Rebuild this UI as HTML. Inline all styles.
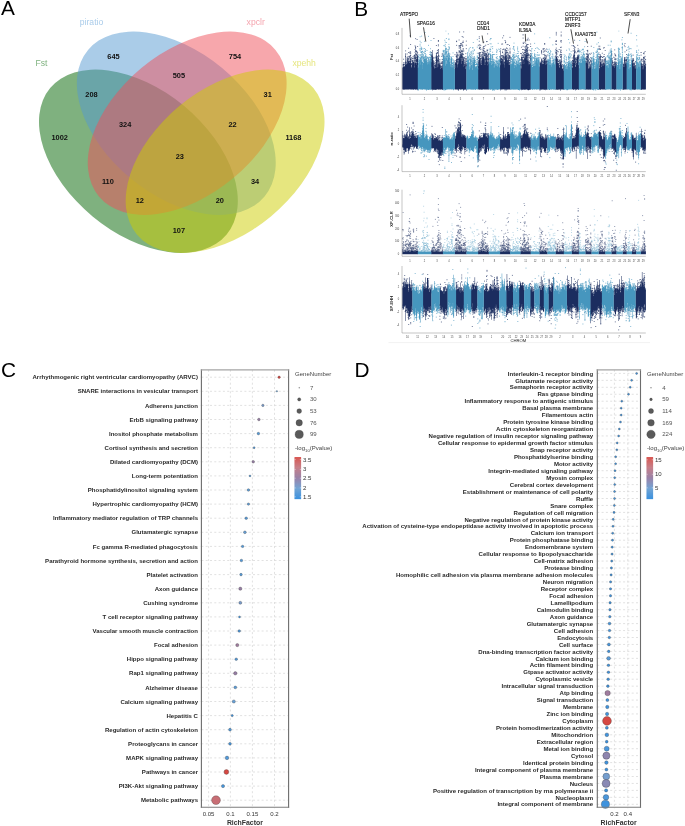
<!DOCTYPE html>
<html lang="en"><head><meta charset="utf-8"><title>Figure</title>
<style>
html,body{margin:0;padding:0;background:#fff;}
body{width:685px;height:826px;overflow:hidden;font-family:"Liberation Sans", sans-serif;}
svg{display:block;position:absolute;left:0;top:0;}
</style></head>
<body>
<svg width="685" height="826" viewBox="0 0 685 826" font-family='"Liberation Sans", sans-serif'>
<text x="1.0" y="15.3" font-size="20.8" fill="#000">A</text>
<text x="354.2" y="16.0" font-size="20.8" fill="#000">B</text>
<text x="0.9" y="376.6" font-size="20.8" fill="#000">C</text>
<text x="354.4" y="376.7" font-size="20.8" fill="#000">D</text>
<g id="venn">
<ellipse cx="138.4" cy="161.25" rx="114.7" ry="71.7" transform="rotate(39.7 138.4 161.25)" fill="#006400" fill-opacity="0.5"/>
<ellipse cx="176.3" cy="123.2" rx="114.7" ry="71.7" transform="rotate(39.7 176.3 123.2)" fill="#5599d1" fill-opacity="0.5"/>
<ellipse cx="187.2" cy="123.2" rx="114.7" ry="71.7" transform="rotate(-39.7 187.2 123.2)" fill="#ef4f59" fill-opacity="0.5"/>
<ellipse cx="225.1" cy="161.25" rx="114.7" ry="71.7" transform="rotate(-39.7 225.1 161.25)" fill="#cdcd00" fill-opacity="0.5"/>
<g font-size="7.4" font-weight="bold" text-anchor="middle" fill="#111">
<text x="59.7" y="139.90">1002</text>
<text x="113.5" y="59.10">645</text>
<text x="235" y="59.10">754</text>
<text x="293.4" y="139.90">1168</text>
<text x="91.5" y="96.50">208</text>
<text x="178.9" y="77.80">505</text>
<text x="267.7" y="96.50">31</text>
<text x="125.1" y="127.30">324</text>
<text x="232.6" y="127.30">22</text>
<text x="179.8" y="158.60">23</text>
<text x="107.9" y="184.20">110</text>
<text x="255" y="184.20">34</text>
<text x="139.8" y="202.80">12</text>
<text x="219.8" y="202.80">20</text>
<text x="178.9" y="233.10">107</text>
</g>
<g font-size="8.6">
<text x="35.4" y="65.5" fill="#7fb27f">Fst</text>
<text x="79.8" y="25.1" fill="#aaccea">piratio</text>
<text x="246.6" y="25.1" fill="#f5a5af">xpclr</text>
<text x="292.4" y="65.5" fill="#e6e67f">xpehh</text>
</g>
</g>
<g id="pc">
<path d="M201.4 377.20H288.6M201.4 391.30H288.6M201.4 405.40H288.6M201.4 419.50H288.6M201.4 433.60H288.6M201.4 447.70H288.6M201.4 461.80H288.6M201.4 475.90H288.6M201.4 490.00H288.6M201.4 504.10H288.6M201.4 518.20H288.6M201.4 532.30H288.6M201.4 546.40H288.6M201.4 560.50H288.6M201.4 574.60H288.6M201.4 588.70H288.6M201.4 602.80H288.6M201.4 616.90H288.6M201.4 631.00H288.6M201.4 645.10H288.6M201.4 659.20H288.6M201.4 673.30H288.6M201.4 687.40H288.6M201.4 701.50H288.6M201.4 715.60H288.6M201.4 729.70H288.6M201.4 743.80H288.6M201.4 757.90H288.6M201.4 772.00H288.6M201.4 786.10H288.6M201.4 800.20H288.6M208.6 369.8V807.3M230.4 369.8V807.3M252.4 369.8V807.3M274.5 369.8V807.3" stroke="#d4d4d4" stroke-width="0.7" stroke-dasharray="2 2.3" fill="none"/>
<path d="M199.6 377.20H201.4M199.6 391.30H201.4M199.6 405.40H201.4M199.6 419.50H201.4M199.6 433.60H201.4M199.6 447.70H201.4M199.6 461.80H201.4M199.6 475.90H201.4M199.6 490.00H201.4M199.6 504.10H201.4M199.6 518.20H201.4M199.6 532.30H201.4M199.6 546.40H201.4M199.6 560.50H201.4M199.6 574.60H201.4M199.6 588.70H201.4M199.6 602.80H201.4M199.6 616.90H201.4M199.6 631.00H201.4M199.6 645.10H201.4M199.6 659.20H201.4M199.6 673.30H201.4M199.6 687.40H201.4M199.6 701.50H201.4M199.6 715.60H201.4M199.6 729.70H201.4M199.6 743.80H201.4M199.6 757.90H201.4M199.6 772.00H201.4M199.6 786.10H201.4M199.6 800.20H201.4M208.6 807.3V809.0999999999999M230.4 807.3V809.0999999999999M252.4 807.3V809.0999999999999M274.5 807.3V809.0999999999999" stroke="#e8e8e8" stroke-width="0.4" fill="none"/>
<circle cx="279.1" cy="377.20" r="1.20" fill="#d64842" stroke="#333" stroke-width="0.3"/>
<circle cx="276.9" cy="391.30" r="0.70" fill="#5a9cd8" stroke="#333" stroke-width="0.3"/>
<circle cx="262.9" cy="405.40" r="1.20" fill="#789bcb" stroke="#333" stroke-width="0.3"/>
<circle cx="258.9" cy="419.50" r="1.30" fill="#967da5" stroke="#333" stroke-width="0.3"/>
<circle cx="258.4" cy="433.60" r="1.30" fill="#549ad9" stroke="#333" stroke-width="0.3"/>
<circle cx="254.1" cy="447.70" r="1.00" fill="#5098da" stroke="#333" stroke-width="0.3"/>
<circle cx="253.2" cy="461.80" r="1.30" fill="#967da5" stroke="#333" stroke-width="0.3"/>
<circle cx="250.0" cy="475.90" r="0.90" fill="#4b97db" stroke="#333" stroke-width="0.3"/>
<circle cx="248.4" cy="490.00" r="1.30" fill="#5a9cd8" stroke="#333" stroke-width="0.3"/>
<circle cx="248.4" cy="504.10" r="1.20" fill="#5a9cd8" stroke="#333" stroke-width="0.3"/>
<circle cx="246.2" cy="518.20" r="1.30" fill="#549ad9" stroke="#333" stroke-width="0.3"/>
<circle cx="244.9" cy="532.30" r="1.40" fill="#659fd6" stroke="#333" stroke-width="0.3"/>
<circle cx="242.6" cy="546.40" r="1.20" fill="#4b97db" stroke="#333" stroke-width="0.3"/>
<circle cx="241.4" cy="560.50" r="1.30" fill="#5098da" stroke="#333" stroke-width="0.3"/>
<circle cx="241.0" cy="574.60" r="1.30" fill="#549ad9" stroke="#333" stroke-width="0.3"/>
<circle cx="240.3" cy="588.70" r="1.60" fill="#967da5" stroke="#333" stroke-width="0.3"/>
<circle cx="240.3" cy="602.80" r="1.50" fill="#789bcb" stroke="#333" stroke-width="0.3"/>
<circle cx="239.5" cy="616.90" r="1.00" fill="#4595dc" stroke="#333" stroke-width="0.3"/>
<circle cx="239.2" cy="631.00" r="1.30" fill="#5098da" stroke="#333" stroke-width="0.3"/>
<circle cx="237.3" cy="645.10" r="1.60" fill="#9f7c9e" stroke="#333" stroke-width="0.3"/>
<circle cx="236.2" cy="659.20" r="1.30" fill="#549ad9" stroke="#333" stroke-width="0.3"/>
<circle cx="235.3" cy="673.30" r="1.70" fill="#967da5" stroke="#333" stroke-width="0.3"/>
<circle cx="235.3" cy="687.40" r="1.40" fill="#5a9cd8" stroke="#333" stroke-width="0.3"/>
<circle cx="233.8" cy="701.50" r="1.60" fill="#659fd6" stroke="#333" stroke-width="0.3"/>
<circle cx="232.2" cy="715.60" r="1.10" fill="#3e92dd" stroke="#333" stroke-width="0.3"/>
<circle cx="230.0" cy="729.70" r="1.40" fill="#4b97db" stroke="#333" stroke-width="0.3"/>
<circle cx="230.0" cy="743.80" r="1.40" fill="#4595dc" stroke="#333" stroke-width="0.3"/>
<circle cx="227.0" cy="757.90" r="1.80" fill="#5098da" stroke="#333" stroke-width="0.3"/>
<circle cx="226.4" cy="772.00" r="2.40" fill="#d64842" stroke="#333" stroke-width="0.3"/>
<circle cx="223.0" cy="786.10" r="1.60" fill="#4595dc" stroke="#333" stroke-width="0.3"/>
<circle cx="216.0" cy="800.20" r="4.40" fill="#c86e75" stroke="#333" stroke-width="0.3"/>
<path d="M201.4 369.25V807.8499999999999M288.6 369.25V807.8499999999999" fill="none" stroke="#6c6c6c" stroke-width="1.1"/>
<path d="M200.85 807.3H289.15000000000003" fill="none" stroke="#7c7c7c" stroke-width="1.1"/>
<path d="M200.85 369.8H289.15000000000003" fill="none" stroke="#a4a4a4" stroke-width="1.3"/>
<g font-size="6.05" font-weight="bold" text-anchor="end" fill="#2a2a2a">
<text x="198.0" y="379.38">Arrhythmogenic right ventricular cardiomyopathy (ARVC)</text>
<text x="198.0" y="393.48">SNARE interactions in vesicular transport</text>
<text x="198.0" y="407.58">Adherens junction</text>
<text x="198.0" y="421.68">ErbB signaling pathway</text>
<text x="198.0" y="435.78">Inositol phosphate metabolism</text>
<text x="198.0" y="449.88">Cortisol synthesis and secretion</text>
<text x="198.0" y="463.98">Dilated cardiomyopathy (DCM)</text>
<text x="198.0" y="478.08">Long-term potentiation</text>
<text x="198.0" y="492.18">Phosphatidylinositol signaling system</text>
<text x="198.0" y="506.28">Hypertrophic cardiomyopathy (HCM)</text>
<text x="198.0" y="520.38">Inflammatory mediator regulation of TRP channels</text>
<text x="198.0" y="534.48">Glutamatergic synapse</text>
<text x="198.0" y="548.58">Fc gamma R-mediated phagocytosis</text>
<text x="198.0" y="562.68">Parathyroid hormone synthesis, secretion and action</text>
<text x="198.0" y="576.78">Platelet activation</text>
<text x="198.0" y="590.88">Axon guidance</text>
<text x="198.0" y="604.98">Cushing syndrome</text>
<text x="198.0" y="619.08">T cell receptor signaling pathway</text>
<text x="198.0" y="633.18">Vascular smooth muscle contraction</text>
<text x="198.0" y="647.28">Focal adhesion</text>
<text x="198.0" y="661.38">Hippo signaling pathway</text>
<text x="198.0" y="675.48">Rap1 signaling pathway</text>
<text x="198.0" y="689.58">Alzheimer disease</text>
<text x="198.0" y="703.68">Calcium signaling pathway</text>
<text x="198.0" y="717.78">Hepatitis C</text>
<text x="198.0" y="731.88">Regulation of actin cytoskeleton</text>
<text x="198.0" y="745.98">Proteoglycans in cancer</text>
<text x="198.0" y="760.08">MAPK signaling pathway</text>
<text x="198.0" y="774.18">Pathways in cancer</text>
<text x="198.0" y="788.28">PI3K-Akt signaling pathway</text>
<text x="198.0" y="802.38">Metabolic pathways</text>
</g>
<g font-size="6.05" text-anchor="middle" fill="#333">
<text x="208.6" y="815.85">0.05</text>
<text x="230.4" y="815.85">0.1</text>
<text x="252.4" y="815.85">0.15</text>
<text x="274.5" y="815.85">0.2</text>
</g>
<text x="244.9" y="824.9" font-size="6.9" font-weight="bold" text-anchor="middle" fill="#333">RichFactor</text>
<text x="295" y="375.7" font-size="6.05" fill="#444">GeneNumber</text>
<circle cx="299.2" cy="387.8" r="0.4" fill="#5a5a5a" stroke="#333" stroke-width="0.3"/>
<text x="310" y="389.8" font-size="6.05" fill="#555">7</text>
<circle cx="299.2" cy="399.4" r="1.6" fill="#5a5a5a" stroke="#333" stroke-width="0.3"/>
<text x="310" y="401.4" font-size="6.05" fill="#555">30</text>
<circle cx="299.2" cy="411.1" r="2.4" fill="#5a5a5a" stroke="#333" stroke-width="0.3"/>
<text x="310" y="413.1" font-size="6.05" fill="#555">53</text>
<circle cx="299.2" cy="422.8" r="3.2" fill="#5a5a5a" stroke="#333" stroke-width="0.3"/>
<text x="310" y="424.8" font-size="6.05" fill="#555">76</text>
<circle cx="299.2" cy="434.4" r="4.1" fill="#5a5a5a" stroke="#333" stroke-width="0.3"/>
<text x="310" y="436.4" font-size="6.05" fill="#555">99</text>
<text x="295" y="450.4" font-size="6.05" fill="#444">-log<tspan font-size="4.2" dy="1.4">10</tspan><tspan dy="-1.4">(Pvalue)</tspan></text>
<rect x="294.5" y="457.10" width="6.6" height="1.15" fill="#d54a45"/>
<rect x="294.5" y="458.10" width="6.6" height="1.15" fill="#d34f4b"/>
<rect x="294.5" y="459.10" width="6.6" height="1.15" fill="#d25351"/>
<rect x="294.5" y="460.09" width="6.6" height="1.15" fill="#d05857"/>
<rect x="294.5" y="461.09" width="6.6" height="1.15" fill="#ce5d5d"/>
<rect x="294.5" y="462.09" width="6.6" height="1.15" fill="#cd6164"/>
<rect x="294.5" y="463.09" width="6.6" height="1.15" fill="#cb666a"/>
<rect x="294.5" y="464.08" width="6.6" height="1.15" fill="#c96a70"/>
<rect x="294.5" y="465.08" width="6.6" height="1.15" fill="#c76f76"/>
<rect x="294.5" y="466.08" width="6.6" height="1.15" fill="#c6737c"/>
<rect x="294.5" y="467.08" width="6.6" height="1.15" fill="#c47882"/>
<rect x="294.5" y="468.07" width="6.6" height="1.15" fill="#c07885"/>
<rect x="294.5" y="469.07" width="6.6" height="1.15" fill="#bb7989"/>
<rect x="294.5" y="470.07" width="6.6" height="1.15" fill="#b7798c"/>
<rect x="294.5" y="471.07" width="6.6" height="1.15" fill="#b27a8f"/>
<rect x="294.5" y="472.06" width="6.6" height="1.15" fill="#ae7a93"/>
<rect x="294.5" y="473.06" width="6.6" height="1.15" fill="#aa7b96"/>
<rect x="294.5" y="474.06" width="6.6" height="1.15" fill="#a57b99"/>
<rect x="294.5" y="475.06" width="6.6" height="1.15" fill="#a17c9d"/>
<rect x="294.5" y="476.05" width="6.6" height="1.15" fill="#9d7ca0"/>
<rect x="294.5" y="477.05" width="6.6" height="1.15" fill="#987da3"/>
<rect x="294.5" y="478.05" width="6.6" height="1.15" fill="#947fa7"/>
<rect x="294.5" y="479.05" width="6.6" height="1.15" fill="#9182ac"/>
<rect x="294.5" y="480.05" width="6.6" height="1.15" fill="#8d86b0"/>
<rect x="294.5" y="481.04" width="6.6" height="1.15" fill="#898ab5"/>
<rect x="294.5" y="482.04" width="6.6" height="1.15" fill="#868db9"/>
<rect x="294.5" y="483.04" width="6.6" height="1.15" fill="#8291be"/>
<rect x="294.5" y="484.04" width="6.6" height="1.15" fill="#7e95c2"/>
<rect x="294.5" y="485.03" width="6.6" height="1.15" fill="#7b98c7"/>
<rect x="294.5" y="486.03" width="6.6" height="1.15" fill="#779ccb"/>
<rect x="294.5" y="487.03" width="6.6" height="1.15" fill="#749fd0"/>
<rect x="294.5" y="488.03" width="6.6" height="1.15" fill="#70a3d4"/>
<rect x="294.5" y="489.02" width="6.6" height="1.15" fill="#6ba1d5"/>
<rect x="294.5" y="490.02" width="6.6" height="1.15" fill="#66a0d6"/>
<rect x="294.5" y="491.02" width="6.6" height="1.15" fill="#619ed7"/>
<rect x="294.5" y="492.02" width="6.6" height="1.15" fill="#5b9cd8"/>
<rect x="294.5" y="493.01" width="6.6" height="1.15" fill="#569ad9"/>
<rect x="294.5" y="494.01" width="6.6" height="1.15" fill="#5199da"/>
<rect x="294.5" y="495.01" width="6.6" height="1.15" fill="#4c97db"/>
<rect x="294.5" y="496.01" width="6.6" height="1.15" fill="#4795dc"/>
<rect x="294.5" y="497.00" width="6.6" height="1.15" fill="#4294dd"/>
<rect x="294.5" y="498.00" width="6.6" height="1.15" fill="#3d92de"/>
<text x="303" y="461.5" font-size="6.05" fill="#333">3.5</text>
<text x="303" y="471.29999999999995" font-size="6.05" fill="#333">3</text>
<text x="303" y="480.09999999999997" font-size="6.05" fill="#333">2.5</text>
<text x="303" y="489.79999999999995" font-size="6.05" fill="#333">2</text>
<text x="303" y="498.7" font-size="6.05" fill="#333">1.5</text>
<path d="M294.5 459.6h1.3M301.1 459.6h-1.3M294.5 469.4h1.3M301.1 469.4h-1.3M294.5 478.2h1.3M301.1 478.2h-1.3M294.5 487.9h1.3M301.1 487.9h-1.3M294.5 496.8h1.3M301.1 496.8h-1.3" stroke="#fff" stroke-width="0.4" fill="none"/>
</g>
<g id="pd">
<path d="M597.3 373.40H640.5M597.3 380.35H640.5M597.3 387.30H640.5M597.3 394.25H640.5M597.3 401.20H640.5M597.3 408.15H640.5M597.3 415.10H640.5M597.3 422.05H640.5M597.3 429.00H640.5M597.3 435.95H640.5M597.3 442.90H640.5M597.3 449.85H640.5M597.3 456.80H640.5M597.3 463.75H640.5M597.3 470.70H640.5M597.3 477.65H640.5M597.3 484.60H640.5M597.3 491.55H640.5M597.3 498.50H640.5M597.3 505.45H640.5M597.3 512.40H640.5M597.3 519.35H640.5M597.3 526.30H640.5M597.3 533.25H640.5M597.3 540.20H640.5M597.3 547.15H640.5M597.3 554.10H640.5M597.3 561.05H640.5M597.3 568.00H640.5M597.3 574.95H640.5M597.3 581.90H640.5M597.3 588.85H640.5M597.3 595.80H640.5M597.3 602.75H640.5M597.3 609.70H640.5M597.3 616.65H640.5M597.3 623.60H640.5M597.3 630.55H640.5M597.3 637.50H640.5M597.3 644.45H640.5M597.3 651.40H640.5M597.3 658.35H640.5M597.3 665.30H640.5M597.3 672.25H640.5M597.3 679.20H640.5M597.3 686.15H640.5M597.3 693.10H640.5M597.3 700.05H640.5M597.3 707.00H640.5M597.3 713.95H640.5M597.3 720.90H640.5M597.3 727.85H640.5M597.3 734.80H640.5M597.3 741.75H640.5M597.3 748.70H640.5M597.3 755.65H640.5M597.3 762.60H640.5M597.3 769.55H640.5M597.3 776.50H640.5M597.3 783.45H640.5M597.3 790.40H640.5M597.3 797.35H640.5M597.3 804.30H640.5M614.4 369.8V807.3M627.8 369.8V807.3" stroke="#d4d4d4" stroke-width="0.7" stroke-dasharray="2 2.3" fill="none"/>
<path d="M595.5 373.40H597.3M595.5 380.35H597.3M595.5 387.30H597.3M595.5 394.25H597.3M595.5 401.20H597.3M595.5 408.15H597.3M595.5 415.10H597.3M595.5 422.05H597.3M595.5 429.00H597.3M595.5 435.95H597.3M595.5 442.90H597.3M595.5 449.85H597.3M595.5 456.80H597.3M595.5 463.75H597.3M595.5 470.70H597.3M595.5 477.65H597.3M595.5 484.60H597.3M595.5 491.55H597.3M595.5 498.50H597.3M595.5 505.45H597.3M595.5 512.40H597.3M595.5 519.35H597.3M595.5 526.30H597.3M595.5 533.25H597.3M595.5 540.20H597.3M595.5 547.15H597.3M595.5 554.10H597.3M595.5 561.05H597.3M595.5 568.00H597.3M595.5 574.95H597.3M595.5 581.90H597.3M595.5 588.85H597.3M595.5 595.80H597.3M595.5 602.75H597.3M595.5 609.70H597.3M595.5 616.65H597.3M595.5 623.60H597.3M595.5 630.55H597.3M595.5 637.50H597.3M595.5 644.45H597.3M595.5 651.40H597.3M595.5 658.35H597.3M595.5 665.30H597.3M595.5 672.25H597.3M595.5 679.20H597.3M595.5 686.15H597.3M595.5 693.10H597.3M595.5 700.05H597.3M595.5 707.00H597.3M595.5 713.95H597.3M595.5 720.90H597.3M595.5 727.85H597.3M595.5 734.80H597.3M595.5 741.75H597.3M595.5 748.70H597.3M595.5 755.65H597.3M595.5 762.60H597.3M595.5 769.55H597.3M595.5 776.50H597.3M595.5 783.45H597.3M595.5 790.40H597.3M595.5 797.35H597.3M595.5 804.30H597.3M614.4 807.3V809.0999999999999M627.8 807.3V809.0999999999999" stroke="#e8e8e8" stroke-width="0.4" fill="none"/>
<circle cx="636.6" cy="373.40" r="1.00" fill="#4093dd" stroke="#333" stroke-width="0.3"/>
<circle cx="631.6" cy="380.35" r="1.00" fill="#4093dd" stroke="#333" stroke-width="0.3"/>
<circle cx="630.2" cy="387.30" r="1.00" fill="#4093dd" stroke="#333" stroke-width="0.3"/>
<circle cx="628.5" cy="394.25" r="1.00" fill="#4093dd" stroke="#333" stroke-width="0.3"/>
<circle cx="621.8" cy="401.20" r="1.00" fill="#4093dd" stroke="#333" stroke-width="0.3"/>
<circle cx="621.2" cy="408.15" r="1.00" fill="#4093dd" stroke="#333" stroke-width="0.3"/>
<circle cx="621.2" cy="415.10" r="1.00" fill="#4093dd" stroke="#333" stroke-width="0.3"/>
<circle cx="620.5" cy="422.05" r="1.00" fill="#4093dd" stroke="#333" stroke-width="0.3"/>
<circle cx="619.3" cy="429.00" r="1.00" fill="#4093dd" stroke="#333" stroke-width="0.3"/>
<circle cx="618.6" cy="435.95" r="1.00" fill="#4093dd" stroke="#333" stroke-width="0.3"/>
<circle cx="617.2" cy="442.90" r="1.00" fill="#4093dd" stroke="#333" stroke-width="0.3"/>
<circle cx="616.9" cy="449.85" r="1.00" fill="#4093dd" stroke="#333" stroke-width="0.3"/>
<circle cx="615.7" cy="456.80" r="1.00" fill="#4093dd" stroke="#333" stroke-width="0.3"/>
<circle cx="615.6" cy="463.75" r="1.00" fill="#4093dd" stroke="#333" stroke-width="0.3"/>
<circle cx="615.0" cy="470.70" r="1.00" fill="#4093dd" stroke="#333" stroke-width="0.3"/>
<circle cx="614.7" cy="477.65" r="1.00" fill="#4093dd" stroke="#333" stroke-width="0.3"/>
<circle cx="614.7" cy="484.60" r="1.00" fill="#4093dd" stroke="#333" stroke-width="0.3"/>
<circle cx="614.55" cy="491.55" r="1.00" fill="#4093dd" stroke="#333" stroke-width="0.3"/>
<circle cx="614.55" cy="498.50" r="1.01" fill="#4093dd" stroke="#333" stroke-width="0.3"/>
<circle cx="614.3" cy="505.45" r="1.02" fill="#4093dd" stroke="#333" stroke-width="0.3"/>
<circle cx="614.0" cy="512.40" r="1.04" fill="#4093dd" stroke="#333" stroke-width="0.3"/>
<circle cx="613.2" cy="519.35" r="1.05" fill="#4093dd" stroke="#333" stroke-width="0.3"/>
<circle cx="613.0" cy="526.30" r="1.06" fill="#4093dd" stroke="#333" stroke-width="0.3"/>
<circle cx="612.7" cy="533.25" r="1.07" fill="#4093dd" stroke="#333" stroke-width="0.3"/>
<circle cx="612.5" cy="540.20" r="1.08" fill="#4093dd" stroke="#333" stroke-width="0.3"/>
<circle cx="612.2" cy="547.15" r="1.10" fill="#4093dd" stroke="#333" stroke-width="0.3"/>
<circle cx="612.1" cy="554.10" r="1.11" fill="#4093dd" stroke="#333" stroke-width="0.3"/>
<circle cx="611.8" cy="561.05" r="1.12" fill="#4093dd" stroke="#333" stroke-width="0.3"/>
<circle cx="611.4" cy="568.00" r="1.13" fill="#4093dd" stroke="#333" stroke-width="0.3"/>
<circle cx="611.1" cy="574.95" r="1.14" fill="#4093dd" stroke="#333" stroke-width="0.3"/>
<circle cx="610.6" cy="581.90" r="1.16" fill="#4093dd" stroke="#333" stroke-width="0.3"/>
<circle cx="610.5" cy="588.85" r="1.17" fill="#4093dd" stroke="#333" stroke-width="0.3"/>
<circle cx="610.5" cy="595.80" r="1.18" fill="#4093dd" stroke="#333" stroke-width="0.3"/>
<circle cx="610.05" cy="602.75" r="1.19" fill="#4093dd" stroke="#333" stroke-width="0.3"/>
<circle cx="609.9" cy="609.70" r="1.20" fill="#4093dd" stroke="#333" stroke-width="0.3"/>
<circle cx="609.8" cy="616.65" r="1.22" fill="#4093dd" stroke="#333" stroke-width="0.3"/>
<circle cx="609.5" cy="623.60" r="1.40" fill="#4595dc" stroke="#333" stroke-width="0.3"/>
<circle cx="609.5" cy="630.55" r="1.24" fill="#4093dd" stroke="#333" stroke-width="0.3"/>
<circle cx="609.3" cy="637.50" r="1.25" fill="#4093dd" stroke="#333" stroke-width="0.3"/>
<circle cx="608.9" cy="644.45" r="1.50" fill="#4595dc" stroke="#333" stroke-width="0.3"/>
<circle cx="608.7" cy="651.40" r="1.28" fill="#4093dd" stroke="#333" stroke-width="0.3"/>
<circle cx="608.6" cy="658.35" r="1.90" fill="#5a9cd8" stroke="#333" stroke-width="0.3"/>
<circle cx="608.45" cy="665.30" r="1.30" fill="#4093dd" stroke="#333" stroke-width="0.3"/>
<circle cx="608.45" cy="672.25" r="1.31" fill="#4093dd" stroke="#333" stroke-width="0.3"/>
<circle cx="608.2" cy="679.20" r="1.32" fill="#4093dd" stroke="#333" stroke-width="0.3"/>
<circle cx="607.9" cy="686.15" r="1.34" fill="#4093dd" stroke="#333" stroke-width="0.3"/>
<circle cx="607.6" cy="693.10" r="2.70" fill="#9f7c9e" stroke="#333" stroke-width="0.3"/>
<circle cx="607.4" cy="700.05" r="1.50" fill="#4093dd" stroke="#333" stroke-width="0.3"/>
<circle cx="607.3" cy="707.00" r="1.70" fill="#4093dd" stroke="#333" stroke-width="0.3"/>
<circle cx="607.1" cy="713.95" r="1.70" fill="#4093dd" stroke="#333" stroke-width="0.3"/>
<circle cx="607.0" cy="720.90" r="4.40" fill="#d64842" stroke="#333" stroke-width="0.3"/>
<circle cx="606.85" cy="727.85" r="1.50" fill="#4093dd" stroke="#333" stroke-width="0.3"/>
<circle cx="606.85" cy="734.80" r="1.90" fill="#4093dd" stroke="#333" stroke-width="0.3"/>
<circle cx="606.7" cy="741.75" r="1.40" fill="#3a91de" stroke="#333" stroke-width="0.3"/>
<circle cx="606.7" cy="748.70" r="2.50" fill="#4b97db" stroke="#333" stroke-width="0.3"/>
<circle cx="606.4" cy="755.65" r="3.60" fill="#8e85ae" stroke="#333" stroke-width="0.3"/>
<circle cx="606.4" cy="762.60" r="1.80" fill="#4093dd" stroke="#333" stroke-width="0.3"/>
<circle cx="606.4" cy="769.55" r="1.50" fill="#3a91de" stroke="#333" stroke-width="0.3"/>
<circle cx="606.3" cy="776.50" r="3.40" fill="#759ece" stroke="#333" stroke-width="0.3"/>
<circle cx="606.1" cy="783.45" r="4.00" fill="#8a89b4" stroke="#333" stroke-width="0.3"/>
<circle cx="606.1" cy="790.40" r="1.60" fill="#3a91de" stroke="#333" stroke-width="0.3"/>
<circle cx="606.0" cy="797.35" r="2.80" fill="#4b97db" stroke="#333" stroke-width="0.3"/>
<circle cx="605.4" cy="804.30" r="4.10" fill="#3e92dd" stroke="#333" stroke-width="0.3"/>
<path d="M597.3 369.25V807.8499999999999M640.5 369.25V807.8499999999999" fill="none" stroke="#6c6c6c" stroke-width="1.1"/>
<path d="M596.75 807.3H641.05" fill="none" stroke="#7c7c7c" stroke-width="1.1"/>
<path d="M596.75 369.8H641.05" fill="none" stroke="#a4a4a4" stroke-width="1.3"/>
<g font-size="6.05" font-weight="bold" text-anchor="end" fill="#2a2a2a">
<text x="593.2" y="375.58">Interleukin-1 receptor binding</text>
<text x="593.2" y="382.53">Glutamate receptor activity</text>
<text x="593.2" y="389.48">Semaphorin receptor activity</text>
<text x="593.2" y="396.43">Ras gtpase binding</text>
<text x="593.2" y="403.38">Inflammatory response to antigenic stimulus</text>
<text x="593.2" y="410.33">Basal plasma membrane</text>
<text x="593.2" y="417.28">Filamentous actin</text>
<text x="593.2" y="424.23">Protein tyrosine kinase binding</text>
<text x="593.2" y="431.18">Actin cytoskeleton reorganization</text>
<text x="593.2" y="438.13">Negative regulation of insulin receptor signaling pathway</text>
<text x="593.2" y="445.08">Cellular response to epidermal growth factor stimulus</text>
<text x="593.2" y="452.03">Snap receptor activity</text>
<text x="593.2" y="458.98">Phosphatidylserine binding</text>
<text x="593.2" y="465.93">Motor activity</text>
<text x="593.2" y="472.88">Integrin-mediated signaling pathway</text>
<text x="593.2" y="479.83">Myosin complex</text>
<text x="593.2" y="486.78">Cerebral cortex development</text>
<text x="593.2" y="493.73">Establishment or maintenance of cell polarity</text>
<text x="593.2" y="500.68">Ruffle</text>
<text x="593.2" y="507.63">Snare complex</text>
<text x="593.2" y="514.58">Regulation of cell migration</text>
<text x="593.2" y="521.53">Negative regulation of protein kinase activity</text>
<text x="593.2" y="528.48">Activation of cysteine-type endopeptidase activity involved in apoptotic process</text>
<text x="593.2" y="535.43">Calcium ion transport</text>
<text x="593.2" y="542.38">Protein phosphatase binding</text>
<text x="593.2" y="549.33">Endomembrane system</text>
<text x="593.2" y="556.28">Cellular response to lipopolysaccharide</text>
<text x="593.2" y="563.23">Cell-matrix adhesion</text>
<text x="593.2" y="570.18">Protease binding</text>
<text x="593.2" y="577.13">Homophilic cell adhesion via plasma membrane adhesion molecules</text>
<text x="593.2" y="584.08">Neuron migration</text>
<text x="593.2" y="591.03">Receptor complex</text>
<text x="593.2" y="597.98">Focal adhesion</text>
<text x="593.2" y="604.93">Lamellipodium</text>
<text x="593.2" y="611.88">Calmodulin binding</text>
<text x="593.2" y="618.83">Axon guidance</text>
<text x="593.2" y="625.78">Glutamatergic synapse</text>
<text x="593.2" y="632.73">Cell adhesion</text>
<text x="593.2" y="639.68">Endocytosis</text>
<text x="593.2" y="646.63">Cell surface</text>
<text x="593.2" y="653.58">Dna-binding transcription factor activity</text>
<text x="593.2" y="660.53">Calcium ion binding</text>
<text x="593.2" y="667.48">Actin filament binding</text>
<text x="593.2" y="674.43">Gtpase activator activity</text>
<text x="593.2" y="681.38">Cytoplasmic vesicle</text>
<text x="593.2" y="688.33">Intracellular signal transduction</text>
<text x="593.2" y="695.28">Atp binding</text>
<text x="593.2" y="702.23">Signal transduction</text>
<text x="593.2" y="709.18">Membrane</text>
<text x="593.2" y="716.13">Zinc ion binding</text>
<text x="593.2" y="723.08">Cytoplasm</text>
<text x="593.2" y="730.03">Protein homodimerization activity</text>
<text x="593.2" y="736.98">Mitochondrion</text>
<text x="593.2" y="743.93">Extracellular region</text>
<text x="593.2" y="750.88">Metal ion binding</text>
<text x="593.2" y="757.83">Cytosol</text>
<text x="593.2" y="764.78">Identical protein binding</text>
<text x="593.2" y="771.73">Integral component of plasma membrane</text>
<text x="593.2" y="778.68">Plasma membrane</text>
<text x="593.2" y="785.63">Nucleus</text>
<text x="593.2" y="792.58">Positive regulation of transcription by rna polymerase ii</text>
<text x="593.2" y="799.53">Nucleoplasm</text>
<text x="593.2" y="806.48">Integral component of membrane</text>
</g>
<g font-size="6.05" text-anchor="middle" fill="#333">
<text x="614.4" y="815.75">0.2</text>
<text x="627.8" y="815.75">0.4</text>
</g>
<text x="618.6" y="824.8" font-size="6.9" font-weight="bold" text-anchor="middle" fill="#333">RichFactor</text>
<text x="647" y="375.7" font-size="6.05" fill="#444">GeneNumber</text>
<circle cx="651" cy="387.8" r="0.4" fill="#5a5a5a" stroke="#333" stroke-width="0.3"/>
<text x="662.2" y="389.8" font-size="6.05" fill="#555">4</text>
<circle cx="651" cy="399.4" r="1.3" fill="#5a5a5a" stroke="#333" stroke-width="0.3"/>
<text x="662.2" y="401.4" font-size="6.05" fill="#555">59</text>
<circle cx="651" cy="411.1" r="2.5" fill="#5a5a5a" stroke="#333" stroke-width="0.3"/>
<text x="662.2" y="413.1" font-size="6.05" fill="#555">114</text>
<circle cx="651" cy="422.8" r="3.3" fill="#5a5a5a" stroke="#333" stroke-width="0.3"/>
<text x="662.2" y="424.8" font-size="6.05" fill="#555">169</text>
<circle cx="651" cy="434.4" r="4.2" fill="#5a5a5a" stroke="#333" stroke-width="0.3"/>
<text x="662.2" y="436.4" font-size="6.05" fill="#555">224</text>
<text x="647" y="450.4" font-size="6.05" fill="#444">-log<tspan font-size="4.2" dy="1.4">10</tspan><tspan dy="-1.4">(Pvalue)</tspan></text>
<rect x="646.5" y="457.10" width="6.6" height="1.15" fill="#d54a45"/>
<rect x="646.5" y="458.10" width="6.6" height="1.15" fill="#d34f4b"/>
<rect x="646.5" y="459.10" width="6.6" height="1.15" fill="#d25351"/>
<rect x="646.5" y="460.09" width="6.6" height="1.15" fill="#d05857"/>
<rect x="646.5" y="461.09" width="6.6" height="1.15" fill="#ce5d5d"/>
<rect x="646.5" y="462.09" width="6.6" height="1.15" fill="#cd6164"/>
<rect x="646.5" y="463.09" width="6.6" height="1.15" fill="#cb666a"/>
<rect x="646.5" y="464.08" width="6.6" height="1.15" fill="#c96a70"/>
<rect x="646.5" y="465.08" width="6.6" height="1.15" fill="#c76f76"/>
<rect x="646.5" y="466.08" width="6.6" height="1.15" fill="#c6737c"/>
<rect x="646.5" y="467.08" width="6.6" height="1.15" fill="#c47882"/>
<rect x="646.5" y="468.07" width="6.6" height="1.15" fill="#c07885"/>
<rect x="646.5" y="469.07" width="6.6" height="1.15" fill="#bb7989"/>
<rect x="646.5" y="470.07" width="6.6" height="1.15" fill="#b7798c"/>
<rect x="646.5" y="471.07" width="6.6" height="1.15" fill="#b27a8f"/>
<rect x="646.5" y="472.06" width="6.6" height="1.15" fill="#ae7a93"/>
<rect x="646.5" y="473.06" width="6.6" height="1.15" fill="#aa7b96"/>
<rect x="646.5" y="474.06" width="6.6" height="1.15" fill="#a57b99"/>
<rect x="646.5" y="475.06" width="6.6" height="1.15" fill="#a17c9d"/>
<rect x="646.5" y="476.05" width="6.6" height="1.15" fill="#9d7ca0"/>
<rect x="646.5" y="477.05" width="6.6" height="1.15" fill="#987da3"/>
<rect x="646.5" y="478.05" width="6.6" height="1.15" fill="#947fa7"/>
<rect x="646.5" y="479.05" width="6.6" height="1.15" fill="#9182ac"/>
<rect x="646.5" y="480.05" width="6.6" height="1.15" fill="#8d86b0"/>
<rect x="646.5" y="481.04" width="6.6" height="1.15" fill="#898ab5"/>
<rect x="646.5" y="482.04" width="6.6" height="1.15" fill="#868db9"/>
<rect x="646.5" y="483.04" width="6.6" height="1.15" fill="#8291be"/>
<rect x="646.5" y="484.04" width="6.6" height="1.15" fill="#7e95c2"/>
<rect x="646.5" y="485.03" width="6.6" height="1.15" fill="#7b98c7"/>
<rect x="646.5" y="486.03" width="6.6" height="1.15" fill="#779ccb"/>
<rect x="646.5" y="487.03" width="6.6" height="1.15" fill="#749fd0"/>
<rect x="646.5" y="488.03" width="6.6" height="1.15" fill="#70a3d4"/>
<rect x="646.5" y="489.02" width="6.6" height="1.15" fill="#6ba1d5"/>
<rect x="646.5" y="490.02" width="6.6" height="1.15" fill="#66a0d6"/>
<rect x="646.5" y="491.02" width="6.6" height="1.15" fill="#619ed7"/>
<rect x="646.5" y="492.02" width="6.6" height="1.15" fill="#5b9cd8"/>
<rect x="646.5" y="493.01" width="6.6" height="1.15" fill="#569ad9"/>
<rect x="646.5" y="494.01" width="6.6" height="1.15" fill="#5199da"/>
<rect x="646.5" y="495.01" width="6.6" height="1.15" fill="#4c97db"/>
<rect x="646.5" y="496.01" width="6.6" height="1.15" fill="#4795dc"/>
<rect x="646.5" y="497.00" width="6.6" height="1.15" fill="#4294dd"/>
<rect x="646.5" y="498.00" width="6.6" height="1.15" fill="#3d92de"/>
<text x="654.9" y="461.7" font-size="6.05" fill="#333">15</text>
<text x="654.9" y="476.2" font-size="6.05" fill="#333">10</text>
<text x="654.9" y="489.7" font-size="6.05" fill="#333">5</text>
<path d="M646.5 459.8h1.3M653.1 459.8h-1.3M646.5 474.3h1.3M653.1 474.3h-1.3M646.5 487.8h1.3M653.1 487.8h-1.3" stroke="#fff" stroke-width="0.4" fill="none"/>
</g>
<g id="manh">
<path d="M403.1 64.3v.8M403.1 65.4v.8M403.6 58.8v.8M403.6 62.4v.8M403.6 64v1.2M404.1 64.3v.8M404.6 63.7v.8M404.6 66v.8M405.1 62.2v.8M405.6 50.5v.8M405.6 56.2v.8M405.6 60.8v.8M405.6 62.3v1.5M406.1 62.4v.8M406.1 64.3v1.9M406.6 62.7v.8M407.1 53.6v.8M407.1 57.1v.8M407.1 58.3v1.8M407.1 60.2v3.4M407.6 58.4v.8M407.6 59.5v2.2M407.6 63.5v.8M408.1 55.9v1.6M408.1 58.3v.8M408.6 47.8v.8M408.6 52v.8M408.6 58.3v1.2M409.1 60.7v1.3M409.6 52.6v.8M409.6 56.1v.8M409.6 57.5v.8M409.6 61.5v1.1M410.1 35.5v.8M410.1 51.5v.8M410.1 55.4v2.9M410.1 58.6v2.1M410.1 61v.8M410.6 44.1v.8M410.6 51.6v.9M410.6 52.9v.9M410.6 54.7v1.3M410.6 58.2v1.7M411.1 59v.8M411.1 60.3v1.3M411.1 63.4v1.3M411.6 57.4v.8M411.6 63.4v.8M411.6 64.3v.8M411.6 66.7v.8M412.1 57.9v.9M412.1 59.9v.8M412.1 60.9v.8M412.1 62.8v.8M412.6 57.9v.8M412.6 60.2v2.2M412.6 63v.8M412.6 63.9v1.7M413.1 56.2v.8M413.1 59.6v.8M413.1 61.9v2.2M413.6 57.8v.8M413.6 61.8v1.3M414.1 55.3v.9M414.1 57.5v.8M414.1 60.2v1.7M414.1 62.3v1.3M414.6 54.6v2.1M414.6 57.2v.8M414.6 58.2v1.1M414.6 59.6v1M414.6 62.4v4.3M415.1 45.5v.8M415.1 49.1v.8M415.1 51.9v.8M415.1 55.6v1.7M415.1 57.7v1.4M415.1 59.7v.8M415.1 61.1v.9M415.6 38.3v.8M415.6 46.4v1.6M415.6 48.1v.8M415.6 50.2v.8M415.6 51.2v.8M415.6 53v.8M415.6 54.4v.8M415.6 56.9v2.1M415.6 59.6v.8M415.6 60.5v.8M416.1 50.6v.8M416.1 54v.8M416.1 55.2v.8M416.1 56.4v.8M416.1 58.5v1.6M416.1 60.2v.8M416.6 50.7v1.6M416.6 54.3v.8M416.6 57v.8M416.6 59.4v2.8M416.6 63v2.5M416.6 66.2v.8M417.1 39.2v.8M417.1 51.6v.8M417.1 52.9v.8M417.1 53.8v.9M417.1 54.9v.8M417.1 56.6v3M417.1 60.9v.8M417.6 46.1v.8M417.6 52.3v.8M417.6 55.3v4.1M417.6 59.7v2.7M417.6 62.9v.9M431.5 52.2v.8M431.5 54.7v1.2M431.5 56.1v.8M431.5 57v.8M431.5 58.3v3.5M431.5 62v4.9M432 53.7v.8M432 54.7v.8M432 56.2v1.6M432 58.1v.8M432 59.3v.8M432.4 55.5v3.5M432.4 59.4v3.5M432.9 58.6v.8M432.9 60.3v.8M432.9 61.6v.9M432.9 63.2v2.6M433.4 60.5v1M433.4 61.9v.8M433.4 63.2v.8M433.9 38.1v.8M433.9 56.9v1.7M433.9 61.2v4.7M434.4 63.4v.8M434.4 65.2v.8M434.4 66.3v.8M434.4 67.4v2M434.9 65.6v.8M435.4 62.4v.8M435.4 64.8v2.9M435.9 56.5v1.5M435.9 58.4v.8M435.9 60v.8M435.9 62.9v.9M435.9 64.3v.9M435.9 65.5v1.5M436.4 45.2v.8M436.4 53v.8M436.4 54.8v.8M436.4 55.7v.8M436.4 58.9v1.4M436.4 60.5v2.7M436.9 52.7v.8M436.9 57v2.6M437.4 50.1v.8M437.4 51.9v1.7M437.4 56.2v.8M437.4 58.7v1M437.4 59.8v1.7M437.9 56.6v.8M437.9 60v.8M437.9 61.6v.9M437.9 63.6v4.1M438.4 40v1M438.4 41.1v.8M438.4 44.4v.8M438.4 45.5v.8M438.4 49.1v.8M438.4 55.2v1.1M438.4 57.7v2M438.4 59.9v1.7M438.9 61.4v.8M439.3 55.7v.8M439.3 63.3v.9M439.3 65.9v2.4M439.8 59v.8M439.8 60.5v1.1M439.8 62.2v.8M439.8 63.5v1M440.3 62.9v.8M440.3 64.5v4M440.8 66.3v.8M441.3 63.1v.8M441.3 66v.9M441.3 67.4v1.8M441.8 56.1v.8M441.8 61.8v.9M441.8 62.8v.8M442.3 53.3v1.4M442.3 55.4v.8M442.3 58.9v1.3M442.3 61v3.2M442.3 64.8v1.8M442.8 63.8v.8M442.8 66.5v.8M442.8 67.8v2M455 54.3v.8M455 60.5v.8M455 62.3v.8M455 63.7v2.2M455 66.1v2.2M455.5 63.2v1.8M456.1 55.8v.8M456.1 60.1v.8M456.1 63.3v.8M456.6 40.7v1.4M456.6 44.9v.8M456.6 51.9v.8M456.6 55.6v.9M456.6 56.5v.9M456.6 59.1v1.1M456.6 60.3v2.1M457.1 54.7v.8M457.1 56.2v1.4M457.1 58.7v3.8M457.6 54.5v.8M457.6 59.1v.8M457.6 61.3v.8M457.6 64.4v4.7M458.1 54.9v.8M458.1 57.7v.8M458.1 58.6v.8M458.1 59.6v.8M458.1 62.1v1.1M458.6 58.9v1.2M458.6 60.6v1.5M458.6 62.4v2M459.1 39.6v.8M459.1 45.2v1.4M459.1 47.6v.8M459.1 50.3v.8M459.1 51.3v1.1M459.1 52.6v.8M459.1 54v.8M459.1 55.3v1.3M459.1 57.8v2.9M459.6 31.6v.8M459.6 45.5v.8M459.6 51.3v.8M459.6 56.7v3.7M460.1 45.7v.8M460.1 47.3v1.3M460.1 50.6v.8M460.1 52.1v.8M460.1 55.7v.8M460.1 56.7v7.9M460.6 43.2v.8M460.6 44.8v1.6M460.6 47.3v.8M460.6 48.8v.8M460.6 51.8v1.5M460.6 54.2v1.6M460.6 56.2v2.4M460.6 59.1v3.6M460.6 62.8v.8M461.2 43.8v.8M461.2 44.9v.8M461.2 49.9v.8M461.2 50.8v.8M461.2 53.3v1M461.2 55.4v1.3M461.2 57.1v1M461.2 59.3v.8M461.2 60.5v1.5M461.2 62.1v.8M461.7 42.9v.8M461.7 51.2v1.1M461.7 54.5v2.4M461.7 57.3v.8M462.2 36.2v.8M462.2 44.5v.8M462.2 50v.9M462.2 50.9v1M462.2 52.7v.8M462.2 54.5v.8M462.2 55.7v3.6M462.7 41.9v.8M462.7 44.9v.8M462.7 46.1v.8M462.7 51.4v.8M462.7 53.1v.9M462.7 54.2v.8M462.7 55.8v.8M462.7 56.8v1.2M462.7 58.5v2M462.7 60.8v2.1M463.2 36.8v.8M463.2 40.7v.8M463.2 42v.8M463.2 48.2v1.5M463.2 53.9v1.2M463.2 57.3v.8M463.2 58.4v1.3M463.2 60.4v2.4M463.2 62.9v2.4M463.7 31.5v.8M463.7 50.4v1.1M463.7 57.7v.8M463.7 58.9v2M463.7 61.4v.8M463.7 62.4v3.7M464.2 56.9v2.3M464.2 59.9v.8M464.2 64v1.2M464.7 60.9v.8M464.7 62v.9M465.2 63.8v2M465.2 65.8v2.9M465.8 53.3v.8M465.8 56.4v.8M465.8 58.2v.8M465.8 62.6v.8M465.8 65.2v1.5M466.3 40.7v.8M466.3 44.8v.8M466.3 48.3v.8M466.3 58.4v.8M466.3 59.5v.8M466.3 60.7v1.4M466.3 63.4v2.2M478.3 44.8v.8M478.3 52.9v.8M478.3 57v1.6M478.3 60.1v4.9M478.8 57.5v1.5M478.8 62.3v.8M478.8 63.5v.8M478.8 65v1.2M479.3 36.4v.8M479.3 37.9v.8M479.3 40.8v.8M479.3 45.5v.8M479.3 47.9v.9M479.3 52v1.6M479.3 54v2.6M479.3 56.9v.8M479.3 58.3v1.9M479.8 44v.8M479.8 47.2v2.1M479.8 52.8v2M479.8 55.2v1.2M480.3 47.2v.8M480.3 56.3v.8M480.3 58.1v.9M480.7 45.3v.8M480.7 49.3v.8M480.7 52v1.1M480.7 57.9v.8M480.7 58.9v1M480.7 60.3v.9M480.7 61.4v3.3M481.2 54v.8M481.2 55.1v1.2M481.2 57.7v.8M481.2 60.4v1.5M481.2 63v.8M481.7 56.5v.8M481.7 58.3v.8M482.2 48.7v.8M482.2 51.6v.8M482.2 57.1v.8M482.2 58.6v1.3M482.2 60v1.3M482.2 61.3v1.5M482.7 52.2v.8M482.7 53.4v1.6M482.7 56.5v.8M482.7 57.7v3M482.7 60.7v1.2M483.2 46.9v.8M483.2 49.8v1.2M483.2 52v.8M483.2 55.3v1.1M483.2 57.2v.8M483.2 58.2v.9M483.7 41.6v1.1M483.7 46.1v1M483.7 48v.8M483.7 49.6v.8M483.7 50.7v.8M483.7 52.8v1.8M483.7 56.3v1.9M483.7 58.4v4M484.2 48v.8M484.2 50.7v.8M484.2 54.5v1.5M484.2 57.8v.8M484.2 58.9v1.6M484.2 60.8v.8M484.2 63.2v1.6M484.2 65.4v.8M484.7 45.8v.8M484.7 51.1v.8M484.7 52.3v1.6M484.7 54.4v1.8M484.7 58.9v.8M484.7 59.9v3.7M485.2 53.9v.8M485.2 55.2v1.1M485.2 57.5v.9M485.2 58.7v1.3M485.2 60.6v4.5M485.7 44.8v.8M485.7 51.5v.8M485.7 53.1v1M485.7 54.5v.8M485.7 55.5v5.2M485.7 61.9v2.7M486.2 53.1v.8M486.2 54.2v1.5M486.2 57.4v.8M486.2 58.5v.9M486.2 59.5v.8M486.6 41.3v.8M486.6 53.6v1.3M486.6 56.2v.8M486.6 57.2v3.6M487.1 41.1v.8M487.1 49.6v1.4M487.1 51.5v.8M487.1 54.3v.8M487.1 56.1v1.5M487.1 58v9.6M487.6 33.5v.8M487.6 49.8v.8M487.6 52.5v.8M487.6 55.1v1.5M487.6 58.9v.8M487.6 62.3v2.1M488.1 44.1v.8M488.1 57.6v1.1M488.1 62.3v1M488.6 54.2v.8M488.6 58.6v1.7M488.6 61.5v.8M488.6 62.8v.8M488.6 64v.8M488.6 65.1v1.6M500.2 60.1v2.2M500.2 62.4v.8M500.2 64.6v.8M500.7 48.4v.8M500.7 57.6v.8M500.7 59.6v.8M500.7 60.7v1.7M501.2 56.4v.8M501.2 58.1v2.2M501.2 60.6v2.1M501.7 43.7v.8M501.7 55.1v1.1M501.7 57.9v2.1M501.7 62.1v1.2M502.2 55.2v.8M502.2 58.7v1M502.2 59.8v.8M502.6 37.5v.8M502.6 43.6v.8M502.6 49.4v.8M502.6 51.5v1.7M502.6 55.5v.8M502.6 56.8v.8M502.6 58.8v4M502.6 63.2v.8M503.1 56v1.1M503.1 57.4v.8M503.1 59.8v.8M503.1 62.7v4.5M503.6 35.4v.8M503.6 48.7v1.1M503.6 55.4v1.3M503.6 57.1v.8M503.6 58.3v.9M503.6 59.4v.8M503.6 60.4v2.9M503.6 63.7v1M504.1 53.7v.8M504.1 56.3v3.5M504.1 62v1.8M504.6 61.5v1.7M504.6 63.6v.9M504.6 64.7v2.7M505.1 40.2v.8M505.1 48.7v1.8M505.1 50.7v.9M505.1 52.5v.8M505.1 54.2v2.2M505.1 56.6v3.4M505.6 41.5v1.7M505.6 49.6v.8M505.6 52.4v1.4M505.6 56v1.9M506.1 50.4v1M506.1 51.5v1M506.1 52.7v1M506.1 55.7v.8M506.1 57.4v5.2M506.6 47.6v.8M506.6 50v.8M506.6 52.4v.8M506.6 55.1v2.2M506.6 58.1v3M507.1 44.3v.8M507.1 48.2v.8M507.1 51.6v1.3M507.1 54v1.3M507.1 56.3v1.3M507.1 59.6v.8M507.1 60.6v4.4M507.6 52.4v.8M507.6 57.6v.8M507.6 60.2v.8M507.6 61.2v2M508 44.1v.8M508 49.7v.8M508 52.6v.8M508 55.2v.8M508 56.7v.8M508 57.7v1.9M509 57.8v.8M509 62.8v.8M509 64.6v1.9M509.5 45.1v.8M509.5 55.2v2.5M509.5 57.8v.8M509.5 59.7v1.2M509.5 61.9v1.2M510 36.9v.8M510 47.8v.8M510 49.5v.8M510 51.2v2M510 53.4v.8M510 55.5v3.1M520.6 53.1v.8M520.6 59.5v.8M520.6 64.3v1.1M521.1 64.5v1.7M521.1 67.7v1.3M521.6 46.8v.8M521.6 53v.8M521.6 56.7v2M521.6 59v1.6M522.1 54.2v2.1M522.1 57.2v4.2M522.1 61.6v1.5M522.6 49v.8M522.6 51.8v.8M522.6 57.1v.8M522.6 58.9v.8M522.6 59.9v.8M522.6 60.9v3.1M522.6 64.6v1.2M523.1 34.3v1.1M523.1 37.7v.8M523.1 42.6v.8M523.1 45.8v.8M523.1 49v.8M523.1 55.2v.8M523.1 56.4v.8M523.1 57.3v.8M523.1 59.7v5M523.6 43v.8M523.6 53.2v1.1M523.6 56.9v.8M523.6 59.9v3.7M524.1 41.8v.9M524.1 49.3v.9M524.1 51.9v.8M524.1 53.7v.8M524.1 54.7v3.7M524.1 59.1v2.6M524.1 61.9v2.6M524.6 49.9v.8M524.6 52.4v.8M524.6 54.2v.8M524.6 57.6v4.8M525.1 46.3v1.4M525.1 51.6v1.5M525.1 55v.8M525.1 56.7v.8M525.1 58.1v2.1M525.6 30.8v.5M525.6 42.7v.8M525.6 48.5v.8M525.6 49.9v1.5M525.6 52.4v.8M525.6 54.2v1.2M525.6 55.6v5.5M526.1 39.7v.8M526.1 45.5v1.1M526.1 48.9v.8M526.1 50.6v1.6M526.1 52.5v.8M526.1 54.2v3.5M526.6 43.9v.8M526.6 45v.8M526.6 49v1.6M526.6 53.2v.8M527.1 45.8v.8M527.1 50.9v.8M527.1 53.3v.8M527.1 54.9v1.5M527.1 56.7v1.8M527.1 59.6v.9M527.6 39.3v1.2M527.6 44.2v.8M527.6 47.8v.8M527.6 50.3v.8M527.6 54.6v1.5M528.1 37.8v.8M528.1 44.1v.8M528.1 47v.8M528.1 52.7v2.1M528.1 55.5v.8M528.1 57.5v.8M528.1 58.8v1.7M528.1 61.1v5M528.6 54.3v.8M528.6 55.4v.8M528.6 60.6v.8M528.6 62.3v1M528.6 63.7v2.1M528.6 66.1v1.1M529.1 39.6v.8M529.1 49.7v.8M529.1 54.3v1.9M529.1 56.8v1.7M529.1 60.7v1.2M529.6 62v1M529.6 63.8v3.3M530.1 60.1v.8M530.1 63.5v.8M530.6 31v.8M530.6 43.6v.8M530.6 46.2v.8M530.6 50.4v.8M530.6 53.2v1.2M530.6 55.4v1.5M530.6 57.8v2.1M540.1 57.5v.8M540.1 61.6v.8M540.1 62.6v2.8M540.6 63v1.4M541.1 61.9v.8M541.1 62.9v1.1M541.6 50.2v2.7M541.6 53.4v.8M541.6 58.6v5.8M542.1 59.6v.8M542.1 60.6v2.1M542.1 62.8v1.6M542.7 60.9v.8M542.7 64v.8M543.2 48.2v1.7M543.2 54v.8M543.2 57.8v1.2M543.2 60.4v2.5M543.7 51.7v.8M543.7 57.8v.8M543.7 60.6v.8M543.7 62v1.6M544.2 48.2v.9M544.2 49.9v.8M544.2 51.1v.8M544.2 57.5v1.1M544.2 58.9v1.4M544.7 43v1.7M544.7 53.9v.8M544.7 54.8v.8M544.7 56.7v.8M544.7 59.3v1.4M544.7 60.7v2.7M545.2 55v1.5M545.2 57.5v2.5M545.2 60.1v5.2M545.7 49.7v.8M545.7 57.8v1.7M545.7 60.8v4.2M546.2 51.1v.8M546.2 55.5v.8M546.2 57.2v.8M546.2 60.7v1.5M546.7 48.6v.8M546.7 55.9v.8M546.7 58.6v.8M546.7 60.3v3.3M547.3 54.6v.8M547.3 60.7v1.7M547.3 63.4v1M555.8 40.9v.8M555.8 43.6v.8M555.8 49.1v.8M555.8 52.3v1.2M555.8 55.6v1.7M555.8 57.4v.8M555.8 58.7v1.7M556.3 31.9v.8M556.3 33.4v.8M556.3 34.6v.8M556.3 40v.8M556.3 41.2v.8M556.3 44.1v.8M556.3 47.7v.8M556.3 50v1.3M556.3 52.2v.8M556.8 49.9v.8M556.8 51.5v.8M556.8 53v.8M556.8 54.2v.8M556.8 57.3v.8M556.8 58.6v2.1M557.3 50.7v.8M557.3 56.2v.8M557.3 58.6v1.2M557.3 60.4v.9M557.3 62.4v1.3M557.8 58.9v1.7M557.8 60.6v1.4M557.8 62.7v2.4M558.3 51.4v.8M558.3 56.7v.8M558.3 60.9v.8M558.3 63.1v4.8M558.7 61.3v.8M558.7 64.7v.8M559.2 49.2v.8M559.2 60.9v.8M559.2 62.6v1.5M559.2 64.9v.8M559.2 66.1v5.9M559.7 55.3v.8M559.7 59.5v1.5M559.7 62.4v.8M559.7 64.6v1.7M560.2 54v.8M560.2 60.8v1.8M560.2 62.7v1.2M560.7 40.7v.8M560.7 47.2v.8M560.7 49.7v.8M560.7 51.1v.8M560.7 52.4v.8M560.7 54.3v.8M560.7 56.2v1.9M560.7 59.5v1.1M560.7 61.7v2M561.2 31.7v.8M561.2 34.6v.8M561.2 35.6v.8M561.2 40.1v1.1M561.2 41.7v.8M561.2 46.7v.8M561.2 49.8v.8M561.2 52.1v.8M561.2 54.3v.8M561.2 55.6v1.1M561.7 54.4v.8M561.7 60.9v1.4M561.7 64.6v.8M562.2 67.5v1.4M562.7 64.1v.8M562.7 65.5v1.2M563.1 65.6v.8M563.1 68.5v2M563.6 67.7v.8M572.1 45.3v.8M572.1 61.9v2.1M572.1 64.5v1.7M572.6 59.9v1.7M572.6 62.9v.8M572.6 63.9v.8M572.6 64.9v1M572.6 66.9v.8M573.1 50.5v.8M573.1 57.1v1.2M573.1 58.4v.8M573.1 60.2v.9M573.6 45.1v1.2M573.6 56.3v.8M573.6 60.5v1.5M574.1 46.2v.8M574.1 48.1v.8M574.1 50.5v.8M574.1 53.3v.8M574.1 55v3.1M574.1 58.3v2.5M574.1 60.9v2.2M574.6 39.8v.8M574.6 46.7v.8M574.6 49.1v.8M574.6 50v.8M574.6 51.3v1.7M574.6 54.6v1.7M574.6 57.7v.8M574.6 59.2v1.4M575.1 47.3v.8M575.1 50.8v1.7M575.1 59.2v1.1M575.6 58v.8M575.6 60.8v2.4M575.6 63.9v.8M576.1 52.5v.8M576.1 57.4v.8M576.1 59.1v1M576.1 61v.8M576.1 62.7v1.6M576.1 64.4v1M576.7 58.3v2.3M576.7 60.7v.8M576.7 61.9v.8M576.7 63v2.6M577.2 57.1v1.5M577.2 59.1v2M577.7 44.9v.8M577.7 50.8v1.5M577.7 55.4v.8M577.7 56.6v.8M577.7 57.5v.8M578.2 48.4v.8M578.2 49.8v1.5M578.2 54.5v.8M578.2 56.2v2M578.2 58.9v.8M578.7 50.9v.8M578.7 55v.8M578.7 56v.8M578.7 57.3v1.8M578.7 60.5v.8M578.7 61.6v1.3M578.7 63v.8M578.7 64.3v2.4M585.6 57.8v.8M585.6 61.2v1.1M585.6 62.5v3M586.2 53.6v.8M586.2 57.3v.9M586.2 58.9v.8M586.2 60.5v1.4M586.2 62.1v.8M586.7 53.5v.8M586.7 56v.8M586.7 57.9v2.1M587.2 41.6v.8M587.2 50.2v.8M587.2 54.1v.9M587.2 55.7v.8M587.2 57.5v.8M587.2 58.9v1.5M587.2 60.6v2.5M587.7 46.2v.8M587.7 49.9v.9M587.7 51v.8M587.7 52.7v.8M587.7 54.7v.8M587.7 56v1.2M588.2 54v1.8M588.2 56.9v.8M588.2 60.1v1.4M588.7 68.4v.9M589.3 53.4v.8M589.3 58.5v.8M589.3 61.4v3.4M589.3 65.6v1.9M589.8 59.2v.8M589.8 62.2v.8M589.8 64.8v.8M589.8 67.6v1.3M590.3 53.8v.8M590.3 60.2v.8M590.8 57.2v.8M590.8 60.5v1.6M590.8 63.8v2.8M591.3 45.8v.8M591.3 52.8v.8M591.3 58.2v.8M591.3 59.5v.8M591.3 60.7v1.7M591.3 62.4v1.7M591.3 64.1v1.6M598.9 45.8v.8M598.9 47.9v.8M598.9 52.5v.8M598.9 56v1.1M598.9 57.4v.8M598.9 58.7v1.4M598.9 60.8v2.3M599.4 65.9v.8M599.4 68v2.5M599.8 45.8v.8M599.8 47.9v.8M599.8 49v.8M599.8 54.2v1M599.8 56.6v3.1M599.8 60v.8M599.8 61.4v.8M599.8 62.5v1.3M599.8 63.9v1.9M600.3 37.6v.8M600.3 49.2v.8M600.3 56.6v1.1M600.8 56.3v.8M600.8 59.1v.9M600.8 62.3v1.4M600.8 63.8v1.8M601.3 56.2v.8M601.3 64.1v1.7M601.8 60.3v2.6M601.8 63.1v1M601.8 64.6v.8M602.3 52.8v.8M602.3 56.8v1.1M602.3 59.2v.8M602.8 57.2v.8M602.8 60.1v1.7M602.8 62.6v1.1M602.8 64v1.7M603.3 63.5v2.4M603.7 47.7v.8M603.7 56.2v.8M603.7 62.8v1.3M604.2 47.1v.8M604.2 54v.8M604.2 56.1v.8M604.2 58.8v2.3M604.2 61.2v.8M604.2 62.7v.8M604.2 64v5.2M604.7 62.5v.8M604.7 64.6v1.3M604.7 66.2v1.7M605.2 50.1v.8M605.2 57.8v2.3M605.2 60.3v2M611.7 51.1v.8M611.7 53.2v2.6M611.7 57.9v3.1M611.7 61.2v1M611.7 62.6v3.2M612.2 57.9v.8M612.2 60.8v.9M612.2 62.2v.8M612.7 62.2v1.3M612.7 65.5v.8M613.2 66.1v1.5M613.2 68.9v.8M613.7 56.8v.8M613.7 61.9v.8M614.2 63.9v1M614.2 66.1v.8M614.7 49.5v.8M614.7 53.5v.8M614.7 57.6v.8M614.7 58.9v.8M614.7 60.9v.8M614.7 62v4.4M614.7 66.6v1.6M615.3 54.4v1.7M615.3 59.3v.8M615.3 62.8v1.1M615.8 55.6v.8M615.8 58v.8M615.8 59.4v.8M615.8 61.5v5.7M616.3 62.3v.8M622.9 62.5v1.4M622.9 64.3v1M623.4 63.9v2.4M623.9 64v2.1M623.9 66.3v2M624.4 44.8v.8M624.4 60v.8M625 43v.8M625 46.3v.8M625 51.5v.8M625 57.1v1.3M625 59.1v2.8M625.5 59.9v.8M625.5 62.3v.8M626 63.1v.8M626 66v2.4M626.5 49.8v.8M626.5 54.2v.8M626.5 56.7v.8M626.5 59v2M632.1 61v.8M632.1 62.2v1.2M632.1 64.4v2.3M632.6 59.7v.8M632.6 60.7v1.3M632.6 62.8v1.5M633.1 54.7v.9M633.1 58.2v1.3M633.1 60v.8M633.6 59.6v1.4M633.6 62.9v2.6M633.6 65.8v.8M634.1 64.5v1.8M634.1 67.7v1.4M634.6 62.5v2.5M634.6 66.1v.9M635.1 67.8v1.7M635.6 61.1v.8M635.6 65v.8M635.6 66.1v1M636.1 61.9v1.7M636.1 65.3v.8M636.1 66.6v3M641.1 52v1M641.1 54.7v.8M641.1 59.4v1.6M641.6 58.8v.8M641.6 62.8v1M641.6 64.2v1.1M641.6 65.4v1.7M642.1 58.9v1.5M642.1 61.2v.8M642.1 63.9v.9M642.6 65.8v1.6M643.1 64.5v.8M643.1 66.6v.8M643.1 67.8v1.8M643.6 53v.8M643.6 57.2v.8M644.1 52.3v.8M644.1 53.5v.8M644.1 56.6v1.2M644.1 58.2v.9M644.1 60.4v1.7M644.1 62.6v1.3M644.6 57.6v.8M644.6 60.7v1.1M644.6 62v.8M644.6 63.5v.8M645.1 51v.8M645.1 55.9v.8M645.1 58.9v.8M645.1 60.8v.8M645.1 62.4v1.9M645.1 64.5v3.2M645.1 67.8v.8M645.6 59.3v.8M645.6 64v1.4" stroke="#1b2d5f" stroke-width="0.8" fill="none"/>
<path d="M402.3 89.3V67.5H402.8V66.5H403.3V63.6H403.8V67H404.3V66.8H404.8V64.5H405.3V53.2H405.8V64.6H406.3V64H406.8V63.4H407.4V61H407.9V58.9H408.4V61.3H408.9V60.8H409.4V63H409.9V61H410.4V59H410.9V63.4H411.4V67.5H411.9V61.8H412.4V64.6H412.9V62.1H413.4V62.6H414V63.9H414.5V67.2H415V62.8H415.5V61.7H416V58.9H416.5V65.1H417V55.6H417.5V58.7H418V89.6H417.5V90.2H417V89.4H416.5V89.6H416V89.3H415.5V89.9H415V89.3H414.5V89.4H414V89.7H413.4V89.5H412.9V89.5H412.4V89.5H411.9V89.7H411.4V89.3H410.9V89.4H410.4V89.4H409.9V89.3H409.4V89.4H408.9V89.4H408.4V89.6H407.9V89.6H407.4V89.5H406.8V89.5H406.3V89.6H405.8V89.5H405.3V89.5H404.8V89.8H404.3V89.4H403.8V89.4H403.3V90H402.8V89.3H402.3ZM431.1 89.4V62.6H431.6V59.6H432.1V50.1H432.6V57.7H433.1V63.9H433.6V66.3H434.1V68.9H434.6V67.4H435.1V64.3H435.6V68.1H436.1V53.6H436.6V56.5H437.1V60.2H437.6V67.2H438.1V49.7H438.6V63.4H439.1V63.6H439.6V64.4H440.1V68.8H440.7V67H441.2V67.9H441.7V65.8H442.2V66.5H442.7V69.6H443.2V90.1H442.7V89.7H442.2V89.4H441.7V89.5H441.2V89.3H440.7V89.8H440.1V89.5H439.6V89.5H439.1V89.4H438.6V89.8H438.1V89.3H437.6V89.6H437.1V89.3H436.6V90H436.1V89.7H435.6V90H435.1V89.6H434.6V90.1H434.1V89.5H433.6V90.1H433.1V89.4H432.6V90.5H432.1V89.4H431.6V89.4H431.1ZM454.7 89.4V68H455.2V62H455.7V63.5H456.2V61.3H456.7V52.2H457.3V67.6H457.8V62.4H458.3V64.1H458.8V60.1H459.3V58.5H459.9V60.5H460.4V53.4H460.9V63.5H461.4V53.4H462V60.3H462.5V60.9H463V59.5H463.5V66.2H464V65.4H464.6V62.9H465.1V68.7H465.6V58.5H466.1V65H466.6V90.8H466.1V89.8H465.6V89.4H465.1V89.3H464.6V89.9H464V90.7H463.5V89.8H463V89.4H462.5V89.3H462V89.5H461.4V89.6H460.9V89.8H460.4V89.5H459.9V89.3H459.3V89.3H458.8V90.8H458.3V90.3H457.8V89.5H457.3V89.4H456.7V89.5H456.2V89.6H455.7V89.5H455.2V89.4H454.7ZM477.9 89.3V63.9H478.4V65.9H478.9V59.8H479.4V56.2H479.9V58.6H480.4V63.8H480.9V64.9H481.4V61.8H481.9V59.4H482.4V55.3H482.9V57.4H483.5V57.8H484V64.7H484.5V62H485V65.1H485.5V63H486V61H486.5V54.8H487V65.2H487.5V61.4H488V53.1H488.5V64.2H489V89.6H488.5V89.6H488V89.4H487.5V89.6H487V89.4H486.5V89.5H486V89.5H485.5V89.4H485V89.5H484.5V89.6H484V89.6H483.5V89.3H482.9V89.7H482.4V89.6H481.9V89.6H481.4V89.9H480.9V89.5H480.4V89.4H479.9V89.7H479.4V89.4H478.9V89.6H478.4V89.3H477.9ZM499.8 89.3V65.3H500.3V50.2H500.8V58.7H501.3V61H501.8V60.6H502.3V60.8H502.8V64.2H503.3V63.3H503.8V63.6H504.3V67.2H504.8V56.8H505.3V53.8H505.9V60.2H506.4V57.1H506.9V63.1H507.4V60.2H507.9V59.6H508.4V53.5H508.9V64.9H509.4V62.9H509.9V56.9H510.4V89.7H509.9V89.4H509.4V89.4H508.9V89.4H508.4V89.4H507.9V89.6H507.4V89.7H506.9V89.4H506.4V90.5H505.9V89.4H505.3V90.4H504.8V89.5H504.3V89.6H503.8V89.3H503.3V89.6H502.8V89.3H502.3V89.7H501.8V89.5H501.3V89.6H500.8V90.6H500.3V89.3H499.8ZM520.2 89.4V62H520.7V68.7H521.3V56.8H521.8V62.3H522.3V63.6H522.8V63.8H523.3V63.8H523.8V63.4H524.3V59.6H524.8V59.1H525.3V58.1H525.8V46.1H526.4V54.5H526.9V60.3H527.4V46.9H527.9V60.9H528.4V65.2H528.9V62.3H529.4V64.7H529.9V63.6H530.4V55.4H530.9V89.8H530.4V89.4H529.9V89.8H529.4V90.1H528.9V90.1H528.4V90.4H527.9V89.9H527.4V89.5H526.9V89.4H526.4V89.5H525.8V89.5H525.3V89.9H524.8V89.8H524.3V89.5H523.8V89.7H523.3V89.5H522.8V89.9H522.3V89.6H521.8V90.3H521.3V89.4H520.7V89.4H520.2ZM539.2 89.5V66.6H539.7V62.2H540.3V63.6H540.8V64.1H541.3V63.6H541.8V64.3H542.4V64.1H542.9V63H543.4V64H544V59H544.5V60.7H545V65H545.5V64.8H546.1V63.7H546.6V62.2H547.1V64.1H547.6V89.5H547.1V90H546.6V89.4H546.1V89.5H545.5V90.2H545V89.6H544.5V90H544V89.4H543.4V89.8H542.9V89.4H542.4V89.4H541.8V89.4H541.3V90H540.8V89.6H540.3V90.7H539.7V89.5H539.2ZM555.4 89.8V58.8H555.9V52.3H556.4V57.1H557V60.2H557.5V63H558V63.3H558.5V65.8H559V68.1H559.5V67H560V63.8H560.5V62.5H561V55.7H561.5V65.3H562V69H562.5V69H563V70.5H563.5V65H564V89.5H563.5V89.7H563V89.4H562.5V89.5H562V89.4H561.5V89.6H561V89.5H560.5V90.8H560V89.4H559.5V89.4H559V89.5H558.5V89.7H558V89.8H557.5V89.8H557V89.8H556.4V89.5H555.9V89.8H555.4ZM571.7 89.5V66H572.2V67.9H572.7V60.7H573.3V54.3H573.8V63H574.3V52.1H574.8V57.6H575.4V66.8H575.9V63.2H576.4V65.1H577V57H577.5V55.6H578V55.8H578.5V65H579.1V89.8H578.5V89.8H578V89.3H577.5V89.4H577V89.5H576.4V90H575.9V90.4H575.4V89.3H574.8V89.6H574.3V89.4H573.8V89.9H573.3V89.4H572.7V89.3H572.2V89.5H571.7ZM585.3 89.7V65.2H585.8V62.2H586.3V62.7H586.9V63.2H587.4V56.1H587.9V55.2H588.5V68.8H589V67H589.6V68.3H590.1V65.4H590.6V66.5H591.2V65.9H591.7V89.4H591.2V89.3H590.6V90.1H590.1V89.3H589.6V89.7H589V89.5H588.5V89.7H587.9V89.4H587.4V89.6H586.9V89.5H586.3V89.4H585.8V89.7H585.3ZM598.5 90V62.8H599V69.4H599.5V65.4H600V54.6H600.5V62.3H601V66.5H601.5V64H602V64H602.5V65.6H603.1V66.1H603.6V62.2H604.1V63.3H604.6V65.2H605.1V59.3H605.6V89.7H605.1V89.6H604.6V89.6H604.1V89.4H603.6V89.5H603.1V89.4H602.5V89.4H602V89.3H601.5V89.5H601V89.6H600.5V90H600V89.4H599.5V89.5H599V90H598.5ZM611.3 89.6V64.2H611.8V59.8H612.4V65.6H612.9V66.5H613.4V63.8H614V66.3H614.5V68H615V64.3H615.6V66.3H616.1V63.5H616.7V89.5H616.1V89.6H615.6V89.5H615V89.6H614.5V89.9H614V89.6H613.4V89.3H612.9V89.5H612.4V89.3H611.8V89.6H611.3ZM622.5 89.8V65.7H623.1V65.9H623.6V67H624.2V57H624.7V58.3H625.2V63.5H625.8V63.1H626.3V60.3H626.9V89.3H626.3V89.7H625.8V89.6H625.2V89.3H624.7V89.7H624.2V89.5H623.6V90H623.1V89.8H622.5ZM631.7 89.4V64H632.3V60.6H632.8V58.2H633.3V65.9H633.8V66.8H634.3V65.2H634.9V69.1H635.4V66.9H635.9V68.8H636.4V89.3H635.9V89.7H635.4V89.4H634.9V90.1H634.3V89.4H633.8V89.5H633.3V89.9H632.8V89.5H632.3V89.4H631.7ZM640.7 89.8V61.6H641.2V63.6H641.7V66.3H642.3V64.6H642.8V69.3H643.3V57.1H643.8V64H644.3V65H644.9V66.4H645.4V65.6H645.9V89.6H645.4V89.4H644.9V89.5H644.3V89.7H643.8V89.4H643.3V89.4H642.8V89.5H642.3V89.5H641.7V90.1H641.2V89.8H640.7Z" fill="#1b2d5f"/>
<path d="M418.1 61.7v1.2M418.1 64.9v.8M418.1 65.9v.8M418.1 66.9v.8M418.6 54.5v.8M418.6 56v1.5M418.6 59v.8M418.6 60.4v1.5M418.6 63.2v.8M418.6 64.2v.8M419.1 57.3v1.5M419.1 60.3v.8M419.6 59.3v.8M419.6 60.4v.8M419.6 62v2.3M420.1 36.4v.8M420.1 40.8v.8M420.1 43.8v.8M420.1 45.5v.8M420.1 48v1M420.1 49.3v1.6M420.1 54v.8M420.1 55.1v1M420.1 57v.8M420.1 59.7v1.3M420.1 61.3v3.1M420.1 64.6v1M420.6 51.5v.8M420.6 57.5v1.5M420.6 59.3v.9M420.6 60.6v1.9M421.1 42.3v.8M421.1 46.7v.8M421.1 52.1v.8M421.1 54.5v1.1M421.1 56.2v1M421.1 58.1v1.3M421.1 59.8v1.1M421.6 35.7v.8M421.6 47.5v2.6M421.6 51.3v1.8M421.6 54.3v.9M421.6 55.8v.8M421.6 57.2v.8M422.1 51.3v.8M422.1 53.2v.8M422.1 56.8v.8M422.1 59.5v.8M422.1 62.3v.8M422.1 63.5v7.6M422.6 50.8v1.2M422.6 53.8v.8M422.6 56.2v.8M422.6 57.7v.8M422.6 61.9v2.1M422.6 64.5v4.3M423.1 48.4v.8M423.1 52.2v1M423.1 54.1v2.1M423.1 56.6v1.6M423.1 58.5v.9M423.6 56.8v.8M423.6 58.3v.8M423.6 60.1v1.4M424.1 51.9v.8M424.1 57.2v2.4M424.6 40.9v.8M424.6 48.2v.8M424.6 53.3v.8M424.6 56.8v.8M424.6 59.3v1M425 32v.8M425 50.4v1.7M425 55.9v1.9M425 58.8v2M425 61.4v.9M425.5 49v.8M425.5 50.8v.8M425.5 53.3v1M425.5 55.1v.8M425.5 56.1v1.4M425.5 57.7v.8M425.5 59.2v1M426 54.4v.8M426 58.2v1.3M426 60.3v3.4M426.5 55.9v.8M426.5 58.9v1.6M426.5 61.1v1.2M426.5 63v.8M427 50v.8M427 56.7v2.3M427 60.1v1.5M427 61.9v.8M427 63v1.4M427.5 56.9v.8M427.5 62.5v.8M427.5 63.7v1.1M428 57.5v.8M428 58.6v.8M428 60.2v.8M428 61.3v2M428.5 35.9v.8M428.5 44.9v.8M428.5 56.9v.8M428.5 58.3v2.5M428.5 61.1v.8M429 58.1v.8M429 62.5v.9M429 63.5v.8M429.5 54.1v.8M429.5 57.2v.8M429.5 59.4v1.3M429.5 61.1v4.5M430 51.8v.8M430 56.6v.8M430 59.6v.8M430 60.9v3.7M430.5 48.4v.8M430.5 51.5v.8M430.5 54.1v.8M430.5 55.4v.8M430.5 57v.8M430.5 58.4v2.2M431 40.1v.8M431 51.8v.8M431 53v.8M431 54.4v1.2M431 57.4v1.2M431 58.6v.8M431 59.8v1.6M443.3 49.9v.8M443.3 51v.8M443.3 54.7v.8M443.3 56.6v.8M443.3 59v1M443.3 60.5v2.2M443.8 45.3v.8M443.8 50.9v.8M443.8 55v2.4M444.3 50v.8M444.3 52.6v.8M444.3 54.4v.8M444.3 56.1v.8M444.3 57.3v3.6M444.8 39.8v.8M444.8 45.3v.8M444.8 51.3v.8M444.8 52.8v.8M444.8 54.2v.8M444.8 58.4v.8M445.3 41.7v.8M445.3 43.9v.8M445.3 46.1v.8M445.3 49.7v.8M445.3 52.1v.8M445.3 53.7v.8M445.3 56.6v.8M445.3 57.7v.8M445.3 59.7v6.9M445.9 30.8v.5M445.9 47.6v1.7M445.9 49.4v.8M445.9 51.3v1.2M445.9 53v.9M445.9 57.6v2.9M446.4 38.2v.8M446.4 42.1v.8M446.4 48.2v1.4M446.4 51.5v1.6M446.4 55.9v1.1M446.4 58.2v2.5M446.9 57.6v.8M446.9 59.5v.8M446.9 61.7v.8M446.9 62.8v1.3M447.4 55.6v1.4M447.4 60.2v.8M447.4 61.2v1.4M447.9 49v.8M447.9 50.6v1.7M447.9 54.2v1.3M447.9 55.7v1.3M447.9 57.3v4.2M448.4 33.5v.8M448.4 50.5v.8M448.4 51.8v.8M448.4 52.9v1.1M448.4 54.6v.8M448.4 56.4v.8M448.9 38.5v1.6M448.9 43.9v.8M448.9 46.2v1.3M448.9 48.7v1.5M448.9 53.1v1.2M448.9 54.3v1.4M449.4 47.1v.8M449.4 48.3v.8M449.4 55v4.4M449.9 53.7v.8M449.9 56v.8M449.9 58v.8M449.9 59.1v.8M449.9 60.3v1.2M449.9 61.7v1.2M450.4 64.1v2.1M451 56.6v.8M451 57.6v.8M451 59.3v.8M451 60.8v.8M451.5 56.8v.8M451.5 58.1v.9M451.5 59v1M451.5 60.2v3.1M452 59.7v.8M452 62.2v2.3M452 65v1.2M452 66.5v.8M452.5 58.6v.8M452.5 62.6v1.7M452.5 65.1v1.5M453 52.5v.8M453 56.1v.8M453 60.5v.8M453 65.2v1.2M453.5 59.6v.8M453.5 62.2v1.4M453.5 64.1v.9M453.5 65.3v.9M453.5 66.4v1.1M454 61.1v.8M454 62.4v1.5M454 64v1.4M454 65.7v1M454.5 65.6v.8M454.5 67.1v.8M466.8 60.9v1.1M466.8 63v.8M466.8 66.2v4.4M467.8 52.2v.9M467.8 57.3v.8M467.8 59.9v4.5M468.3 56.3v.8M468.3 57.4v.8M468.3 60.1v.8M468.3 61.2v1.7M468.3 63.2v.8M468.3 64.4v2.9M468.3 67.4v1.3M468.8 49.6v.8M468.8 50.7v.8M468.8 59.5v2.1M468.8 62.8v.8M469.3 48.4v.8M469.3 52.9v.8M469.3 54.3v2M469.3 58.6v1.6M469.8 56.6v.8M469.8 57.8v.8M469.8 62.6v1.7M469.8 66.5v2.7M470.3 47.1v.8M470.3 56.1v.8M470.3 58.9v.8M470.3 59.8v3.9M470.3 63.8v1.5M470.3 65.5v2.2M470.8 51.8v.8M470.8 53.8v1.6M470.8 59.4v.8M470.8 60.6v.8M471.3 50.9v.8M471.3 52.8v.8M471.3 56.5v1.7M471.3 59.3v.8M471.3 60.2v2.2M471.8 52.5v.8M471.8 55.3v.8M471.8 58.1v.8M471.8 59.7v.8M471.8 61.4v.8M471.8 63.1v1.3M472.3 61.7v1.1M472.3 64v.8M472.3 65v2.7M472.8 47v1.6M472.8 50.5v.8M472.8 53.8v.8M472.8 56.4v.8M472.8 57.6v1.5M472.8 59.3v2.8M472.8 62.2v4.3M472.8 67v3.1M473.3 42.1v.8M473.3 51.5v.8M473.3 53.2v.9M473.3 58.2v.8M473.3 59.8v1.1M473.3 61.8v2.2M473.8 57.4v.8M473.8 61.5v1.5M474.3 49.3v1.6M474.3 56.1v.8M474.3 59.1v1.3M474.3 60.5v3.9M474.3 64.6v1M474.8 57.9v.8M474.8 59.7v.8M474.8 61.9v.8M475.3 60.1v.9M475.3 61.4v.8M475.3 64.1v.8M475.3 66.4v1.9M475.3 69v3.6M475.8 62.2v.8M475.8 64v1.2M475.8 67.2v1.3M476.3 61.5v.8M476.3 63.4v1.5M476.8 59.4v.8M476.8 63.2v1.6M476.8 66v2.5M477.3 39.3v.8M477.3 46.7v.8M477.3 52.8v.8M477.3 55.5v2.4M477.3 58.4v1.8M477.3 62.4v1.3M477.3 64v3.1M477.3 67.4v1.1M477.3 68.9v1.1M477.8 59.2v.8M477.8 61.2v.8M477.8 64.1v.8M477.8 65.4v2.1M477.8 67.8v2M489.1 49.6v.8M489.1 52.6v1.3M489.1 54.3v.8M489.1 58.2v.8M489.1 61.4v1.9M489.6 58.3v.8M489.6 59.4v.8M489.6 60.5v.8M489.6 62.2v.8M489.6 63.3v1M489.6 64.6v1.5M490.1 39.4v.8M490.1 43.4v.8M490.1 48.4v1.4M490.1 51v.8M490.1 53.9v.8M490.1 55.9v.8M490.1 57.7v2M490.1 60.4v2.8M490.6 38.3v.8M490.6 49.2v.8M490.6 50.6v.8M490.6 54.6v1.7M490.6 57.1v.8M490.6 58.1v2.4M490.6 60.7v1.3M491.1 38v.8M491.1 43.5v.8M491.1 46.5v.8M491.1 54.7v1.2M491.1 56v.8M491.1 57.3v2.7M491.1 60.7v2.1M491.6 61.1v1.6M491.6 63v.8M491.6 63.9v.8M492.1 58.9v.8M492.1 60.7v2M492.1 63.4v.8M492.6 46.3v.8M492.6 48.3v.8M492.6 51.8v.8M492.6 54.1v.9M492.6 55.1v2.8M493.1 54.1v.8M493.1 58.6v1.4M493.1 60.9v2.1M493.6 54.2v.8M493.6 59.6v.8M493.6 60.5v1.5M493.6 62.5v1M493.6 64v2.3M494.1 61.9v1.1M494.1 64.2v1.2M494.1 65.8v3M494.7 54.2v.8M494.7 59.6v.8M494.7 62v4.1M495.2 60.3v2.1M495.2 63.4v1.8M495.2 65.3v1.1M495.7 65v.8M496.2 57.3v.8M496.2 64v.9M496.2 65v.8M496.7 48.9v.8M496.7 50.9v.8M496.7 52.2v.8M496.7 54v.8M496.7 57.2v.8M496.7 58.5v.8M496.7 61v1.5M497.2 50.2v1M497.2 56.1v.8M497.2 58.1v.8M497.2 60.8v3.4M497.7 60.8v.8M497.7 62.8v1M497.7 65.4v1.3M498.2 42.9v.8M498.2 58.8v.8M498.2 60.1v.8M498.2 62.1v.8M498.2 63v3.9M498.7 48.7v.8M498.7 60.3v1.9M498.7 62.4v.8M498.7 63.4v4.4M499.2 64.3v.8M499.2 66.7v.8M499.2 67.9v.8M499.7 49.4v.8M499.7 51v.8M499.7 56v1.7M499.7 59.5v1.6M499.7 61.2v.8M499.7 63v1.5M510.5 60.5v.8M511 59.4v.8M511 61.2v1.9M511 63.7v1.6M511.5 57.2v2.8M511.5 60.8v.8M512 61.4v.8M512 63.7v1.7M512.5 56.2v.8M512.5 59.3v.8M512.5 60.3v.8M512.5 61.7v.9M513 48.4v.8M513 53.9v2.1M513 56.2v1.4M513 58.2v2.2M513 60.9v3.8M513.5 46.1v.8M513.5 47.4v.8M513.5 55.2v.8M513.5 56.9v.8M513.5 58.4v.8M513.5 59.6v1.1M514 42.7v.8M514 46.4v.8M514 48.7v1.2M514 52.2v.8M514 53.8v1.6M514 56.2v1.5M514 57.9v.8M514 58.9v1M514 61.5v.8M514 62.4v.9M514.5 50.3v.8M514.5 56.9v.8M514.5 60.6v.8M514.5 61.6v1.7M514.5 64.8v2.6M515.1 55.5v2.3M515.1 59v.8M515.1 59.9v.8M515.6 63.3v.8M515.6 65.3v3.1M516.1 53.6v.8M516.1 59.6v.8M516.1 60.6v3.4M516.1 64.7v1.9M516.6 55.3v1.6M516.6 60.9v1.9M516.6 62.8v.8M516.6 63.8v.8M517.1 58.3v.8M517.6 46.6v.8M517.6 47.8v.8M517.6 48.8v.8M517.6 50.6v.8M517.6 53.1v.8M517.6 56.7v1M517.6 59.7v.8M518.1 53v.8M518.1 55.5v1.6M518.1 59.3v.8M518.1 60.7v3.3M518.6 51.3v.9M518.6 55v.8M518.6 57v.8M518.6 58v.8M518.6 60.1v1.8M519.6 58v3.3M519.6 62.6v1.8M520.1 59.5v.8M520.1 62.1v5.2M531.1 54.4v.8M531.1 55.3v.8M531.1 58.1v1.6M531.1 60.5v.8M531.6 48.6v.8M531.6 50.6v1M531.6 52.8v.8M531.6 54.3v2.3M532.1 48.3v.8M532.1 53.3v.8M532.1 55.9v2.9M532.1 59v1M532.1 60.1v1.7M532.1 61.9v2.9M532.6 64.5v1.6M533.1 57v1.9M533.1 61.2v.8M533.6 57.5v.8M533.6 61.4v.8M533.6 64v.9M534.1 61.4v.8M534.1 63.1v1.7M534.6 33.5v.8M534.6 42.9v.8M534.6 50.3v.8M534.6 52.9v.8M534.6 54.1v2.5M534.6 57.2v3.3M535.1 54.4v.8M535.1 55.9v1.4M535.1 58v.8M535.1 60v.8M535.1 61.8v3.2M535.1 65.3v.8M535.6 48v.8M535.6 56.5v.8M535.6 58.6v.8M535.6 60.6v1.5M535.6 62.2v.8M535.6 63.3v.8M536.1 58.1v.8M536.1 59.4v.8M536.1 61.2v.8M536.1 62.1v.8M536.6 58.5v2.2M536.6 60.8v.8M537.1 47.3v.8M537.1 54.2v.8M537.1 55.4v.8M537.1 59.3v1.8M537.1 61.3v5.9M537.6 52v.8M537.6 57.8v1.3M537.6 59.4v4.5M538.1 48.2v.8M538.1 54.8v.8M538.1 57.1v.8M538.6 58.5v1.1M538.6 60.9v.8M539.1 49.2v.8M539.1 54.3v1.6M539.1 57.4v.8M539.1 58.8v.8M539.1 59.7v2.5M539.1 62.2v1.5M539.1 64.3v3M547.8 49.3v.8M547.8 52v.8M547.8 59.3v2.1M547.8 61.8v2.1M548.3 50.9v1.5M548.8 54.7v.8M548.8 59.5v1.7M548.8 61.3v.8M548.8 62.5v.8M549.3 48.7v.8M549.3 53v1M549.3 54.8v.8M549.3 56.1v.8M549.3 57.8v.8M549.3 59.4v1.6M549.3 62v1M549.3 63.5v2.5M549.8 37.4v.8M549.8 53.4v.8M549.8 55.2v.8M549.8 56.8v1.6M549.8 59.3v.8M549.8 60.3v.8M549.8 61.4v2.8M550.3 50.2v.8M550.3 52.3v.8M550.3 53.8v.8M550.3 58v.9M550.3 59v.8M550.8 51v1M550.8 57.4v1.4M550.8 60v4.3M550.8 64.6v.8M551.3 64.7v1.1M551.8 56.1v.8M551.8 63.4v2M552.3 53.7v.8M552.3 57.5v.8M552.3 63v2.2M552.8 44.5v.8M552.8 53.8v.8M552.8 55.6v.8M552.8 56.7v.8M552.8 58v.8M552.8 59.6v1.5M552.8 61.3v.8M552.8 62.6v.8M553.3 59.8v1.5M553.3 61.9v.8M553.8 58.7v.8M553.8 59.7v.8M554.3 56.6v.8M554.3 58.7v.8M554.3 59.7v.8M554.3 61.5v.8M554.3 63.4v.8M554.8 60.6v.8M554.8 62.3v.8M554.8 65.2v.8M555.3 50.7v.9M555.3 58.3v1.6M555.3 61v.8M555.3 62.5v1M564.1 54.4v.8M564.1 57.3v.8M564.1 58.4v.8M564.1 60v1.2M564.1 61.3v1.5M564.1 63.8v.8M564.6 56v.8M564.6 58.7v.8M564.6 61.1v.8M564.6 64.7v.8M564.6 65.6v1M565.1 54.9v.8M565.1 61.8v.8M565.1 65.3v2.6M565.6 63v.8M566.1 56.5v.8M566.1 59v.8M566.1 62.1v.8M566.1 65.5v.8M566.1 67.6v.8M566.6 49.8v.8M566.6 57.4v.8M566.6 58.7v.8M566.6 60.5v.8M566.6 63.7v.8M566.6 64.6v1.5M567.1 62.2v.8M567.1 63.8v1.1M567.1 66.8v1.1M567.6 62.3v.8M567.6 65.6v1.5M567.6 67.2v3.4M568.1 63v.8M568.6 39.1v.8M568.6 56v2M568.6 58.4v1.3M568.6 61v1.6M568.6 62.9v1.8M569.1 48.5v.8M569.1 53.7v.8M569.1 55.1v.8M569.1 56.4v1.7M569.1 58.2v1.3M569.1 60.3v.8M569.1 61.6v2.2M569.1 64.5v.8M569.6 42.5v.8M569.6 49.6v.8M569.6 53.7v.8M569.6 57.4v.8M569.6 61.4v.8M569.6 63v1.1M569.6 64.6v1.3M570.1 53.1v.8M570.1 57.4v.8M570.1 59.8v.8M570.1 61.7v2.5M570.1 64.4v.9M570.1 65.3v1.3M570.6 56.3v.8M570.6 63.4v2.3M570.6 66v4M571.1 51.3v.8M571.1 54.2v.8M571.1 55.2v.9M571.1 57.6v.8M571.1 61.3v1.9M571.1 64.4v2.3M571.5 60.9v.8M571.5 64v.8M571.5 64.9v1.6M571.5 66.7v2.6M579.2 49.6v.8M579.2 50.5v.8M579.2 52.4v.8M579.2 54.5v1.9M579.2 56.7v.8M579.2 58.7v2.6M579.2 61.8v3.6M579.7 40v.8M579.7 50.9v.8M579.7 59.6v.8M579.7 62.8v6.2M579.7 69.1v.9M580.2 51.2v.8M580.2 57.5v.8M580.2 59.8v.8M580.2 62.7v.8M580.7 58.9v1.5M580.7 60.9v1.4M581.2 49.8v.8M581.2 52.3v.8M581.2 53.9v.8M581.2 55.8v2.2M581.2 58.3v2.6M581.7 57.8v.8M581.7 62.9v1.1M582.2 57.2v.8M582.7 48.9v1.3M582.7 55.1v1.8M582.7 57.8v.8M582.7 58.8v3.7M583.2 48.7v1.6M583.2 51.9v.9M583.2 53.7v1.2M583.2 55.4v3.3M583.2 58.8v1.6M583.2 60.5v1.1M583.2 61.6v4.3M583.7 53.1v1.7M583.7 57.3v.8M583.7 58.5v.8M583.7 60.8v.8M584.1 51.3v.8M584.1 53.9v1.1M584.1 57.9v2.4M584.6 46.4v.8M584.6 58.1v1.5M584.6 60.2v3.8M585.1 41.1v.8M585.1 58.1v3.1M585.1 61.4v1.6M591.8 57.4v.8M591.8 58.4v.8M591.8 60.8v1.3M591.8 63.2v1M592.3 57.5v.8M592.3 60.5v.8M592.3 62.7v3.4M592.8 58.7v.8M592.8 59.9v.8M592.8 62.7v.8M592.8 63.9v1.8M592.8 66.1v1.1M592.8 67.2v1.6M593.3 52.1v.8M593.3 54.6v.8M593.3 56.2v.8M593.3 57.3v.8M593.3 58.4v1.5M593.3 60.9v4.4M593.8 47.1v.8M593.8 53v1.5M593.8 55.6v1.3M593.8 58.1v2.5M594.3 59.2v1.3M594.3 61.9v.8M594.3 63v1.9M594.9 63.8v.8M594.9 65.9v1.2M595.4 61.8v.8M595.4 63.5v1M595.9 51.7v.8M595.9 57.2v.8M595.9 59.3v.8M595.9 61.8v2.2M595.9 64.7v3.4M596.4 51.9v.8M596.4 59.1v.8M596.4 60.7v.8M596.9 31.7v.8M596.9 43.7v.8M596.9 50.5v.8M596.9 51.8v.8M596.9 54.3v1.3M596.9 56.4v.8M597.4 48.6v.8M597.4 50.6v1.6M597.4 53.5v.8M597.4 54.8v.8M597.4 55.9v.8M597.9 48.9v.8M597.9 54.1v.8M597.9 55.6v.8M597.9 58.1v.8M597.9 60.6v.8M597.9 63.4v1.4M598.4 42.3v.8M598.4 49v.8M598.4 53.5v1.3M598.4 57.8v1.1M598.4 59.1v2.5M598.4 61.6v3.2M605.7 57.1v1.5M605.7 60.2v1.6M605.7 62.3v.8M605.7 64.1v1.1M606.2 61.2v1M606.2 62.3v1.9M606.7 60.8v1.1M606.7 62.8v.8M607.2 56.2v.8M607.2 59.8v.8M607.2 63.3v.8M607.7 55.1v1.2M607.7 60.8v3.3M608.2 44.8v.8M608.2 57v.8M608.2 61.8v5.8M608.7 53.6v.8M608.7 54.7v.8M608.7 55.9v.8M608.7 57.5v.8M609.2 51.7v.8M609.2 52.9v.8M609.2 56.5v1.4M609.2 58.2v2.9M609.2 61.4v.8M609.7 57.1v.8M609.7 58v.8M609.7 60.6v2.4M609.7 63.6v1.1M610.2 44.8v.8M610.2 49.7v1M610.2 55v2.8M610.7 50.9v.8M610.7 52.2v.8M610.7 57.9v1.6M610.7 60v2.2M611.2 40.6v1.7M611.2 48.3v.8M611.2 49.4v.8M611.2 50.9v2.8M611.2 54v3.6M611.2 58.4v.8M611.2 59.5v2.2M611.2 61.8v.8M616.8 58.8v.8M616.8 62.2v.8M616.8 63.3v.8M616.8 65v1.3M617.3 64.9v3M617.8 57.8v.8M617.8 60.2v.8M617.8 62.9v.8M618.3 48.4v.8M618.3 58.5v.8M618.3 59.6v.8M618.3 61.2v2.6M618.3 64.4v1.9M618.8 30.8v.5M618.8 50.6v.8M618.8 54v.8M618.8 54.9v1.2M618.8 56.4v.8M619.3 48.5v1.5M619.3 51.7v.8M619.3 59.6v.8M619.3 61.3v1.1M619.8 53.4v.8M619.8 55.6v.8M619.8 56.7v.8M619.8 59.3v1.2M619.8 60.7v3M619.8 64.7v4.5M620.3 53.7v.8M620.3 56v1.1M620.3 57.5v.8M620.9 61.2v.8M620.9 62.3v.8M621.4 58.2v.8M621.4 61.3v.8M621.4 62.2v2.6M621.9 39.5v.8M621.9 47.3v.8M621.9 56.5v2.4M621.9 59v4M622.4 37.2v.8M622.4 42.8v2.3M622.4 46.4v1.6M622.4 48.2v.9M622.4 49.4v1.2M622.4 51.5v1.6M622.4 53.8v.8M627 58v1.3M627 62.1v2.5M627.5 54.6v.8M627.5 55.5v.8M627.5 57v1.3M627.5 58.8v1M627.5 60.7v2M628 47.2v.8M628 49.5v.8M628 57.2v1.4M628 59.2v3.3M628.6 45.9v.8M628.6 53.3v3.4M628.6 57v1M628.6 58.4v1.3M628.6 60v2.8M628.6 63.3v3.6M629.1 47.7v.8M629.1 48.8v.8M629.1 51.4v.8M629.1 55.1v.8M629.1 59.5v1.6M629.1 61.6v1.2M629.1 63.3v.8M629.1 64.2v6.5M629.6 67.4v2.5M630.1 48.2v.8M630.1 54.2v.8M630.1 59.4v.8M630.1 61.8v.8M630.1 64.3v1.3M630.6 65.2v.8M630.6 66.9v2.1M631.1 32.8v.8M631.1 48.4v.8M631.1 53.4v.8M631.1 54.5v.8M631.1 55.9v1.3M631.1 57.8v.8M631.1 60.2v.8M631.6 55.1v1.5M631.6 57.6v.9M631.6 59.3v1.6M631.6 61.1v.8M636.6 35.3v.8M636.6 39.5v.8M636.6 50.3v1.3M636.6 51.9v1.1M636.6 54.7v.8M636.6 56.2v1.5M636.6 58.2v6.8M637.1 45.6v.8M637.1 54v.8M637.1 57.1v.8M637.1 58.1v1.2M637.6 54.6v.8M637.6 58.1v1M637.6 62v7.3M638.1 52.6v.8M638.1 55.3v.8M638.1 57.3v.8M638.1 58.9v1.7M638.1 61.6v.8M638.1 62.9v2.3M638.6 49.7v.8M638.6 58.9v.8M638.6 64.2v.8M639.1 65.4v.8M639.1 66.7v.8M639.1 67.7v1.7M639.6 55.2v.8M639.6 56.9v2.2M639.6 59.4v.8M639.6 60.9v1.9M640.1 63.5v1.4M640.1 65.4v1.3M640.1 66.8v1.7M640.6 61.1v1.4M640.6 62.9v2.3" stroke="#4696be" stroke-width="0.8" fill="none"/>
<path d="M417.8 90.3V67.5H418.3V63.2H418.8V61.2H419.3V59.9H419.8V64.5H420.3V58H420.8V60.2H421.3V56.2H421.8V61.5H422.3V68.7H422.8V54.4H423.3V63H423.8V58.7H424.3V59H424.8V57.9H425.3V59.3H425.8V60.7H426.3V57.2H426.8V62.5H427.3V64.4H427.8V62.1H428.3V61.8H428.8V63.8H429.3V64.6H429.8V60.2H430.3V61.3H430.8V57H431.3V90.1H430.8V89.7H430.3V89.4H429.8V89.8H429.3V89.7H428.8V89.9H428.3V89.9H427.8V89.4H427.3V90.1H426.8V90.7H426.3V89.6H425.8V89.8H425.3V89.6H424.8V89.5H424.3V89.6H423.8V89.3H423.3V89.5H422.8V89.8H422.3V89.7H421.8V89.4H421.3V89.4H420.8V89.6H420.3V89.4H419.8V89.3H419.3V89.3H418.8V90.4H418.3V90.3H417.8ZM442.9 89.3V50.1H443.4V54.8H444V55.3H444.5V59.4H445V65.8H445.5V47.7H446V50.5H446.6V64H447.1V60.4H447.6V53.3H448.1V57.2H448.7V52.4H449.2V58.2H449.7V62.1H450.2V66.3H450.7V58.9H451.3V57.4H451.8V67.2H452.3V66.4H452.8V66.2H453.3V66.6H453.9V68.2H454.4V68.9H454.9V89.3H454.4V89.6H453.9V90.2H453.3V89.7H452.8V89.3H452.3V89.4H451.8V89.6H451.3V89.4H450.7V89.3H450.2V89.4H449.7V89.4H449.2V89.3H448.7V89.6H448.1V89.6H447.6V89.6H447.1V89.4H446.6V89.8H446V89.9H445.5V90.2H445V89.4H444.5V90.4H444V90.2H443.4V89.3H442.9ZM466.4 89.7V70.4H466.9V63.6H467.4V52.8H467.9V56.8H468.4V62.5H469V62.2H469.5V69.2H470V67.6H470.5V56.6H471V62.4H471.5V64.9H472V65.8H472.5V70.1H473V63.3H473.6V58H474.1V59.8H474.6V56.8H475.1V66.4H475.6V68H476.1V66.4H476.6V66.6H477.1V69H477.6V68H478.2V89.6H477.6V89.4H477.1V89.3H476.6V89.3H476.1V89.8H475.6V90.1H475.1V89.6H474.6V89.6H474.1V89.6H473.6V89.7H473V90H472.5V89.3H472V89.4H471.5V89.7H471V89.5H470.5V89.6H470V89.3H469.5V89.6H469V89.4H468.4V89.6H467.9V89.3H467.4V90.1H466.9V89.7H466.4ZM488.7 89.5V63.4H489.3V63.1H489.8V62.9H490.3V53.6H490.8V61.4H491.3V65.1H491.8V64.1H492.3V56.6H492.9V63.1H493.4V62H493.9V67.6H494.4V66.2H494.9V65.9H495.4V63.6H495.9V65.7H496.5V60H497V62.9H497.5V66.8H498V63.6H498.5V66.1H499V67.6H499.5V58.4H500.1V89.4H499.5V89.3H499V89.9H498.5V89.3H498V89.8H497.5V90H497V89.5H496.5V89.8H495.9V89.4H495.4V89.8H494.9V90.8H494.4V89.6H493.9V90.5H493.4V90H492.9V90.8H492.3V89.4H491.8V89.5H491.3V89.4H490.8V89.7H490.3V90H489.8V89.3H489.3V89.5H488.7ZM510.1 89.5V64H510.7V65.2H511.2V63.6H511.7V63.5H512.2V58.7H512.7V63.3H513.2V60.4H513.8V61.8H514.3V67.4H514.8V62.2H515.3V65.2H515.8V66.4H516.3V63.6H516.9V63.9H517.4V61.5H517.9V64.3H518.4V62.1H518.9V62.4H519.4V64.7H520V67H520.5V89.4H520V90.6H519.4V89.7H518.9V89.9H518.4V90.1H517.9V89.3H517.4V90.1H516.9V89.5H516.3V89.4H515.8V89.7H515.3V89.4H514.8V89.8H514.3V89.4H513.8V89.8H513.2V89.4H512.7V89.4H512.2V89.7H511.7V89.5H511.2V89.7H510.7V89.5H510.1ZM530.7 89.3V57.6H531.2V57.1H531.7V64.9H532.2V66.9H532.8V61.9H533.3V65.2H533.8V65.8H534.3V60H534.8V65.4H535.3V62.8H535.9V59.2H536.4V57.2H536.9V62.6H537.4V63.6H537.9V57.2H538.4V59.9H538.9V66.5H539.5V89.6H538.9V89.6H538.4V89.3H537.9V89.4H537.4V89.4H536.9V89.7H536.4V89.5H535.9V89.3H535.3V89.4H534.8V89.7H534.3V89.3H533.8V89.6H533.3V89.3H532.8V90.1H532.2V89.6H531.7V89.3H531.2V89.3H530.7ZM547.4 89.7V63H547.9V59.3H548.4V61.1H548.9V64.8H549.5V60.7H550V60H550.5V64.8H551V66.2H551.5V64.7H552.1V64.5H552.6V62.7H553.1V62.1H553.6V60.3H554.1V64.3H554.6V63.4H555.2V63.4H555.7V89.6H555.2V89.7H554.6V89.5H554.1V89.8H553.6V89.6H553.1V89.6H552.6V89.3H552.1V89.5H551.5V89.8H551V89.4H550.5V89.5H550V90.1H549.5V89.9H548.9V89.4H548.4V89.5H547.9V89.7H547.4ZM563.8 89.9V64.2H564.3V63.7H564.8V66.2H565.3V65.2H565.8V68.8H566.3V66.1H566.8V67.3H567.3V69.3H567.8V64H568.3V64.1H568.9V62.8H569.4V66.2H569.9V66.9H570.4V70H570.9V63.5H571.4V67.5H571.9V89.4H571.4V89.3H570.9V89.4H570.4V89.4H569.9V89.7H569.4V89.3H568.9V89.5H568.3V90H567.8V90H567.3V90.5H566.8V89.8H566.3V89.7H565.8V89.6H565.3V89.4H564.8V89.8H564.3V89.9H563.8ZM578.8 89.4V62.4H579.3V68.2H579.9V60.6H580.4V62.8H580.9V58.7H581.4V62.8H581.9V59.2H582.4V58.6H582.9V56.9H583.5V61H584V60.7H584.5V54.2H585V62.3H585.5V89.9H585V89.3H584.5V90H584V89.8H583.5V89.3H582.9V89.3H582.4V89.5H581.9V89.5H581.4V89.4H580.9V89.8H580.4V89.5H579.9V89.5H579.3V89.4H578.8ZM591.5 89.4V64.4H592V66.5H592.5V68.8H593V58.5H593.5V60.3H594.1V61.3H594.6V68.7H595.1V64.2H595.6V67.7H596.1V60.1H596.7V56.4H597.2V55.1H597.7V64.3H598.2V61.6H598.7V90H598.2V90H597.7V89.7H597.2V89.5H596.7V89.3H596.1V90.8H595.6V89.4H595.1V89.6H594.6V89.6H594.1V90.5H593.5V89.8H593V89.9H592.5V89.7H592V89.4H591.5ZM605.3 90V64.9H605.9V63.4H606.4V65.4H606.9V64.9H607.4V65.2H607.9V67.5H608.4V60.1H608.9V62.7H609.5V63.8H610V58H610.5V58.6H611V49.9H611.5V89.5H611V89.9H610.5V89.4H610V89.4H609.5V89.3H608.9V89.6H608.4V89.5H607.9V89.5H607.4V89.4H606.9V89.7H606.4V89.5H605.9V90H605.3ZM616.4 89.5V65.5H616.9V67.1H617.5V64.9H618V62.5H618.5V47.6H619.1V62.2H619.6V69.1H620.1V58.7H620.6V64H621.2V58.7H621.7V58.6H622.2V54.6H622.7V89.3H622.2V89.3H621.7V89.5H621.2V89.3H620.6V90.8H620.1V89.7H619.6V89.4H619.1V89.3H618.5V89.9H618V89.7H617.5V89.3H616.9V89.5H616.4ZM626.7 89.4V62.2H627.2V62.7H627.7V62.6H628.3V63.1H628.8V69H629.3V69.5H629.8V64.6H630.4V67.6H630.9V62.7H631.4V60.5H632V89.4H631.4V90.4H630.9V89.8H630.4V90.2H629.8V89.7H629.3V89.5H628.8V89.3H628.3V89.7H627.7V89.5H627.2V89.4H626.7ZM636.2 89.6V64.7H636.7V59.5H637.2V68.5H637.8V65H638.3V62.6H638.8V66.7H639.3V62.3H639.9V68.4H640.4V64.5H640.9V89.5H640.4V90H639.9V89.4H639.3V89.4H638.8V89.5H638.3V89.5H637.8V89.7H637.2V89.3H636.7V89.6H636.2Z" fill="#4696be"/>
<path d="M402.6 131.3v.8M402.6 132.5v.8M402.6 133.6v.8M402.6 144.6v.8M402.6 145.6v1.7M403.1 146.2v.8M403.6 146.8v.8M403.6 148.5v1.3M404.1 135.8v.8M404.1 138.4v.8M404.1 147.8v1.9M404.1 151.8v.8M404.6 148.2v1.6M404.6 152.5v.8M405.1 148.5v1M405.1 149.6v.8M405.6 135.4v1.1M405.6 137v.8M405.6 150.1v.8M405.6 151.1v.8M406.1 134.2v.8M406.1 135.6v.8M406.1 148.2v1.1M406.1 149.6v2.4M406.6 124.1v.8M406.6 129.8v.8M406.6 132.9v.8M406.6 134.1v.8M406.6 136.4v1.4M406.6 146.6v.8M407.1 132.1v1.7M407.1 134.8v1.6M407.6 126.7v.8M407.6 131.5v1.1M407.6 135.8v.8M407.6 137.5v1.4M408.1 149.8v1.3M408.6 130.6v.8M408.6 136.4v2.2M409.1 136.3v.8M409.1 138.1v.8M409.1 150.1v.8M409.6 134v.8M409.6 135v1.2M410.1 136.4v.8M410.1 147.9v.8M410.6 135.4v.8M410.6 145.9v.9M411.1 136v.8M411.6 127.6v.8M411.6 131.4v1.3M411.6 134.2v3M411.6 145.5v1.7M411.6 148.6v.8M412.1 131.7v.8M412.1 132.8v1.4M412.6 130.8v.8M412.6 132.8v3M412.6 145.8v1.2M412.6 150.7v.8M412.6 151.7v.8M413.1 121.8v2.2M413.1 129v.8M413.1 130.7v1M413.1 132v1.8M413.1 134v1.2M413.1 135.3v1.2M413.1 136.5v1.8M413.1 151v.8M413.6 132.5v.8M413.6 133.8v.8M413.6 135.5v.8M413.6 136.6v1.9M414.1 125.6v.8M414.1 134.5v.8M414.1 135.6v1.7M414.1 147.6v.8M414.6 135.9v1.7M415.1 134.5v.8M415.1 150.9v.8M415.6 131.1v.8M415.6 136.2v.8M416.1 133.1v1.1M416.1 134.9v.8M417.6 135.5v1.2M417.6 147.5v.9M432 125.9v.8M432.4 134.2v1.3M432.4 136.1v.8M432.9 134.8v1.6M432.9 136.7v.8M433.9 135.9v.8M433.9 151.3v.8M434.4 148.3v2.7M434.9 133.3v.8M434.9 149.3v.8M435.4 134.2v.8M435.4 136.3v.8M435.4 137.9v.8M435.4 150.6v.8M435.9 138.2v.8M436.4 137.6v.8M436.4 147.9v.8M437.4 149v.8M437.4 151.4v.9M437.9 135.1v.9M437.9 136.1v1.1M437.9 137.3v1.6M437.9 149.4v.8M437.9 152.9v.8M438.4 136.6v.8M438.4 147.3v.8M438.4 148.7v1.4M438.4 150.4v.9M438.4 153v1.1M438.4 155.9v.8M438.4 157.1v.8M438.4 160.9v.8M438.9 147.4v1.4M438.9 149.7v1M438.9 150.8v1M438.9 152v1.2M438.9 153.5v.8M438.9 154.7v3M439.3 151.3v3.4M439.3 164.3v.8M439.8 135.2v.8M439.8 137v.8M439.8 154.3v1.2M440.3 139.8v.8M440.3 141.2v.8M440.3 150.9v3.8M440.3 157v.8M440.8 150.2v.8M440.8 151.4v1.8M440.8 153.5v.8M440.8 155.3v.8M440.8 157.3v.8M440.8 159.7v.8M441.3 151.8v.8M441.3 153.8v.8M441.8 149.3v2M442.3 127v.8M442.3 135.6v.8M442.3 137v.8M442.3 150.3v.8M442.3 153.6v1.3M442.8 139.1v2.1M442.8 149.4v.8M442.8 152v1.3M442.8 160.1v.8M455 125.4v.9M455 136.4v.8M455 137.4v1.7M455 152.8v.8M455 154.9v.8M455.5 139.2v.8M455.5 148.7v.8M455.5 149.7v.8M456.1 127.3v1.3M456.1 130.9v.8M456.1 132v.8M456.1 135.6v.8M456.1 136.7v.8M456.1 137.7v.8M456.1 149.8v.8M456.6 148.1v.8M456.6 149.3v.8M456.6 151.6v.8M456.6 155.7v.8M457.1 130.6v.8M457.1 132.7v1.4M457.1 135.5v1.9M457.6 125.6v.8M457.6 128.5v1.6M457.6 130.2v.8M457.6 132v.8M457.6 133v.8M457.6 146.4v.8M457.6 149.8v.8M458.1 123.9v1.5M458.1 127.7v.8M458.1 130.2v1.8M458.6 121.4v1.4M458.6 126.8v1.9M458.6 129v2.1M458.6 132v3.1M458.6 146.1v.8M458.6 148.1v.8M458.6 150.4v.8M459.1 118.5v.8M459.1 122.5v.8M459.1 125v1.3M459.1 128v.8M459.1 131v5.6M459.1 145.2v1M459.1 146.5v.9M459.1 147.6v.8M459.6 122v.8M459.6 123.7v.8M459.6 127.3v1.5M459.6 129v1.3M459.6 130.7v1.2M459.6 132v1.2M459.6 133.4v.8M459.6 146.9v2.3M460.1 123v.8M460.1 126.9v.8M460.1 129.5v.8M460.1 130.5v.8M460.1 132.3v.8M460.1 149.3v.8M460.1 152v.9M460.1 156.5v1.4M460.6 120.1v.8M460.6 126.9v.8M460.6 128.1v.8M460.6 130.4v.8M460.6 132.2v2M460.6 134.4v.8M460.6 148.3v2.8M461.2 126.5v.8M461.2 131.5v.8M461.2 132.6v2.3M461.2 135.2v.8M461.2 136.8v1.9M461.2 153.2v.8M461.2 161v.8M461.7 135.7v.8M461.7 137.5v2.6M461.7 150v.8M462.2 124.9v.8M462.2 130.2v.8M462.2 134.3v.8M462.2 135.4v2.6M462.2 148.8v1.1M462.7 146.4v1.2M462.7 147.9v.8M463.2 135.3v.8M463.2 136.4v.8M463.7 146.2v.8M464.2 134.9v.8M464.2 136.1v.8M464.2 148.3v.8M464.7 135.3v1M464.7 149.1v.8M464.7 157.4v.8M465.2 149v.8M465.8 147.6v.8M465.8 148.8v.8M465.8 151.2v.8M466.3 147.8v.8M466.3 149.9v.8M478.3 150.3v2.5M478.3 153.7v1.9M478.3 157.5v.8M478.3 165.5v.8M478.8 138.4v2.6M478.8 149.9v2M478.8 152.3v1.2M478.8 153.9v.8M478.8 156.4v.8M478.8 158.8v.9M479.3 130.5v.8M479.3 137.2v.8M479.3 138.6v.8M479.3 150.6v1.1M479.3 152.2v.8M479.3 155.5v.8M479.8 134.9v.8M479.8 136.6v.8M479.8 137.6v.8M479.8 148.2v.8M479.8 149.2v2.7M479.8 159.8v.8M480.3 136.9v.8M480.3 149.2v.8M480.7 121.7v.8M480.7 136.1v.8M481.2 133.1v.8M481.2 149.5v.8M481.7 135.3v.8M481.7 137.5v.8M481.7 148v.8M482.2 146.8v1M482.7 145v.8M482.7 146.1v1.8M483.2 133.2v.8M483.2 146.9v2.2M483.7 145.2v.8M483.7 146.1v.8M483.7 147.3v.8M484.2 133.7v1M484.2 144.4v.8M484.7 135.6v.8M484.7 146.6v.8M484.7 150.1v.8M484.7 152.3v.8M485.2 125.1v.8M485.2 127.4v.8M485.2 128.3v.8M485.2 132.9v.8M485.2 134.1v.8M485.2 135v1.4M485.2 136.6v2.5M485.2 148.9v2.3M485.2 152.8v.8M485.7 122.6v1M485.7 125.1v.8M485.7 129.2v1.5M485.7 131.4v.8M485.7 132.8v1.2M485.7 134.3v.8M485.7 136.5v.8M486.2 133v.8M486.2 134.2v.8M486.2 137.4v1.2M486.2 150.4v2.4M486.6 135.6v.8M486.6 149.4v.8M486.6 150.3v.8M486.6 151.2v.9M487.1 134.3v.8M487.6 146.4v.8M487.6 148.2v.8M488.1 135v2.6M488.1 146.8v.8M488.6 147.9v.8M500.2 149.3v.8M500.7 134v.8M500.7 136.9v.8M500.7 150.4v1M501.2 138.6v1.6M501.7 148.3v.8M502.6 137.8v.8M502.6 139.2v.9M502.6 148.5v.8M502.6 149.4v.8M503.1 135.4v.8M503.6 131.7v.8M503.6 132.8v.8M503.6 136v2.8M503.6 146.3v1.8M503.6 149.7v1.6M503.6 151.5v.8M504.1 147.4v.9M504.1 148.9v.8M504.1 150.8v.8M504.1 152v.8M504.1 153v.8M505.1 135.7v.8M505.1 138.2v.8M505.6 137.4v.8M506.1 151.8v2.2M506.6 149.4v1.4M507.1 136.3v.8M507.6 132.5v.8M507.6 134.9v1.3M507.6 138v.8M507.6 150.8v.8M508 127.6v.8M508 134.6v1M508 149.8v.8M508.5 132.2v.9M508.5 134.1v1.9M508.5 136.3v.8M508.5 146.5v1.8M508.5 149.6v.8M508.5 151.4v.8M509 147.4v.8M509.5 134.3v.8M509.5 146.7v.8M510 133.7v.9M510 135.6v1.9M510 146.1v1.5M510 148v1.2M520.6 118.7v.8M520.6 136.2v2.6M520.6 148.3v.8M521.1 148.3v.8M521.1 149.7v.8M521.6 135.3v1.5M521.6 137.4v.8M522.1 137.8v.8M522.6 135.3v1.6M522.6 137.2v1.7M522.6 148.7v.8M522.6 151.3v.8M523.1 126.3v.8M523.1 134.4v.9M523.1 149.7v1M523.6 134.2v.8M524.1 124.9v.8M524.1 128.2v.8M524.1 131.3v.8M524.1 133.7v.8M524.1 134.6v2.4M524.1 146.2v.9M524.1 150.1v.8M524.6 124.3v.8M524.6 130.1v6.4M524.6 146.2v1M525.1 117.7v.8M525.1 123.9v.8M525.1 127.2v.8M525.1 129.2v1.8M525.1 150.9v1.1M525.6 134v.8M525.6 146.5v.8M526.6 128.5v.8M526.6 129.7v.8M526.6 131.5v1.7M526.6 133.4v.8M526.6 134.4v1M526.6 148.3v.8M526.6 150.5v.8M527.1 134.1v.8M527.6 128.5v.8M527.6 133.1v1.8M527.6 135.3v1.5M527.6 137v1.8M528.1 132v1.1M528.1 134v1.7M528.1 136.1v2.7M528.6 148.8v.8M529.1 137.6v1.6M529.1 147.4v1M529.1 148.7v1.7M529.6 147.2v.8M530.1 138.2v.8M530.6 132.8v.8M530.6 137.2v1.2M530.6 149.9v1.4M530.6 158.7v.8M539.6 130.1v.8M539.6 133.6v.8M539.6 136.5v.8M540.1 130v.8M540.1 131v.8M540.1 132.2v.8M540.1 133.8v.8M540.1 135v1.1M540.1 136.6v1M540.6 148.1v.8M540.6 151.3v.8M541.1 133.8v.8M541.1 146.6v.8M541.6 149.3v1.3M541.6 150.7v1.8M541.6 156.4v.8M542.1 133.7v.8M542.1 135.6v1.6M543.7 136.8v.8M543.7 138.9v1.6M543.7 147.8v1M544.2 150v.8M545.2 137.5v1.2M545.2 149.9v.9M545.7 134.3v2.6M545.7 137.2v3.4M545.7 150.5v.8M545.7 152.2v.8M546.7 135.9v.8M546.7 147.3v.8M547.3 106.2v.8M547.3 127.6v.8M547.3 129.1v.8M547.3 135.2v.8M547.3 148v.8M547.3 149.2v.8M547.3 150.6v.8M547.3 152.3v.8M547.3 153.8v.8M555.8 149.2v1.1M555.8 150.7v1.5M556.8 137.5v.8M556.8 138.5v1.6M557.3 149.4v.8M557.3 150.9v.8M557.8 128.2v.8M557.8 134.2v1M557.8 137.4v.8M557.8 138.7v1.3M558.3 134v.8M558.3 149.9v.8M558.7 138.1v.8M558.7 148.1v.8M559.2 135.6v.8M559.2 138v.8M559.7 137.3v.9M560.7 138.2v.8M560.7 149.7v1.4M560.7 154.5v.8M560.7 157.4v.8M561.2 136.9v1M561.2 139.3v.8M561.2 148.4v.9M561.7 148.3v.8M561.7 149.4v1.2M561.7 150.7v2.3M561.7 153.2v.8M561.7 154.9v.8M562.2 139.3v.8M562.2 148.4v4M562.2 152.5v.8M562.2 157.9v1.5M562.7 135.8v.8M562.7 137.5v1.6M562.7 148.8v1.7M562.7 152v1.6M562.7 154.1v.8M562.7 156.8v.8M563.1 129v.8M563.1 135.2v.8M563.1 137.6v2.6M563.1 155v.8M563.1 155.9v.8M563.1 158.1v.8M563.1 163.3v1.5M563.1 166.6v.8M563.6 133.8v.8M563.6 135.1v2.5M563.6 151.3v2.2M563.6 157.8v1.2M572.1 126.8v.8M572.1 128.2v.8M572.1 131v.8M572.1 133.2v2.6M572.1 146.9v.8M572.1 148.6v.8M572.1 150.1v.8M572.6 147.9v.8M572.6 149.1v.8M573.1 136.1v.8M573.1 137.8v.9M573.1 151v.8M573.6 137.8v1.5M574.1 135.8v1M574.1 148.2v.8M574.6 137.9v1.1M574.6 148.7v.9M574.6 150.4v.8M575.1 136.9v.8M575.6 134.8v1.2M576.1 129.6v.8M576.1 133.3v1.3M576.1 134.7v1.2M576.1 146.4v.8M576.1 150v.8M576.7 125.4v1.3M576.7 127.7v.8M576.7 129.9v5.4M576.7 145.6v.8M577.2 111v.8M577.2 117.1v.8M577.2 123.6v.8M577.2 125.1v1.4M577.2 130.1v1.5M577.2 144.4v1.6M577.7 121.1v.8M577.7 127.7v.8M577.7 130.4v.8M578.2 128.8v1M578.2 131v3.3M578.2 144.9v.8M578.2 148.2v.8M578.7 131.4v.8M585.6 132.3v.8M585.6 134v1.1M585.6 137.2v1.1M585.6 148.8v.8M586.2 133.5v2.4M586.2 135.9v.8M586.2 137v1.4M586.2 147.8v1.1M586.2 149.9v.8M586.7 137.6v.8M587.2 128.7v.8M587.2 132.6v.8M587.2 134.5v1.6M587.2 146.7v1.3M587.7 128.3v.8M587.7 133v1.6M587.7 149.5v.8M588.2 125.5v1.1M588.2 126.7v.8M588.2 129.6v1.7M588.2 132.7v.8M588.2 133.9v.9M588.2 135.6v1.9M588.2 146v1.3M588.7 133.2v.8M588.7 136.1v1.1M588.7 137.2v2.6M588.7 149.2v.8M589.3 137.6v1.3M589.3 151.6v.8M589.8 136.9v1.1M590.3 136.9v1.3M590.3 138.3v1.6M590.3 154.9v.8M591.3 133.3v.8M598.9 131.9v.8M598.9 132.9v1.5M598.9 135.3v.8M598.9 136.6v2.2M599.4 131.4v.8M599.8 127.2v.8M599.8 132.5v.8M599.8 133.7v2.8M599.8 145.8v1.5M600.3 130v.8M600.3 132.4v1.7M600.3 134.9v1.5M600.3 146.6v.8M600.3 154.4v.8M600.8 133v1.5M600.8 134.9v2.2M600.8 146.4v.8M601.3 146.8v1.9M601.3 150.4v.8M601.3 157.2v.8M603.3 120.6v.8M603.3 124.7v.8M603.3 131v.8M603.3 132.5v.8M603.3 136.5v1.4M603.3 138.1v2.3M603.3 149.3v3M603.3 153.4v1.2M603.3 157.1v.8M603.3 158.2v.8M603.7 139v1.6M603.7 151.1v2.3M603.7 153.5v1.2M603.7 154.9v.8M603.7 156.7v.8M603.7 160.4v.8M604.2 133.2v.8M604.2 151.8v.8M604.2 153.8v.8M604.2 155.2v.8M604.2 160v.8M604.2 169.1v.8M604.7 118.6v.8M604.7 124.2v.8M604.7 134v1.5M604.7 148.9v3.6M604.7 155v1.7M604.7 159.9v.8M604.7 167.3v.8M605.2 131.7v.8M605.2 135.9v.8M605.2 137.2v2.4M605.2 150v.8M605.2 151v3.8M605.2 161.4v.8M605.2 167.1v.8M611.7 131.4v.8M611.7 133.6v.8M611.7 135.4v1.6M611.7 137.1v.8M612.2 147.7v1.2M612.2 151.2v.8M612.7 136.1v.9M612.7 147.7v.8M613.2 135.5v1.7M613.2 147.3v1.6M613.7 136v1M613.7 147.1v1.3M613.7 149.1v.9M613.7 150.1v.8M613.7 152.9v.8M613.7 159.8v.8M614.2 135.7v2M614.2 147.7v2.3M614.2 152.5v.8M614.7 135.4v.8M614.7 146.5v.9M614.7 147.8v1.9M615.3 134.6v.8M615.3 136.6v1.2M615.3 149.3v1.2M615.8 149.5v.8M615.8 150.7v1.1M615.8 154.8v.8M615.8 155.8v1.6M615.8 158v.8M616.3 138.5v.8M616.3 139.7v.9M616.3 149.9v3M616.3 155v.8M616.3 156.3v.8M616.3 162.1v.8M616.3 169.8v.8M622.9 137.6v.8M622.9 147.3v.8M623.4 135.9v.8M623.4 138.7v.8M623.9 138v.8M624.4 137v1.7M624.4 148.8v.8M625 136.7v2.3M625 149v.8M625 151.2v.8M625 152.6v.8M625.5 124.9v.8M625.5 133.9v.8M625.5 136.9v.8M626 132.4v.8M626 134.1v1.3M626 135.7v.8M626.5 128v.8M626.5 131.1v.8M632.1 134.7v.8M632.1 137.5v1.5M632.1 149.6v.8M632.1 151.9v.8M632.6 134.7v.8M632.6 135.9v.8M633.1 135.9v.8M633.1 136.9v.9M633.6 149.9v.8M633.6 150.9v1.4M634.1 148.1v1.4M634.6 149.4v.8M635.1 139.4v1M635.1 148.4v.8M635.6 137.9v.8M635.6 152.6v.8M635.6 161.7v.8M636.1 136.9v.9M641.1 136.3v.8M641.1 138.2v1.5M641.1 145.9v1.2M641.6 133.8v4.3M642.1 131.1v.8M642.1 135.1v2.3M642.1 137.7v.8M642.6 137.6v1.4M642.6 148.8v1.5M643.1 134.8v.9M643.1 136.6v.8M643.1 137.8v1.5M643.6 138.1v.8M643.6 139.8v.8M643.6 150.4v.8M643.6 152.3v1.2M644.1 139.2v.8M644.1 148.7v.8M644.1 151.4v.8M644.6 132.4v1.7M644.6 135.3v3.2M644.6 149.9v1.1M644.6 152.7v.8M645.1 129.9v.8M645.6 138.8v1.3M645.6 148.8v.8M645.6 152.7v.8" stroke="#1b2d5f" stroke-width="0.8" fill="none"/>
<path d="M402.3 146V134.6H402.8V135.2H403.3V138.1H403.8V138.2H404.3V133.8H404.8V135.1H405.3V136.3H405.8V136.7H406.3V134.4H406.8V134H407.4V137.4H407.9V136.9H408.4V138.2H408.9V139.1H409.4V127.2H409.9V132H410.4V137.9H410.9V136.1H411.4V136.1H411.9V132.6H412.4V133.2H412.9V136.6H413.4V134H414V136.1H414.5V137.8H415V137.3H415.5V136.5H416V135.8H416.5V138H417V136.5H417.5V135H418V147H417.5V149H417V148.9H416.5V148.3H416V146.9H415.5V146.2H415V147.3H414.5V148H414V146.6H413.4V149.8H412.9V145.9H412.4V145.5H411.9V144.5H411.4V145.2H410.9V147.1H410.4V148.2H409.9V150.1H409.4V149.5H408.9V153.7H408.4V150.3H407.9V148.1H407.4V148.8H406.8V148H406.3V149.8H405.8V151.6H405.3V151.5H404.8V148.4H404.3V154.7H403.8V147.6H403.3V148.2H402.8V146H402.3ZM431.1 148.1V138H431.6V133H432.1V137.2H432.6V135H433.1V136.4H433.6V139.6H434.1V137.9H434.6V137.7H435.1V137.4H435.6V138.9H436.1V137.3H436.6V137.2H437.1V139H437.6V136.1H438.1V137.7H438.6V140.4H439.1V140.2H439.6V135.2H440.1V141H440.7V141.1H441.2V139.9H441.7V136.9H442.2V138.7H442.7V141.2H443.2V152.2H442.7V153.6H442.2V152H441.7V156H441.2V153.7H440.7V155.4H440.1V155.8H439.6V160.5H439.1V154.5H438.6V149.9H438.1V153.1H437.6V148.9H437.1V152.3H436.6V148.6H436.1V149.7H435.6V151.8H435.1V150.6H434.6V149.2H434.1V148.2H433.6V148.3H433.1V148.5H432.6V148.2H432.1V149.2H431.6V148.1H431.1ZM454.7 151.1V138.6H455.2V138.8H455.7V136H456.2V132.8H456.7V133.5H457.3V129.1H457.8V129.9H458.3V127.7H458.8V133.2H459.3V131.5H459.9V124.1H460.4V122.4H460.9V135.5H461.4V136.7H462V134.6H462.5V137.2H463V136.1H463.5V134.4H464V136.5H464.6V135.3H465.1V135.9H465.6V137.7H466.1V137.6H466.6V147.3H466.1V148H465.6V147.9H465.1V154.5H464.6V148H464V146.9H463.5V147.5H463V146.3H462.5V149.3H462V149.3H461.4V152.5H460.9V150.1H460.4V152.2H459.9V150.1H459.3V146.1H458.8V144.5H458.3V146.3H457.8V147.5H457.3V147.9H456.7V152.5H456.2V149.3H455.7V149.1H455.2V151.1H454.7ZM477.9 162V139.6H478.4V138.9H478.9V138.7H479.4V135.9H479.9V137H480.4V138.1H480.9V137H481.4V137.9H481.9V136.9H482.4V137.6H482.9V132.7H483.5V134.5H484V133H484.5V134.3H485V136.5H485.5V134.2H486V135.9H486.5V136.8H487V133.1H487.5V137.8H488V135.6H488.5V132.9H489V150.5H488.5V151.5H488V147.1H487.5V148.3H487V152.1H486.5V152.3H486V154.5H485.5V154.1H485V153.6H484.5V144.4H484V145.4H483.5V146.2H482.9V145.4H482.4V147.8H481.9V147.4H481.4V151.3H480.9V148.4H480.4V151.4H479.9V148.6H479.4V152.4H478.9V154.8H478.4V162H477.9ZM499.8 150.2V138.4H500.3V137.2H500.8V139.8H501.3V138.8H501.8V139.8H502.3V139.9H502.8V137.6H503.3V126.9H503.8V135.8H504.3V137.3H504.8V139H505.3V134H505.9V136H506.4V138.2H506.9V135.9H507.4V131.9H507.9V132.3H508.4V133.9H508.9V135.8H509.4V134.7H509.9V135.6H510.4V147.9H509.9V147.6H509.4V148.4H508.9V153.2H508.4V148.2H507.9V155.6H507.4V148.9H506.9V148.8H506.4V148.3H505.9V147.6H505.3V148.1H504.8V150.9H504.3V147.2H503.8V148.1H503.3V149.5H502.8V148.8H502.3V150.1H501.8V148.4H501.3V151.2H500.8V149.5H500.3V150.2H499.8ZM520.2 148.2V133.1H520.7V136.1H521.3V137.9H521.8V138.2H522.3V137.2H522.8V134.7H523.3V133.6H523.8V132.4H524.3V130.8H524.8V124.3H525.3V133.7H525.8V134.8H526.4V131.1H526.9V132.3H527.4V133.8H527.9V135.8H528.4V137.4H528.9V138.4H529.4V136.4H529.9V139.4H530.4V138.2H530.9V154.2H530.4V148.1H529.9V147.1H529.4V147.6H528.9V149.3H528.4V148H527.9V148.2H527.4V146.7H526.9V149H526.4V146.8H525.8V148.6H525.3V148.5H524.8V146.1H524.3V146.9H523.8V148.7H523.3V148H522.8V156.4H522.3V149.5H521.8V150.9H521.3V148.2H520.7V148.2H520.2ZM539.2 149.3V131.9H539.7V134.9H540.3V136.6H540.8V134.3H541.3V137.8H541.8V136.6H542.4V136.5H542.9V138.4H543.4V137.3H544V139.4H544.5V137.9H545V139.3H545.5V139H546.1V137H546.6V137.8H547.1V136.1H547.6V148.2H547.1V148.3H546.6V147.9H546.1V151H545.5V152.3H545V152.5H544.5V151.6H544V148.6H543.4V148H542.9V149.3H542.4V147.3H541.8V152.8H541.3V147.5H540.8V156.9H540.3V150.2H539.7V149.3H539.2ZM555.4 150.5V136.6H555.9V139.9H556.4V138.8H557V138.9H557.5V134.8H558V136.3H558.5V137.8H559V139.4H559.5V137.5H560V137.7H560.5V138.2H561V139.5H561.5V135.7H562V140.2H562.5V137.7H563V136.9H563.5V127.5H564V159.8H563.5V157.8H563V151.5H562.5V153.4H562V150.7H561.5V150.3H561V152.7H560.5V149.8H560V148.1H559.5V149.3H559V148.3H558.5V149.5H558V149.2H557.5V149.1H557V149.3H556.4V147.6H555.9V150.5H555.4ZM571.7 149.3V131.3H572.2V138.4H572.7V138.6H573.3V138.5H573.8V136.5H574.3V138.9H574.8V137.4H575.4V135.2H575.9V132.4H576.4V127H577V127.3H577.5V129H578V127.9H578.5V127.4H579.1V145.7H578.5V147.4H578V148.2H577.5V145.4H577V146.6H576.4V158.7H575.9V146.9H575.4V146.5H574.8V149.4H574.3V149.3H573.8V147.7H573.3V147.6H572.7V151.2H572.2V149.3H571.7ZM585.3 148.4V131.2H585.8V136.5H586.3V134.7H586.9V133.5H587.4V131.7H587.9V134.1H588.5V136.1H589V138.2H589.6V137.6H590.1V139.4H590.6V137H591.2V136.3H591.7V147.1H591.2V149H590.6V153.2H590.1V152.4H589.6V148.6H589V149.2H588.5V146.2H587.9V158.9H587.4V146.6H586.9V152.4H586.3V147H585.8V148.4H585.3ZM598.5 148.1V132.6H599V131.8H599.5V131.8H600V132.4H600.5V136.6H601V136.2H601.5V136.1H602V138.8H602.5V139.6H603.1V130.4H603.6V139.7H604.1V137.1H604.6V135.3H605.1V137.6H605.6V153.1H605.1V155H604.6V156.4H604.1V157.6H603.6V150.6H603.1V149.6H602.5V148.9H602V149.8H601.5V146.9H601V146.4H600.5V146.7H600V145.7H599.5V149.1H599V148.1H598.5ZM611.3 148.7V136.4H611.8V138.5H612.4V134.9H612.9V138.9H613.4V135.4H614V133.8H614.5V134.4H615V137.6H615.6V135.7H616.1V138.4H616.7V152.7H616.1V152.2H615.6V151.8H615V149.1H614.5V154.8H614V148.4H613.4V147.7H612.9V147.8H612.4V148H611.8V148.7H611.3ZM622.5 148.1V138.6H623.1V138H623.6V139.1H624.2V137.2H624.7V137.4H625.2V133H625.8V134.8H626.3V128.7H626.9V146.6H626.3V148.4H625.8V151.4H625.2V150.1H624.7V148.4H624.2V147.8H623.6V150.2H623.1V148.1H622.5ZM631.7 151V136.8H632.3V135.2H632.8V135.1H633.3V138.5H633.8V137.6H634.3V138H634.9V139.9H635.4V137.9H635.9V132.7H636.4V155.2H635.9V150.8H635.4V149.9H634.9V148.7H634.3V149.1H633.8V159.5H633.3V157.1H632.8V151.6H632.3V151H631.7ZM640.7 146.5V138.9H641.2V128.7H641.7V135.2H642.3V138H642.8V137.7H643.3V140.4H643.8V139.8H644.3V136.5H644.9V137.8H645.4V139.8H645.9V148.7H645.4V151.5H644.9V149.5H644.3V149.9H643.8V149.9H643.3V149.6H642.8V148.7H642.3V147.2H641.7V148H641.2V146.5H640.7Z" fill="#1b2d5f"/>
<path d="M418.1 132v.8M418.1 134.9v.8M418.1 136.2v1M418.1 145.6v.8M418.6 148.6v.8M419.1 144.4v2.5M419.1 147.4v.9M419.6 146.9v1.3M420.1 132.5v.8M420.6 134.1v1.7M420.6 136.2v.8M420.6 137.1v1M421.1 149.2v.8M421.1 152.2v1.5M421.6 133.1v.8M421.6 134.9v2.5M421.6 137.8v.8M421.6 148.1v.8M421.6 150v.8M422.1 135.6v1M422.1 146.6v.8M422.1 148v.9M422.1 149.5v1.2M422.1 151.7v.8M422.6 128.1v.8M422.6 130.6v3.5M422.6 134.4v1.9M422.6 146.3v.8M423.1 109.2v.8M423.1 111.8v.8M423.1 117.5v.8M423.1 119.7v1M423.1 123.3v.8M423.1 125.8v.8M423.1 126.9v.8M423.1 128.5v3.3M423.1 132.5v2.4M423.1 135.3v.8M423.1 147.8v.8M423.1 151.4v.8M423.6 123.6v1M423.6 125v.8M423.6 125.9v.8M423.6 129.9v.8M423.6 131.1v.8M423.6 156.4v.8M424.1 134.9v.8M424.1 146.5v2M424.1 148.7v2.2M424.1 154.1v.8M424.6 148.5v.8M424.6 149.7v1.6M424.6 151.4v.8M424.6 155v.8M424.6 156.3v.8M425 147.9v1.5M425 150.3v.8M425.5 136.6v1.3M425.5 138.6v.8M425.5 149.1v1.2M426 128.1v.8M426 130.8v1.1M426 134.5v.8M426 135.8v3.1M426 148.1v.8M426.5 124.7v.8M426.5 132.6v.8M426.5 136.2v1.4M426.5 138v1.3M426.5 146.4v2.4M426.5 148.9v.8M426.5 155.7v.8M427 134.6v2M427 137.1v1.9M427 151.1v.8M427.5 136.5v.8M427.5 138.9v.8M427.5 140.2v.8M427.5 149.7v.8M428 136v.8M428 138.9v2.3M428 151.1v1.8M428.5 139.6v.8M428.5 141.1v.8M429 149.6v.8M429 151.6v.8M429 159v.8M429.5 137v.8M429.5 149.1v.8M429.5 152.1v.8M430.5 150.1v1.3M443.3 148.3v.9M443.3 149.3v.8M443.3 151.4v.8M443.3 152.5v.8M443.3 154.4v.8M443.8 147.2v1.6M443.8 148.9v1.3M443.8 151.7v1.1M443.8 155.3v.8M444.3 135.1v.8M444.3 149.3v.8M444.8 138.9v1.2M444.8 146.2v1.1M444.8 149.2v2.4M444.8 152.2v1.6M444.8 166.7v.8M444.8 168.2v.8M445.9 147.4v1.9M445.9 151v.8M445.9 153.2v.9M446.4 131.5v.8M446.4 134.3v.8M446.4 138.1v.8M446.4 148.6v1M446.9 131.5v.8M446.9 136.1v1.4M446.9 137.8v1.6M446.9 146.2v1M446.9 147.4v1M447.4 146.3v.8M447.4 151.5v.8M447.9 135.3v.8M447.9 136.3v1.1M448.4 136.2v.8M448.4 146.6v1.9M448.9 134v.8M448.9 135.9v.8M448.9 137.1v.8M448.9 146.7v.8M448.9 148.5v1.7M448.9 150.7v.8M448.9 155.1v.8M448.9 159.7v.8M448.9 161.1v.8M449.4 136.9v.8M449.9 138.3v1.4M449.9 150.3v.8M449.9 153.6v.8M450.4 139.1v1.4M450.4 148.2v2.6M451 135.6v.8M451 149v1M451 150.5v.8M451 151.7v1.4M451.5 137.4v2.6M451.5 152v.8M451.5 153.2v1.3M451.5 162.2v.8M452 152.3v.8M452 153.3v.8M453 134.8v.8M453 147.1v1.1M453 151.7v.8M453 154.9v.8M453 157.1v.8M453.5 133.3v.8M453.5 134.5v2.1M453.5 136.7v.8M453.5 146.3v.8M453.5 148.4v1.6M454 132.4v1.4M454 133.9v3.4M454 147.8v.8M454 151.9v.8M454.5 144.1v.8M466.8 136.7v.8M466.8 138.1v1.1M467.3 135.7v.8M467.3 137.1v.8M467.3 147.4v.8M467.3 150.4v.8M468.3 137.7v.8M468.8 148v.8M469.3 136.3v.8M469.3 148.4v.8M469.3 149.6v1M469.3 151.2v.8M469.3 152.3v.8M469.3 155.3v.8M469.8 147.7v1.5M470.3 149.3v.8M470.8 136.4v1.6M470.8 147.6v.8M471.8 128.7v.8M471.8 132v1.1M471.8 135.5v1.6M472.3 114v.8M472.3 124.1v.8M472.3 126.9v1.4M472.3 132v1.5M472.3 133.9v1.5M472.3 135.5v.9M472.3 136.4v2.4M472.8 130.9v.8M472.8 134.7v1.2M473.3 125.3v.8M473.3 135.4v.8M473.3 150v.8M473.3 151.2v.8M473.3 157.5v.8M473.8 132.6v.8M473.8 137.1v.8M473.8 149.4v1.4M474.3 146.4v1.1M475.3 136v.8M475.3 137.4v1.4M475.3 146.9v.8M475.8 135.7v.8M475.8 148v1.2M476.3 138v2.7M476.3 148.9v.8M476.3 151v.8M476.3 152v.8M476.8 150.4v1.2M477.3 138.2v.8M477.3 151.1v.8M477.3 152.3v.8M477.3 155.1v1.4M477.3 156.7v.8M477.8 137.5v.8M477.8 154.7v.8M477.8 155.7v.8M477.8 157v2.8M477.8 161.4v1.1M477.8 165.7v1.6M490.1 135.5v.8M490.6 131.8v.8M490.6 134.5v1.7M490.6 148.4v2.4M491.1 115.8v.8M491.1 122.1v.8M491.1 132.8v.9M491.1 135v.8M491.1 135.9v1.8M491.6 134.7v.8M491.6 136.6v.9M491.6 137.5v1.4M492.1 133.6v.8M492.1 136.3v1.3M492.6 133.4v2.7M492.6 136.8v1.6M492.6 138.6v.8M492.6 146.7v1.2M492.6 149.2v.9M493.1 135.7v.8M493.1 137.1v1.2M493.6 148.2v1.1M493.6 149.5v.9M493.6 152.7v.8M493.6 157.2v.8M494.1 135.5v.8M494.1 148.2v.8M494.1 152v.8M494.1 155.2v.8M494.7 138.2v.8M496.2 138.8v.8M496.7 137v.8M497.2 136.1v.8M497.2 138.1v.8M497.2 148.4v1M497.7 137.2v1.3M497.7 146.7v1.3M498.2 144.3v1.3M498.2 145.7v.8M498.2 149.4v.8M498.7 126v.8M498.7 132.5v.8M498.7 134.8v1M498.7 135.9v1M498.7 145.7v.8M498.7 147.5v.8M510.5 147.1v.8M511 145.2v.8M511 147.8v.8M511.5 132.4v1.6M511.5 134v.8M512 122.6v.8M512 129.4v.8M512 130.3v.8M512 131.9v.8M512 133.1v.8M512 134.3v1.2M512 148.8v.8M512 150.1v2M512 152.3v.8M512.5 127.9v.8M512.5 129.9v.8M512.5 132v4.3M512.5 148v1.2M512.5 149.4v1.6M512.5 151.6v1.6M512.5 154.8v.8M512.5 157.4v1.5M512.5 159.4v.8M512.5 162.7v.8M513 124.5v.8M513 127.2v1.4M513 132v.8M513 133.5v.9M513 147.7v5.2M513 153.5v.8M513 157v.8M513 159.1v.8M513.5 127.5v.8M513.5 134.1v3.2M513.5 157v.8M514 135.9v1.5M514.5 135.6v.8M514.5 148.3v1.7M515.1 135.9v.8M515.6 136.1v.8M515.6 148.1v.9M516.1 131.5v.8M516.1 149.9v.8M517.1 147v.8M517.1 149.6v.8M517.6 145.8v1.3M517.6 147.5v.8M518.6 144.5v1.2M519.1 120.3v.8M519.1 148.3v2M519.6 131.6v.8M519.6 133.1v1.1M519.6 134.3v.8M519.6 135.5v1.1M519.6 148.8v1.9M519.6 151.1v2.5M519.6 155.8v1.4M519.6 159.3v.8M519.6 162.9v.8M520.1 127.8v1.7M520.1 133.1v.8M520.1 148.2v1.7M531.1 136.3v.8M531.1 137.7v1.4M531.1 146v1.7M531.6 133.3v.8M531.6 134.9v1M531.6 145.9v2.7M532.6 134.5v.8M532.6 138.4v1M532.6 147.3v2.4M533.1 149.3v.8M533.6 137.7v2.3M533.6 147.8v1.2M533.6 150.4v1.2M534.1 136.4v.8M534.1 137.6v.8M534.1 149.5v.8M534.6 137.4v.8M535.1 136.1v.8M535.1 147.3v2.2M535.6 128.8v.8M535.6 132.4v.8M535.6 156.6v.8M536.1 152v1M536.1 160.6v.8M536.6 147.4v.8M536.6 148.5v2.1M536.6 152.8v.8M537.1 145.8v1.5M537.1 147.7v.8M537.6 145.1v3.9M537.6 149.1v.8M538.1 132.9v.8M538.1 134v.8M538.1 136v.8M538.1 137.1v.8M538.6 136.7v1.4M539.1 127.8v.8M539.1 132.1v1.5M539.1 134.6v2.9M539.1 149.4v.8M547.8 130.5v.8M547.8 135.2v.8M547.8 138.1v.8M547.8 148.6v1.9M547.8 152v.8M548.3 134.6v.8M548.3 135.9v.8M548.3 137.3v1.1M548.3 138.7v2.1M548.3 150.9v.8M548.8 137.4v1.6M549.3 135.1v.8M549.3 149.1v.9M549.8 138.8v.8M549.8 148.2v1.3M549.8 157.3v.8M550.3 137.3v.8M550.8 135.8v1.4M550.8 147.6v.8M551.3 136.8v.8M551.8 136.5v.8M551.8 147.3v.8M551.8 149v.8M552.3 147.3v.8M552.8 135.9v.8M553.3 136.7v.8M553.3 147.4v1.2M553.8 146.6v.8M554.3 137.6v.8M554.3 147.3v1.1M554.3 149.4v.8M555.3 137.1v.8M564.1 132.2v.8M564.1 134.1v.8M564.1 135.6v.8M564.1 136.6v3.5M564.1 149.9v.8M564.1 151.7v.8M564.6 128.6v.8M564.6 151.1v.8M565.1 135v.8M565.1 150.7v.8M565.1 151.7v.8M565.1 153.3v.8M565.6 125.3v.8M565.6 133.7v.8M565.6 135.7v2.3M565.6 147.5v1M566.6 137.3v.8M568.1 138.3v1.4M568.1 146.9v.8M569.6 145.5v2.5M569.6 149.8v.8M569.6 152.1v.8M569.6 153v.8M570.1 137v.8M570.1 138.5v.8M570.6 132.8v.8M570.6 134.1v.8M570.6 136.4v2.4M570.6 148.8v.8M570.6 149.8v.8M570.6 151.3v1.6M571.1 129.1v.8M571.1 130.1v1.2M571.1 135v2.3M571.5 111.3v.8M571.5 116.6v.8M571.5 121.6v.8M571.5 124.3v1M571.5 125.6v.8M571.5 129.7v1.2M571.5 131.5v1.7M571.5 133.4v.8M579.2 130.1v.8M579.2 131.7v.8M579.2 132.8v.8M579.2 134v1.2M579.7 130.9v.8M579.7 134v3.6M579.7 137.7v.8M580.2 136.4v1.7M580.2 153.1v.8M580.7 129.2v.8M580.7 130.3v.8M580.7 136.4v.8M580.7 149.1v1.2M580.7 151.8v.8M581.2 135.1v.8M581.7 150.2v.8M581.7 152.3v.8M582.2 146.9v.9M582.2 148v.8M583.2 136.1v2M583.2 148.2v.8M583.7 136.1v.8M583.7 147.9v.9M583.7 149.5v.8M584.6 134.9v1.6M584.6 148.1v.8M584.6 149v.8M584.6 149.9v.8M585.1 126.7v.8M585.1 132.3v.8M591.8 137.1v2M591.8 147.2v2.3M591.8 151v.8M591.8 152.5v.8M592.3 137.6v.8M592.3 148.3v.8M592.3 149.2v.8M592.8 149.5v.8M592.8 150.9v.8M592.8 152.2v.8M593.3 131.6v.8M593.3 135.9v2.1M593.8 125.3v.8M593.8 135.2v.8M594.3 117.4v.8M594.3 130.3v1.5M594.3 132.9v.8M594.3 134.3v1.7M594.3 145.6v1.8M594.9 119.1v.8M594.9 121.2v1.7M594.9 129.9v.8M594.9 132.8v2.3M594.9 135.5v1.4M594.9 148.7v.8M595.4 132.7v1.2M595.4 134.7v1.1M595.9 133.8v.8M595.9 135.2v.8M596.4 129.7v.8M596.4 133.9v.8M597.4 134.2v.8M597.4 146.4v.8M597.4 147.5v.8M597.9 132.7v2.7M597.9 135.5v1.5M597.9 149.7v1.7M598.4 132v.8M598.4 134.2v.8M598.4 149.2v1.1M605.7 133.5v.8M605.7 134.9v2.3M605.7 152.7v.8M605.7 157.7v.8M605.7 162.5v.8M606.2 135v.8M606.2 137.1v.8M606.2 151v1.7M606.2 154.7v.8M606.2 163.7v.8M606.7 135.1v.8M606.7 148.3v.8M606.7 150.1v1.4M606.7 152.2v.8M607.2 139.5v.8M607.2 147.9v.8M608.2 136.7v.8M608.2 147.4v1.9M608.2 150.6v.8M609.2 135.4v.8M609.2 147.6v1M609.7 133.1v.8M609.7 134.3v.8M609.7 145.4v2M609.7 151.2v.8M610.2 132v1.9M610.2 135.6v1.2M610.2 147.4v.8M610.7 131.2v.8M610.7 133.4v.8M610.7 145.4v.8M611.2 130.7v.8M611.2 133.5v.8M611.2 145v2.7M611.2 149v.8M616.8 152.8v1.8M616.8 154.7v1M616.8 156.1v.8M616.8 159.7v.8M616.8 163.5v.8M617.3 150.9v.8M617.3 151.9v1.3M617.3 155.2v.8M617.3 164.3v.8M617.8 150v1.2M617.8 152.2v.8M618.3 139.6v.8M618.3 149.9v.8M618.8 138.7v1.1M618.8 147.6v.9M618.8 149v.8M619.3 128.3v1.1M619.3 132v.8M619.3 134.5v2.6M619.3 137.2v.8M619.3 138.4v.9M619.8 127.9v.8M619.8 129.4v.8M619.8 130.3v1.5M619.8 132.8v1.8M619.8 134.9v.8M619.8 146.5v.8M620.3 122.6v.8M620.3 126v.8M620.3 128.4v.8M620.3 131v.8M620.3 133.8v.8M620.3 135.8v1.2M620.9 118.1v.8M620.9 131.9v.8M620.9 134.8v.8M621.4 135.3v.8M621.4 149.1v.8M621.4 151.9v.8M621.9 146.5v.8M622.4 130.2v.8M622.4 132.5v.8M622.4 135.3v.8M622.4 136.8v.8M622.4 148.1v.8M627 123.1v.8M627 133.6v.8M627 147.6v.8M627.5 132.6v.8M627.5 148.6v1M627.5 151.9v.8M628 131.8v1.4M628 133.6v.8M628 148.5v.8M628.6 131.7v.8M628.6 133.8v.8M628.6 135.7v2M628.6 148v2.1M629.6 148.6v.8M629.6 149.7v.8M630.6 137.4v.8M631.1 132.8v.8M631.1 134.3v.8M631.1 137v.8M631.1 138.5v.8M631.6 132.5v1.2M631.6 134.5v2.8M631.6 148.7v.8M636.6 150.5v.8M637.1 136.1v.8M637.1 137.8v.8M637.1 150.6v.9M637.6 140.2v1.4M637.6 150.9v.8M637.6 153.9v.8M638.1 137.3v1.2M638.1 140.8v.9M638.1 151.2v1.8M638.6 132.7v.8M638.6 134.6v1.5M638.6 136.3v.8M638.6 137.3v.8M638.6 138.3v3M638.6 153.1v1.4M638.6 154.9v.9M638.6 156.8v.8M638.6 158.5v.8M638.6 163.4v.8M639.1 134.8v.9M639.1 149.1v1.4M639.1 151v.8M639.1 154.4v.8M639.6 147.6v.8M639.6 149.9v.8M640.1 126.8v.8M640.1 131.2v.8M640.1 134v1.7M640.1 145.4v2.2M640.6 133.1v1.8M640.6 145.7v1.5M640.6 147.9v.8" stroke="#4696be" stroke-width="0.8" fill="none"/>
<path d="M417.8 145.6V137.1H418.3V135.1H418.8V134.3H419.3V136.9H419.8V136.4H420.3V137.6H420.8V138.4H421.3V135.2H421.8V135.8H422.3V130.7H422.8V125.8H423.3V124.7H423.8V132.6H424.3V137.8H424.8V136.5H425.3V138.5H425.8V133.9H426.3V134.9H426.8V137.2H427.3V139H427.8V140.3H428.3V140.9H428.8V139.8H429.3V137.5H429.8V136.3H430.3V135.5H430.8V138.3H431.3V150.1H430.8V152.5H430.3V149.5H429.8V152.3H429.3V150.5H428.8V150.3H428.3V151.6H427.8V150.2H427.3V150.3H426.8V148.8H426.3V149.5H425.8V149.5H425.3V148.5H424.8V149.6H424.3V148.2H423.8V151H423.3V148.6H422.8V147.1H422.3V147.5H421.8V148.6H421.3V148.9H420.8V147.9H420.3V147.1H419.8V146.5H419.3V145.8H418.8V146.3H418.3V145.6H417.8ZM442.9 155.1V137.6H443.4V137.4H444V137.2H444.5V137.5H445V137.8H445.5V129H446V135.7H446.6V134.9H447.1V137.7H447.6V136.9H448.1V137.6H448.7V138H449.2V138.4H449.7V139.8H450.2V139.5H450.7V139.2H451.3V139.4H451.8V139.5H452.3V136.4H452.8V133.9H453.3V137.5H453.9V134.3H454.4V132.1H454.9V148.7H454.4V148.7H453.9V147.9H453.3V153.8H452.8V151.2H452.3V152.7H451.8V152.1H451.3V150.5H450.7V151H450.2V150.6H449.7V147.9H449.2V159.4H448.7V146.9H448.1V147.5H447.6V146.7H447.1V148.4H446.6V148H446V150.4H445.5V149.5H445V147.7H444.5V152.7H444V148.8H443.4V155.1H442.9ZM466.4 147.5V139.2H466.9V136.3H467.4V135.7H467.9V138.5H468.4V138.6H469V137.8H469.5V137.9H470V136H470.5V136.6H471V134.2H471.5V133.8H472V135.4H472.5V129.5H473V130.5H473.6V137.6H474.1V137.2H474.6V137.9H475.1V137.2H475.6V136.8H476.1V136.9H476.6V139.8H477.1V138.6H477.6V141.1H478.2V161.2H477.6V153.4H477.1V151.3H476.6V148.6H476.1V148.6H475.6V146.1H475.1V148.8H474.6V146.5H474.1V149.4H473.6V151.9H473V151.1H472.5V151H472V150.5H471.5V150H471V147.8H470.5V151.2H470V150.6H469.5V150.5H469V149.5H468.4V148H467.9V148.3H467.4V150.5H466.9V147.5H466.4ZM488.7 148.1V133.7H489.3V136.2H489.8V135.3H490.3V133.5H490.8V125.9H491.3V135.6H491.8V134.9H492.3V138H492.9V137.2H493.4V136.3H493.9V136.5H494.4V138.6H494.9V138.6H495.4V139.2H495.9V138.8H496.5V137H497V138.8H497.5V138.1H498V137.4H498.5V135.3H499V133.7H499.5V136.3H500.1V146.5H499.5V146.7H499V145H498.5V144.1H498V146.1H497.5V147H497V148.4H496.5V148.8H495.9V148.5H495.4V150.7H494.9V149.5H494.4V153.1H493.9V147.7H493.4V146.7H492.9V146.9H492.3V148.4H491.8V150.4H491.3V148.1H490.8V149.3H490.3V148.5H489.8V149.5H489.3V148.1H488.7ZM510.1 145.9V127.4H510.7V133.8H511.2V131.8H511.7V133.9H512.2V130.1H512.7V127.6H513.2V135.1H513.8V137.1H514.3V131.2H514.8V138.7H515.3V134.2H515.8V137.5H516.3V134.5H516.9V137.2H517.4V135.6H517.9V136.1H518.4V132.2H518.9V134.2H519.4V131.5H520V132.1H520.5V150.4H520V161.2H519.4V149.8H518.9V145H518.4V144.7H517.9V144.6H517.4V148.9H516.9V147.4H516.3V150H515.8V149.3H515.3V148.1H514.8V149.9H514.3V147.3H513.8V150.1H513.2V150.5H512.7V154.5H512.2V152.9H511.7V147.5H511.2V146.7H510.7V145.9H510.1ZM530.7 147V139.1H531.2V135.9H531.7V138.5H532.2V139.4H532.8V136.1H533.3V140.1H533.8V133.7H534.3V137.8H534.8V137.3H535.3V136.2H535.9V139.5H536.4V138H536.9V137.6H537.4V137.6H537.9V136.6H538.4V135.6H538.9V133.8H539.5V149.8H538.9V149.5H538.4V146.2H537.9V146.5H537.4V146.8H536.9V151.1H536.4V154.5H535.9V150.6H535.3V148.6H534.8V151.5H534.3V149.1H533.8V148.6H533.3V147.6H532.8V147.9H532.2V148.6H531.7V146.2H531.2V147H530.7ZM547.4 150.3V138.7H547.9V138H548.4V136.9H548.9V137.8H549.5V139.5H550V137.8H550.5V133.8H551V136.6H551.5V136.6H552.1V136.2H552.6V136.7H553.1V136.4H553.6V133.5H554.1V136.8H554.6V137.1H555.2V137.2H555.7V145.5H555.2V147.3H554.6V150.7H554.1V146.9H553.6V148.8H553.1V148.1H552.6V149.3H552.1V147.6H551.5V147.5H551V146.7H550.5V147.4H550V151.1H549.5V151.9H548.9V149.7H548.4V153.1H547.9V150.3H547.4ZM563.8 156.2V136.4H564.3V134.5H564.8V135.6H565.3V135.5H565.8V132.6H566.3V125.4H566.8V137.2H567.3V137.2H567.8V138H568.3V139.3H568.9V134.1H569.4V138.9H569.9V138.4H570.4V135.9H570.9V124.8H571.4V124.7H571.9V148.5H571.4V146.7H570.9V151.8H570.4V147H569.9V149.5H569.4V149.8H568.9V147H568.3V147.1H567.8V151.2H567.3V148H566.8V149.9H566.3V148.1H565.8V148.4H565.3V156.9H564.8V151.5H564.3V156.2H563.8ZM578.8 147.6V133.3H579.3V135.6H579.9V135.3H580.4V136.1H580.9V131.9H581.4V136.4H581.9V136.9H582.4V137H582.9V136.9H583.5V134.3H584V136.8H584.5V135H585V129.2H585.5V151.4H585V148.1H584.5V147.6H584V155H583.5V149.3H582.9V145.8H582.4V148.5H581.9V149.8H581.4V152.8H580.9V150.3H580.4V155.1H579.9V153H579.3V147.6H578.8ZM591.5 147.1V137.2H592V137H592.5V137.8H593V137.6H593.5V134.1H594.1V132.2H594.6V135.4H595.1V135.3H595.6V133.6H596.1V133.9H596.7V135.3H597.2V136.4H597.7V135.1H598.2V134.3H598.7V152.7H598.2V153.1H597.7V145.5H597.2V146H596.7V145.7H596.1V146.8H595.6V145.3H595.1V152H594.6V146.6H594.1V147.3H593.5V151.3H593V148.6H592.5V151H592V147.1H591.5ZM605.3 158.6V136.1H605.9V137.5H606.4V136.6H606.9V140.2H607.4V139.6H607.9V138H608.4V136.3H608.9V137H609.5V134.9H610V135.3H610.5V132.5H611V132.3H611.5V147.2H611V144.4H610.5V148.2H610V145.1H609.5V149.4H608.9V147.6H608.4V149.7H607.9V150.6H607.4V148H606.9V151.1H606.4V154.6H605.9V158.6H605.3ZM616.4 155.2V138H616.9V141.9H617.5V140H618V140H618.5V136.8H619.1V135.3H619.6V131.5H620.1V132.2H620.6V130.3H621.2V135.7H621.7V136.5H622.2V136.7H622.7V148.3H622.2V146.3H621.7V156.6H621.2V145.2H620.6V145.1H620.1V146.3H619.6V147.4H619.1V158.2H618.5V151.2H618V151H617.5V154.3H616.9V155.2H616.4ZM626.7 149.5V133.9H627.2V132.2H627.7V126.4H628.3V135.1H628.8V138.2H629.3V139.5H629.8V139.7H630.4V139.1H630.9V133.5H631.4V135H632V148.7H631.4V147.8H630.9V148.2H630.4V148.7H629.8V149H629.3V149.6H628.8V149.8H628.3V150.6H627.7V148.2H627.2V149.5H626.7ZM636.2 149.8V135.4H636.7V139.3H637.2V140.7H637.8V140H638.3V136.3H638.8V134.2H639.3V135.5H639.9V135.9H640.4V134.4H640.9V147H640.4V145.3H639.9V151.8H639.3V152.5H638.8V157.9H638.3V154.2H637.8V150.4H637.2V151.5H636.7V149.8H636.2Z" fill="#4696be"/>
<path d="" stroke="#1b2d5f" stroke-width="0.8" fill="none"/>
<path d="M402.3 254.3V251.4H402.8V251.4H403.3V251.4H403.8V251.4H404.3V251.4H404.8V251.4H405.3V250.7H405.8V251.4H406.3V251.4H406.8V250.7H407.4V251.4H407.9V250.7H408.4V250.7H408.9V251.4H409.4V251.4H409.9V251.4H410.4V251.4H410.9V250.7H411.4V250.7H411.9V250.7H412.4V250.7H412.9V250.7H413.4V251.4H414V250.7H414.5V251.4H415V250.7H415.5V251.4H416V250.7H416.5V250.7H417V250.7H417.5V250.7H418V254.3H417.5V254.3H417V254.3H416.5V254.3H416V254.3H415.5V254.3H415V254.3H414.5V254.3H414V254.3H413.4V254.3H412.9V254.3H412.4V254.3H411.9V254.3H411.4V254.3H410.9V254.3H410.4V254.3H409.9V254.3H409.4V254.3H408.9V254.3H408.4V254.3H407.9V254.3H407.4V254.3H406.8V254.3H406.3V254.3H405.8V254.3H405.3V254.3H404.8V254.3H404.3V254.3H403.8V254.3H403.3V254.3H402.8V254.3H402.3ZM431.1 254.3V250.7H431.6V250.7H432.1V251.4H432.6V250.7H433.1V251.4H433.6V251.4H434.1V251.4H434.6V251.4H435.1V251.4H435.6V250.7H436.1V250.7H436.6V251.4H437.1V250.7H437.6V251.4H438.1V251.4H438.6V250.7H439.1V251.4H439.6V251.4H440.1V251.4H440.7V251.4H441.2V251.4H441.7V250.7H442.2V251.4H442.7V251.4H443.2V254.3H442.7V254.3H442.2V254.3H441.7V254.3H441.2V254.3H440.7V254.3H440.1V254.3H439.6V254.3H439.1V254.3H438.6V254.3H438.1V254.3H437.6V254.3H437.1V254.3H436.6V254.3H436.1V254.3H435.6V254.3H435.1V254.3H434.6V254.3H434.1V254.3H433.6V254.3H433.1V254.3H432.6V254.3H432.1V254.3H431.6V254.3H431.1ZM454.7 254.3V251.4H455.2V250.7H455.7V251.4H456.2V250.7H456.7V250.7H457.3V251.4H457.8V250.7H458.3V251.4H458.8V251.4H459.3V251.4H459.9V250.7H460.4V251.4H460.9V250.7H461.4V250.7H462V251.4H462.5V251.4H463V250.7H463.5V251.4H464V251.4H464.6V251.4H465.1V250.7H465.6V251.4H466.1V250.7H466.6V254.3H466.1V254.3H465.6V254.3H465.1V254.3H464.6V254.3H464V254.3H463.5V254.3H463V254.3H462.5V254.3H462V254.3H461.4V254.3H460.9V254.3H460.4V254.3H459.9V254.3H459.3V254.3H458.8V254.3H458.3V254.3H457.8V254.3H457.3V254.3H456.7V254.3H456.2V254.3H455.7V254.3H455.2V254.3H454.7ZM477.9 254.3V251.4H478.4V251.4H478.9V250.7H479.4V251.4H479.9V250.7H480.4V251.4H480.9V250.7H481.4V250.7H481.9V250.7H482.4V251.4H482.9V250.7H483.5V250.7H484V251.4H484.5V250.7H485V251.4H485.5V250.7H486V251.4H486.5V251.4H487V250.7H487.5V250.7H488V251.4H488.5V251.4H489V254.3H488.5V254.3H488V254.3H487.5V254.3H487V254.3H486.5V254.3H486V254.3H485.5V254.3H485V254.3H484.5V254.3H484V254.3H483.5V254.3H482.9V254.3H482.4V254.3H481.9V254.3H481.4V254.3H480.9V254.3H480.4V254.3H479.9V254.3H479.4V254.3H478.9V254.3H478.4V254.3H477.9ZM499.8 254.3V250.7H500.3V251.4H500.8V251.4H501.3V251.4H501.8V250.7H502.3V251.4H502.8V251.4H503.3V250.7H503.8V250.7H504.3V251.4H504.8V251.4H505.3V251.4H505.9V251.4H506.4V250.7H506.9V251.4H507.4V250.7H507.9V250.7H508.4V251.4H508.9V250.7H509.4V251.4H509.9V250.7H510.4V254.3H509.9V254.3H509.4V254.3H508.9V254.3H508.4V254.3H507.9V254.3H507.4V254.3H506.9V254.3H506.4V254.3H505.9V254.3H505.3V254.3H504.8V254.3H504.3V254.3H503.8V254.3H503.3V254.3H502.8V254.3H502.3V254.3H501.8V254.3H501.3V254.3H500.8V254.3H500.3V254.3H499.8ZM520.2 254.3V251.4H520.7V251.4H521.3V250.7H521.8V251.4H522.3V250.7H522.8V251.4H523.3V251.4H523.8V250.7H524.3V251.4H524.8V250.7H525.3V251.4H525.8V251.4H526.4V251.4H526.9V251.4H527.4V251.4H527.9V250.7H528.4V251.4H528.9V251.4H529.4V250.7H529.9V251.4H530.4V251.4H530.9V254.3H530.4V254.3H529.9V254.3H529.4V254.3H528.9V254.3H528.4V254.3H527.9V254.3H527.4V254.3H526.9V254.3H526.4V254.3H525.8V254.3H525.3V254.3H524.8V254.3H524.3V254.3H523.8V254.3H523.3V254.3H522.8V254.3H522.3V254.3H521.8V254.3H521.3V254.3H520.7V254.3H520.2ZM539.2 254.3V251.4H539.7V250.7H540.3V251.4H540.8V251.4H541.3V251.4H541.8V250.7H542.4V250.7H542.9V251.4H543.4V250.7H544V251.4H544.5V251.4H545V250.7H545.5V250.7H546.1V251.4H546.6V251.4H547.1V251.4H547.6V254.3H547.1V254.3H546.6V254.3H546.1V254.3H545.5V254.3H545V254.3H544.5V254.3H544V254.3H543.4V254.3H542.9V254.3H542.4V254.3H541.8V254.3H541.3V254.3H540.8V254.3H540.3V254.3H539.7V254.3H539.2ZM555.4 254.3V251.4H555.9V251.4H556.4V250.7H557V251.4H557.5V250.7H558V251.4H558.5V251.4H559V250.7H559.5V251.4H560V251.4H560.5V250.7H561V251.4H561.5V250.7H562V251.4H562.5V250.7H563V250.7H563.5V251.4H564V254.3H563.5V254.3H563V254.3H562.5V254.3H562V254.3H561.5V254.3H561V254.3H560.5V254.3H560V254.3H559.5V254.3H559V254.3H558.5V254.3H558V254.3H557.5V254.3H557V254.3H556.4V254.3H555.9V254.3H555.4ZM571.7 254.3V251.4H572.2V250.7H572.7V250.7H573.3V251.4H573.8V250.7H574.3V251.4H574.8V251.4H575.4V250.7H575.9V250.7H576.4V251.4H577V251.4H577.5V251.4H578V251.4H578.5V250.7H579.1V254.3H578.5V254.3H578V254.3H577.5V254.3H577V254.3H576.4V254.3H575.9V254.3H575.4V254.3H574.8V254.3H574.3V254.3H573.8V254.3H573.3V254.3H572.7V254.3H572.2V254.3H571.7ZM585.3 254.3V251.4H585.8V251.4H586.3V250.7H586.9V250.7H587.4V251.4H587.9V251.4H588.5V251.4H589V251.4H589.6V251.4H590.1V251.4H590.6V250.7H591.2V251.4H591.7V254.3H591.2V254.3H590.6V254.3H590.1V254.3H589.6V254.3H589V254.3H588.5V254.3H587.9V254.3H587.4V254.3H586.9V254.3H586.3V254.3H585.8V254.3H585.3ZM598.5 254.3V251.4H599V250.7H599.5V251.4H600V251.4H600.5V250.7H601V251.4H601.5V251.4H602V251.4H602.5V250.7H603.1V251.4H603.6V251.4H604.1V250.7H604.6V251.4H605.1V251.4H605.6V254.3H605.1V254.3H604.6V254.3H604.1V254.3H603.6V254.3H603.1V254.3H602.5V254.3H602V254.3H601.5V254.3H601V254.3H600.5V254.3H600V254.3H599.5V254.3H599V254.3H598.5ZM611.3 254.3V251.4H611.8V251.4H612.4V251.4H612.9V250.7H613.4V251.4H614V251.4H614.5V250.7H615V250.7H615.6V251.4H616.1V251.4H616.7V254.3H616.1V254.3H615.6V254.3H615V254.3H614.5V254.3H614V254.3H613.4V254.3H612.9V254.3H612.4V254.3H611.8V254.3H611.3ZM622.5 254.3V251.4H623.1V251.4H623.6V251.4H624.2V251.4H624.7V250.7H625.2V251.4H625.8V251.4H626.3V251.4H626.9V254.3H626.3V254.3H625.8V254.3H625.2V254.3H624.7V254.3H624.2V254.3H623.6V254.3H623.1V254.3H622.5ZM631.7 254.3V251.4H632.3V250.7H632.8V251.4H633.3V251.4H633.8V251.4H634.3V251.4H634.9V251.4H635.4V250.7H635.9V251.4H636.4V254.3H635.9V254.3H635.4V254.3H634.9V254.3H634.3V254.3H633.8V254.3H633.3V254.3H632.8V254.3H632.3V254.3H631.7ZM640.7 254.3V251.4H641.2V250.7H641.7V251.4H642.3V250.7H642.8V250.7H643.3V251.4H643.8V250.7H644.3V251.4H644.9V250.7H645.4V251.4H645.9V254.3H645.4V254.3H644.9V254.3H644.3V254.3H643.8V254.3H643.3V254.3H642.8V254.3H642.3V254.3H641.7V254.3H641.2V254.3H640.7Z" fill="#1b2d5f"/>
<path d="" stroke="#4696be" stroke-width="0.8" fill="none"/>
<path d="M417.8 254.3V251.4H418.3V251.4H418.8V251.4H419.3V251.4H419.8V251.4H420.3V251.4H420.8V251.4H421.3V251.4H421.8V251.4H422.3V251.4H422.8V251.4H423.3V251.4H423.8V251.4H424.3V251.4H424.8V251.4H425.3V251.4H425.8V251.4H426.3V251.4H426.8V251.4H427.3V251.4H427.8V251.4H428.3V251.4H428.8V251.4H429.3V251.4H429.8V251.4H430.3V251.4H430.8V251.4H431.3V254.3H430.8V254.3H430.3V254.3H429.8V254.3H429.3V254.3H428.8V254.3H428.3V254.3H427.8V254.3H427.3V254.3H426.8V254.3H426.3V254.3H425.8V254.3H425.3V254.3H424.8V254.3H424.3V254.3H423.8V254.3H423.3V254.3H422.8V254.3H422.3V254.3H421.8V254.3H421.3V254.3H420.8V254.3H420.3V254.3H419.8V254.3H419.3V254.3H418.8V254.3H418.3V254.3H417.8ZM442.9 254.3V251.4H443.4V251.4H444V251.4H444.5V251.4H445V251.4H445.5V251.4H446V251.4H446.6V251.4H447.1V251.4H447.6V251.4H448.1V251.4H448.7V251.4H449.2V251.4H449.7V251.4H450.2V251.4H450.7V251.4H451.3V251.4H451.8V251.4H452.3V251.4H452.8V251.4H453.3V251.4H453.9V251.4H454.4V251.4H454.9V254.3H454.4V254.3H453.9V254.3H453.3V254.3H452.8V254.3H452.3V254.3H451.8V254.3H451.3V254.3H450.7V254.3H450.2V254.3H449.7V254.3H449.2V254.3H448.7V254.3H448.1V254.3H447.6V254.3H447.1V254.3H446.6V254.3H446V254.3H445.5V254.3H445V254.3H444.5V254.3H444V254.3H443.4V254.3H442.9ZM466.4 254.3V251.4H466.9V251.4H467.4V251.4H467.9V251.4H468.4V251.4H469V251.4H469.5V251.4H470V251.4H470.5V251.4H471V251.4H471.5V251.4H472V251.4H472.5V251.4H473V251.4H473.6V251.4H474.1V251.4H474.6V251.4H475.1V251.4H475.6V251.4H476.1V251.4H476.6V251.4H477.1V251.4H477.6V251.4H478.2V254.3H477.6V254.3H477.1V254.3H476.6V254.3H476.1V254.3H475.6V254.3H475.1V254.3H474.6V254.3H474.1V254.3H473.6V254.3H473V254.3H472.5V254.3H472V254.3H471.5V254.3H471V254.3H470.5V254.3H470V254.3H469.5V254.3H469V254.3H468.4V254.3H467.9V254.3H467.4V254.3H466.9V254.3H466.4ZM488.7 254.3V251.4H489.3V251.4H489.8V251.4H490.3V251.4H490.8V251.4H491.3V251.4H491.8V251.4H492.3V251.4H492.9V251.4H493.4V251.4H493.9V251.4H494.4V251.4H494.9V251.4H495.4V251.4H495.9V251.4H496.5V251.4H497V251.4H497.5V251.4H498V251.4H498.5V251.4H499V251.4H499.5V251.4H500.1V254.3H499.5V254.3H499V254.3H498.5V254.3H498V254.3H497.5V254.3H497V254.3H496.5V254.3H495.9V254.3H495.4V254.3H494.9V254.3H494.4V254.3H493.9V254.3H493.4V254.3H492.9V254.3H492.3V254.3H491.8V254.3H491.3V254.3H490.8V254.3H490.3V254.3H489.8V254.3H489.3V254.3H488.7ZM510.1 254.3V251.4H510.7V251.4H511.2V251.4H511.7V251.4H512.2V251.4H512.7V251.4H513.2V251.4H513.8V251.4H514.3V251.4H514.8V251.4H515.3V251.4H515.8V251.4H516.3V251.4H516.9V251.4H517.4V251.4H517.9V251.4H518.4V251.4H518.9V251.4H519.4V251.4H520V251.4H520.5V254.3H520V254.3H519.4V254.3H518.9V254.3H518.4V254.3H517.9V254.3H517.4V254.3H516.9V254.3H516.3V254.3H515.8V254.3H515.3V254.3H514.8V254.3H514.3V254.3H513.8V254.3H513.2V254.3H512.7V254.3H512.2V254.3H511.7V254.3H511.2V254.3H510.7V254.3H510.1ZM530.7 254.3V251.4H531.2V251.4H531.7V251.4H532.2V251.4H532.8V251.4H533.3V251.4H533.8V251.4H534.3V251.4H534.8V251.4H535.3V251.4H535.9V251.4H536.4V251.4H536.9V251.4H537.4V251.4H537.9V251.4H538.4V251.4H538.9V251.4H539.5V254.3H538.9V254.3H538.4V254.3H537.9V254.3H537.4V254.3H536.9V254.3H536.4V254.3H535.9V254.3H535.3V254.3H534.8V254.3H534.3V254.3H533.8V254.3H533.3V254.3H532.8V254.3H532.2V254.3H531.7V254.3H531.2V254.3H530.7ZM547.4 254.3V251.4H547.9V251.4H548.4V251.4H548.9V251.4H549.5V251.4H550V251.4H550.5V251.4H551V251.4H551.5V251.4H552.1V251.4H552.6V251.4H553.1V251.4H553.6V251.4H554.1V251.4H554.6V251.4H555.2V251.4H555.7V254.3H555.2V254.3H554.6V254.3H554.1V254.3H553.6V254.3H553.1V254.3H552.6V254.3H552.1V254.3H551.5V254.3H551V254.3H550.5V254.3H550V254.3H549.5V254.3H548.9V254.3H548.4V254.3H547.9V254.3H547.4ZM563.8 254.3V251.4H564.3V251.4H564.8V251.4H565.3V251.4H565.8V251.4H566.3V251.4H566.8V251.4H567.3V251.4H567.8V251.4H568.3V251.4H568.9V251.4H569.4V251.4H569.9V251.4H570.4V251.4H570.9V251.4H571.4V251.4H571.9V254.3H571.4V254.3H570.9V254.3H570.4V254.3H569.9V254.3H569.4V254.3H568.9V254.3H568.3V254.3H567.8V254.3H567.3V254.3H566.8V254.3H566.3V254.3H565.8V254.3H565.3V254.3H564.8V254.3H564.3V254.3H563.8ZM578.8 254.3V251.4H579.3V251.4H579.9V251.4H580.4V251.4H580.9V251.4H581.4V251.4H581.9V251.4H582.4V251.4H582.9V251.4H583.5V251.4H584V251.4H584.5V251.4H585V251.4H585.5V254.3H585V254.3H584.5V254.3H584V254.3H583.5V254.3H582.9V254.3H582.4V254.3H581.9V254.3H581.4V254.3H580.9V254.3H580.4V254.3H579.9V254.3H579.3V254.3H578.8ZM591.5 254.3V251.4H592V251.4H592.5V251.4H593V251.4H593.5V251.4H594.1V251.4H594.6V251.4H595.1V251.4H595.6V251.4H596.1V251.4H596.7V251.4H597.2V251.4H597.7V251.4H598.2V251.4H598.7V254.3H598.2V254.3H597.7V254.3H597.2V254.3H596.7V254.3H596.1V254.3H595.6V254.3H595.1V254.3H594.6V254.3H594.1V254.3H593.5V254.3H593V254.3H592.5V254.3H592V254.3H591.5ZM605.3 254.3V251.4H605.9V251.4H606.4V251.4H606.9V251.4H607.4V251.4H607.9V251.4H608.4V251.4H608.9V251.4H609.5V251.4H610V251.4H610.5V251.4H611V251.4H611.5V254.3H611V254.3H610.5V254.3H610V254.3H609.5V254.3H608.9V254.3H608.4V254.3H607.9V254.3H607.4V254.3H606.9V254.3H606.4V254.3H605.9V254.3H605.3ZM616.4 254.3V251.4H616.9V251.4H617.5V251.4H618V251.4H618.5V251.4H619.1V251.4H619.6V251.4H620.1V251.4H620.6V251.4H621.2V251.4H621.7V251.4H622.2V251.4H622.7V254.3H622.2V254.3H621.7V254.3H621.2V254.3H620.6V254.3H620.1V254.3H619.6V254.3H619.1V254.3H618.5V254.3H618V254.3H617.5V254.3H616.9V254.3H616.4ZM626.7 254.3V251.4H627.2V251.4H627.7V251.4H628.3V251.4H628.8V251.4H629.3V251.4H629.8V251.4H630.4V251.4H630.9V251.4H631.4V251.4H632V254.3H631.4V254.3H630.9V254.3H630.4V254.3H629.8V254.3H629.3V254.3H628.8V254.3H628.3V254.3H627.7V254.3H627.2V254.3H626.7ZM636.2 254.3V251.4H636.7V251.4H637.2V251.4H637.8V251.4H638.3V251.4H638.8V251.4H639.3V251.4H639.9V251.4H640.4V251.4H640.9V254.3H640.4V254.3H639.9V254.3H639.3V254.3H638.8V254.3H638.3V254.3H637.8V254.3H637.2V254.3H636.7V254.3H636.2Z" fill="#4696be"/>
<path d="M402.6 229.3v.8M402.6 238.3v.8M402.6 243.1v.8M402.6 244.7v.8M402.6 247.3v.8M402.6 248.8v3M403.1 212.1v.8M403.1 229.1v.8M403.1 230.4v.8M403.1 237.1v.8M403.1 238.7v.8M403.1 241.4v.8M403.1 246.3v.8M403.1 248.2v.8M403.1 249.3v.8M403.1 250.4v1M403.6 241.5v.8M403.6 242.5v.8M403.6 244v.8M403.6 245.1v.8M403.6 247.6v.8M403.6 250.4v.8M404.1 246.9v1.2M404.1 249.4v.8M404.6 250.1v1.2M405.1 244.1v1.9M405.1 249.9v1.5M405.6 241.1v.8M405.6 242.6v.8M405.6 244.8v.8M405.6 245.6v.8M405.6 249.6v.8M405.6 250.8v.9M406.1 235.1v.8M406.1 241.1v.8M406.1 244.4v.8M406.1 248.1v.8M406.1 249.3v2.5M406.6 239.8v.8M406.6 243.8v.8M406.6 246v.8M406.6 247.4v.8M407.1 235.4v.8M407.1 236.3v.8M407.1 239.4v.8M407.1 243.3v1.9M407.1 248.8v1.3M407.1 250.5v1.2M407.6 235.1v.8M407.6 247.2v.8M407.6 248.3v1.5M407.6 250.5v.8M408.1 240.3v.8M408.1 242.7v.8M408.1 243.9v.8M408.1 247.4v1.2M408.1 248.7v.8M408.1 250.4v1.1M408.6 229.6v.8M408.6 231v.8M408.6 233.7v.8M408.6 235v.8M408.6 240.9v.8M408.6 244.3v2.2M408.6 248.5v.8M408.6 250.4v1.4M409.1 220.9v.8M409.1 227.6v.8M409.1 234.9v.8M409.1 244.1v.8M409.1 245.1v.8M409.1 246.7v.8M409.1 247.7v1.1M409.1 250.5v.8M409.6 218.3v.8M409.6 221.3v.8M409.6 227.9v.8M409.6 231.7v.8M409.6 234.9v.8M409.6 237.8v.8M409.6 242v.8M409.6 243.2v1.6M409.6 245.9v.8M409.6 249.7v1.6M410.1 194.5v.8M410.1 222.6v.8M410.1 234.4v.8M410.1 235.9v1.3M410.1 242.6v1.7M410.1 244.6v.8M410.1 247.5v.8M410.1 249.6v1.1M410.1 250.9v.8M410.6 230.8v.8M410.6 232.9v1.4M410.6 238.2v.8M410.6 241.5v.8M410.6 242.9v.8M410.6 244.3v2.1M410.6 247.3v1.6M410.6 250.6v.8M411.1 240.8v.8M411.1 246.6v.8M411.1 248v.8M411.1 249.6v.8M411.6 243.3v.8M411.6 247.4v.8M411.6 248.4v3.4M412.1 246.9v.8M412.1 247.9v1.6M412.1 250v1.5M412.6 245.1v.8M412.6 247.5v.8M412.6 249.3v.8M412.6 250.8v.9M413.1 229.5v.8M413.1 239.3v.8M413.1 240.8v.8M413.1 245.6v1.1M413.1 246.9v1.9M413.1 250.7v.8M413.6 228.7v.8M413.6 229.8v.8M413.6 230.8v1.8M413.6 241.4v.8M413.6 244.6v1.5M413.6 247.9v1.9M413.6 250.7v1.1M414.1 241.3v.8M414.1 247.4v.8M414.1 248.5v.8M414.1 250.2v1.3M414.6 250.6v.8M415.1 244.4v.8M415.1 245.8v3.1M415.1 249.9v1.5M415.6 248.3v.8M415.6 250v.8M415.6 250.9v.8M416.1 238.2v1.9M416.1 241.1v.8M416.1 243.7v.8M416.1 244.6v.8M416.1 246.1v.8M416.1 248.7v.8M416.6 228.1v.8M416.6 229.8v.8M416.6 236.3v.8M416.6 242.6v.8M416.6 246.2v1.3M416.6 248.6v1.6M416.6 250.9v.8M417.1 242.6v.8M417.1 245v.9M417.1 250v1.7M417.6 241.7v.8M417.6 246.7v.8M417.6 247.7v.8M417.6 249v.8M431.5 249.8v.8M432 240.3v.8M432 248.4v.8M432 249.4v1.5M432.4 241.4v.8M432.4 247.5v1.2M432.4 249.7v.9M432.4 250.9v.8M432.9 225.9v.8M432.9 237.8v.8M432.9 242.1v.8M432.9 247.1v1.7M432.9 249.3v2.4M433.4 241.6v.8M433.4 243.8v1.5M433.4 246.4v1.6M433.4 249.6v.8M433.4 250.7v.8M433.9 245.1v.8M433.9 247.5v.8M433.9 249.5v1.6M434.4 246.6v1.9M434.4 250.4v1.2M434.9 247.4v.9M434.9 248.8v.8M435.4 218.9v.8M435.4 245.1v.8M435.4 248.9v1.9M435.9 244v.8M435.9 249.8v.8M435.9 250.9v.8M436.4 243v1.6M436.4 245.2v.8M436.4 248.4v.8M436.4 250.7v1M436.9 249.8v1.8M437.4 221.7v.8M437.4 236.1v.8M437.4 240v.8M437.4 241.9v.8M437.4 243.5v.8M437.4 246.6v.8M437.4 248.4v2.5M437.9 216.8v.8M437.9 225.1v.8M437.9 235.2v.8M437.9 237.8v.8M437.9 240.9v.8M437.9 242v.8M437.9 247.1v.8M437.9 250.6v.9M438.4 198.3v.8M438.4 204.2v.8M438.4 208.7v.8M438.4 217v.8M438.4 233.8v.8M438.4 237.5v.8M438.4 239.2v.8M438.4 240.3v.8M438.4 241.6v.8M438.4 245.9v.8M438.4 247.1v.8M438.4 248.6v2.2M438.9 210.1v.8M438.9 219.7v.8M438.9 230.1v.8M438.9 232.2v.8M438.9 234.4v1.3M438.9 236.8v.8M438.9 238v.8M438.9 239.2v1.3M438.9 241.8v.8M438.9 244.2v.8M438.9 246.4v.8M438.9 249.2v.8M438.9 250.3v.8M439.3 247.3v.8M439.3 249v.8M439.8 239.4v.9M439.8 242.5v.8M439.8 245v.8M439.8 246.5v.8M439.8 250.2v.8M440.3 233.1v.8M440.3 235.6v.8M440.3 237.4v.8M440.3 241.9v.8M440.3 243.8v1.5M440.3 246.4v.8M440.3 247.3v1.4M440.8 238.5v.8M440.8 243.4v.8M440.8 248.6v.8M441.3 243.4v.8M441.3 244.8v.8M441.3 246.4v.8M442.3 246.9v.8M442.3 248.4v.8M442.3 249.9v1.5M442.8 249.1v.8M442.8 250.2v1.5M455 245.3v.8M455 246.8v2.1M455 249.8v.8M455.5 238.7v.8M455.5 240v.8M455.5 244.2v.8M455.5 250.1v.8M456.1 238.6v2.4M456.1 242.7v1.7M456.1 246.1v.8M456.1 247.2v.8M456.1 248.2v1.1M456.6 209.8v.8M456.6 225.4v.8M456.6 235v.8M456.6 237.8v.8M456.6 238.9v.8M456.6 240.1v.8M456.6 243.4v.8M456.6 245.6v.8M456.6 247.6v2.1M456.6 250.2v.8M457.1 214.6v.8M457.1 239.7v1.2M457.1 242.2v.8M457.1 244.1v1.5M457.1 246.7v.8M457.6 212.8v.8M457.6 224.9v.8M457.6 231.8v1M457.6 234.9v.8M457.6 236.4v.8M457.6 243.5v.8M457.6 248.3v.8M457.6 249.4v2.4M458.1 215.3v.8M458.1 225.8v.9M458.1 229.6v.8M458.1 231.5v1.1M458.1 233.6v.8M458.1 239.7v.8M458.1 241.2v1.1M458.1 244.2v.8M458.1 245.8v2.6M458.1 250.2v.8M458.6 224.9v.8M458.6 230v.8M458.6 231.3v.8M458.6 236.9v.8M458.6 240v1.1M458.6 244.5v1.1M458.6 246.8v.8M458.6 247.9v1.5M459.1 203.3v.8M459.1 232.3v1.7M459.1 237.9v.8M459.1 242v1.2M459.1 245.5v2M459.1 248.1v2.1M459.1 250.5v1M459.6 219.2v.8M459.6 229.1v.8M459.6 232.8v.8M459.6 237.7v.9M459.6 241.6v1.1M459.6 242.9v.8M459.6 245.3v1.3M459.6 247v2.4M459.6 249.6v.8M459.6 250.5v.8M460.1 213.2v.8M460.1 215.9v1.7M460.1 225.8v.8M460.1 227v.8M460.1 229.7v.8M460.1 231.5v.8M460.1 234.7v.8M460.1 238v.8M460.1 241.1v.8M460.1 242v.8M460.1 243.5v.8M460.1 245.4v.8M460.1 246.5v2.4M460.1 249.2v1.1M460.6 206.9v.8M460.6 229.1v1.3M460.6 232.4v.8M460.6 242.3v.8M460.6 246.4v.8M460.6 247.3v1.8M460.6 249.7v.8M461.2 221.2v.8M461.2 230v.8M461.2 233.9v.8M461.2 236.5v.8M461.2 240.3v.8M461.2 244.3v1.4M461.2 247.2v.8M461.2 248.1v2.6M461.2 250.8v.8M461.7 234.5v.8M461.7 244.4v.8M461.7 245.5v.8M461.7 247.1v.8M461.7 248v.8M461.7 249.6v1M462.2 239.2v.8M462.2 245.4v.8M462.2 247.6v.8M462.2 248.8v1M462.2 250.6v1.2M462.7 249.5v.8M463.2 235.1v.8M463.2 240.5v.8M463.2 242.8v.8M463.2 244.4v1.5M463.2 249v.8M463.2 249.9v1.4M463.7 243v1M463.7 244.7v1.3M463.7 247.6v.8M463.7 248.9v.8M464.2 237.2v.8M464.2 242.7v1.7M464.2 248.6v.8M464.2 250.8v.8M464.7 228v.8M464.7 242.5v.8M464.7 243.5v1M464.7 244.6v.8M464.7 245.7v.8M464.7 249.2v1.7M465.2 237.7v.8M465.2 239.9v.8M465.2 242.2v.8M465.2 244.2v1.7M465.2 247.2v3.4M465.8 241.8v.8M465.8 249.1v1.3M466.3 247.8v.8M466.3 250.2v1.5M478.3 243v.8M478.3 246.6v.8M478.3 247.6v1.4M478.3 250.9v.8M478.8 233.7v.8M478.8 245.1v.8M478.8 249.4v2.4M479.3 243.9v.8M479.3 250.4v.8M479.8 242.3v.8M479.8 245.1v.8M479.8 247.1v.8M479.8 249.6v1.3M480.3 243.8v.8M480.3 246.6v1.2M480.3 249.9v1.1M480.7 247.8v1.4M480.7 250.4v1.2M481.2 241.4v1.5M481.2 247.1v.8M481.2 249.3v2.2M481.7 239.3v.8M481.7 242.3v1.7M481.7 244.9v.8M481.7 247.2v1.4M481.7 248.8v1.6M481.7 250.7v.8M482.2 230.9v.8M482.2 232v.8M482.2 233v.8M482.2 241.1v.8M482.2 244v1.6M482.2 245.9v2.1M482.2 249.7v2M482.7 219.7v.8M482.7 235.4v.8M482.7 237.7v.9M482.7 239.9v1.6M482.7 242.7v2.1M482.7 245.1v1.6M482.7 249.2v.8M483.2 233.8v.8M483.2 236v.8M483.2 239.6v.8M483.2 242.7v.8M483.2 245.8v.8M483.2 247.7v1.5M483.2 249.3v.8M483.2 250.9v.8M483.7 240.9v.8M483.7 241.9v.8M483.7 243.1v.8M483.7 244.1v1.5M483.7 247.9v2M483.7 250.7v.8M484.2 244.2v.8M484.2 246.9v.8M484.2 249v2.8M484.7 222.3v.8M484.7 234v.8M484.7 237.2v.8M484.7 239.3v1.2M484.7 249v.9M485.2 233.2v.8M485.2 242v1.6M485.2 245.5v1.5M485.2 247.5v.8M485.2 249v.8M485.7 220.9v.8M485.7 233v.8M485.7 236.9v.8M485.7 243.2v.8M485.7 245.6v1M485.7 247.1v1.7M485.7 250.1v.9M486.2 233.2v.8M486.2 246.5v1.2M486.2 248v.8M486.2 249.7v.8M486.6 245.4v1.5M486.6 247v.8M486.6 249.7v1.7M487.1 243.6v.8M487.1 245.1v1.8M487.1 248.2v1.7M487.1 250.8v.8M487.6 227.6v.8M487.6 231.5v.8M487.6 233.7v1.1M487.6 246.4v.8M487.6 249.1v.8M487.6 250.1v1.3M488.1 245.3v.8M488.1 247.7v3.4M488.6 247.5v.8M488.6 250v.8M500.2 244.8v.8M500.2 249.8v1.2M500.7 245.7v.8M500.7 249.7v.8M501.2 242.5v.8M501.2 244.6v2M501.2 247.9v1.3M501.7 230.3v.8M501.7 247.1v.8M501.7 248.9v2.4M502.2 244.8v.9M502.2 245.9v.8M502.2 248.7v.8M502.2 249.7v1.2M502.6 244.8v1.4M502.6 247.1v1.1M502.6 249.3v.8M503.1 241.3v.8M503.1 244.7v.8M503.1 245.6v.8M503.1 248.5v.8M503.6 236v.8M503.6 237.3v.8M503.6 240.2v1.5M503.6 243.2v.8M503.6 244.3v.8M503.6 245.5v.8M503.6 247v1.8M503.6 249.5v.8M504.1 233.6v.8M504.1 239v.8M504.1 241.6v1.9M504.1 245.1v1.1M504.1 246.5v1.2M504.1 248v1M504.1 249.5v1.1M504.6 244.6v.8M504.6 245.5v.8M504.6 247.6v1.2M504.6 248.9v.8M504.6 250.2v.8M505.1 248.5v1.4M505.1 250.8v1M505.6 232.8v.8M505.6 245.4v.8M505.6 247.3v4.4M506.1 224.8v.8M506.1 240v1.3M506.1 243v.8M506.1 246.3v.8M506.1 249.2v.9M506.6 236v.8M506.6 244.1v.8M506.6 246.1v.8M506.6 249.8v1.9M507.1 218.3v.8M507.1 239v.8M507.1 243.5v1.5M507.1 246.7v.8M507.1 249.3v1.4M507.6 229.7v.8M507.6 237.5v1.1M507.6 245.4v.8M507.6 247v1.1M507.6 248.4v2.8M508 217.3v.8M508 222.1v.8M508 232.2v.8M508 240.3v1.3M508 242v.8M508 244.4v.8M508 245.6v.8M508 246.8v.8M508 248.5v.8M508 249.5v1.4M508.5 221v.8M508.5 238.6v.8M508.5 239.6v.8M508.5 243.5v1.6M508.5 246.7v.8M508.5 248.5v1M508.5 249.8v2M509 213.2v.8M509 242.5v.8M509 244.1v.8M509 245.2v.8M509 247v1.6M509.5 238.9v.8M509.5 250.1v1.1M510 239.6v.8M510 245.2v1.2M510 248.4v.8M510 249.7v.8M520.6 222.1v.8M520.6 228.8v.8M520.6 237.4v1.5M520.6 239.9v.8M520.6 243v.8M520.6 247.6v.8M520.6 248.7v1.6M521.1 246.3v1.9M521.1 248.7v.9M521.1 250.5v.9M521.6 246.9v.8M521.6 248.4v.8M521.6 249.4v.8M521.6 250.7v.8M522.1 240.1v.8M522.1 244.4v.8M522.1 248v.8M522.1 249.2v1.6M522.6 217v.8M522.6 242.9v2.4M522.6 247.7v.8M522.6 248.7v1.1M522.6 250.8v1M523.1 230v.8M523.1 234.5v.8M523.1 241.6v.8M523.1 248.5v2.8M523.6 235.7v.8M523.6 238.6v.8M523.6 242.1v.8M523.6 246.7v.9M523.6 248v.8M523.6 248.9v2M524.1 203.2v.8M524.1 221.8v.8M524.1 225.5v.8M524.1 233.6v.9M524.1 234.5v.8M524.1 237.3v1.6M524.1 239.3v1.6M524.1 241.4v1.6M524.1 243.8v1.3M524.1 245.2v2M524.1 248.2v.9M524.1 249.7v1.6M524.6 205.2v.8M524.6 215.3v.8M524.6 223.3v.8M524.6 230.9v.9M524.6 237.7v1.1M524.6 240.3v1.5M524.6 245v.8M524.6 248v.9M524.6 249.2v1M524.6 250.4v.8M525.1 221.4v1M525.1 222.6v.8M525.1 234.4v.8M525.1 239.8v1.4M525.1 244.6v.8M525.1 246.1v.8M525.1 247.4v.9M525.1 249.2v1.7M525.6 243.8v1.7M525.6 246.3v.8M525.6 247.2v1.5M525.6 249.5v2.2M526.1 234.2v.8M526.1 242.5v.8M526.1 244.2v.8M526.1 245.2v.8M526.1 247.7v.8M526.1 250.7v1.1M526.6 212.7v.8M526.6 225.6v.8M526.6 242.5v.8M526.6 243.5v.8M526.6 247.2v.8M526.6 248.6v.9M526.6 249.6v.8M526.6 250.5v1.3M527.1 235.4v.8M527.1 242v.8M527.1 243.9v.8M527.1 248.4v.8M527.1 250.2v1.4M527.6 241.3v.8M527.6 247.1v2.4M527.6 250.9v.8M528.1 237v.8M528.1 238.6v1.9M528.1 242v.8M528.1 243v.8M528.1 244.7v.8M528.1 247.5v.8M528.1 248.6v1.7M528.1 250.9v.8M528.6 238.6v.8M528.6 243.1v.8M528.6 246.4v2.5M528.6 249.1v2.1M529.1 234.1v.8M529.1 244.9v.8M529.1 246.5v1.4M529.6 249.1v.8M529.6 250.6v.8M530.1 246.1v.8M530.1 250.2v.8M530.6 238.8v.8M530.6 245.4v.8M530.6 247.4v.8M530.6 249.4v1.1M530.6 250.8v.8M539.6 216.7v.8M539.6 227.7v.8M539.6 242.6v.8M539.6 249.1v.8M539.6 250v1.7M540.1 228.7v.8M540.1 234.5v.8M540.1 236.2v.8M540.1 237.6v.8M540.1 246.3v1.8M540.1 248.9v.8M540.6 244.8v.8M540.6 247.1v.9M540.6 248.1v1.7M540.6 250.6v.9M541.1 212.9v.8M541.1 229.8v.8M541.1 232v.8M541.1 236.3v.8M541.1 238.8v.8M541.1 239.8v1.3M541.1 245.7v1.7M541.1 247.8v.8M541.1 249.6v1.9M541.6 232.3v1.5M541.6 239.7v.8M541.6 242.6v.8M541.6 244.1v.8M541.6 246.8v.8M541.6 250.7v.8M542.1 231.4v.8M542.1 234.1v.8M542.1 241.4v.8M542.1 243v.8M542.1 245.7v1.3M542.1 250.4v.8M542.7 230.9v.8M542.7 248.8v.8M542.7 250.6v.8M543.2 244.4v.8M543.2 247.6v.8M543.2 249.3v1.3M543.7 238.5v.8M543.7 241.2v1.5M543.7 246.5v2.4M544.2 246.5v.8M544.2 249.5v.8M544.2 250.6v.8M544.7 242.2v.8M544.7 244.3v.8M544.7 250v1.6M545.2 245.7v.8M545.2 248.7v1.1M545.2 250v1.3M545.7 234.8v.8M545.7 242.8v.8M545.7 243.7v1.5M545.7 248v1M545.7 250.8v.9M546.2 248.8v1M546.7 243.4v.8M546.7 247.8v.8M546.7 250.1v.8M547.3 238.1v.8M547.3 248v2.5M555.8 240.8v.8M555.8 242.3v1.4M555.8 247.4v1.9M556.3 243.5v.8M556.3 249.1v.8M556.3 250.3v.8M556.8 250.5v1.1M557.3 244.2v.8M557.3 245.4v1.7M557.3 247.7v2.7M557.3 250.9v.9M557.8 215.3v.8M557.8 230.2v.8M557.8 243.4v1.4M557.8 246.1v.8M557.8 248.9v.8M557.8 250v.8M558.3 239.1v.8M558.3 248.5v.8M558.7 242.4v.8M559.2 246.4v1.5M559.2 250.1v.8M559.7 240.7v.8M559.7 243.5v.8M559.7 247.2v.8M559.7 248.6v1.3M559.7 250.2v.8M560.2 245.6v.8M560.2 249.2v.8M560.7 249.3v.8M560.7 250.5v.8M561.2 245v.8M561.2 249.5v2.1M561.7 240v.8M561.7 250.7v.8M562.2 235.2v.8M562.2 242.4v1.5M562.2 244.6v1M562.2 246.2v1.7M562.7 222.4v.8M562.7 235.4v.8M562.7 244.8v.8M562.7 246v2.1M562.7 248.9v.8M563.1 229v.8M563.1 238v.8M563.1 239v.8M563.1 244.7v.8M563.1 245.7v.8M563.1 247.1v1M563.1 249.7v1.6M563.6 232.4v.8M563.6 235.6v.8M563.6 243.1v1.3M563.6 245v.8M563.6 247.2v.8M563.6 248.2v.8M563.6 249.3v1M563.6 250.9v.8M572.1 243.7v.8M572.1 245.4v.8M572.1 246.4v.8M572.1 247.4v.8M572.1 249.4v2.2M572.6 248v.8M572.6 249v.8M572.6 250.8v.8M573.1 242v1.4M573.1 245.6v2.9M573.1 250.2v1.3M573.6 239.3v1.6M573.6 242.9v1M573.6 245v.8M573.6 246.7v1.1M573.6 248.7v.8M573.6 250v.8M574.1 236.9v.8M574.1 243.1v1.3M574.1 245.4v.8M574.1 246.7v.8M574.1 248.1v1.3M574.1 249.7v1.5M574.6 219.5v.8M574.6 238.6v.8M574.6 242.8v1.1M574.6 244.2v.8M574.6 245.1v.8M574.6 248.9v.8M575.1 244.8v1.7M575.1 247v.9M575.1 249.5v.8M575.6 247.1v1.4M575.6 249.3v.8M575.6 250.4v.8M576.1 240.6v.8M576.1 243.1v1.3M576.1 246.5v.8M576.7 238.1v.8M576.7 240.6v.8M576.7 247.6v.8M576.7 249.4v1.7M577.2 231.9v.8M577.2 234.7v.8M577.2 236.6v.8M577.2 237.5v.8M577.2 242.8v.8M577.2 246.5v.8M577.2 249.5v.9M577.7 215.8v.8M577.7 218.5v.8M577.7 220.9v.8M577.7 230.8v1.6M577.7 235.1v.8M577.7 237.7v1.2M577.7 240.7v1.7M577.7 245.8v.8M577.7 246.8v.8M577.7 249.8v1.7M578.2 208.1v.8M578.2 210v1.6M578.2 216.2v.8M578.2 221.5v.8M578.2 231.3v.8M578.2 234.9v.8M578.2 239.8v.9M578.2 240.7v2.3M578.2 243.7v.8M578.2 244.8v.8M578.2 245.8v.8M578.2 247.6v.8M578.2 249.5v1.8M578.7 220.1v1.2M578.7 222.1v.8M578.7 223.9v.8M578.7 227.9v.8M578.7 232.2v.8M578.7 233.6v.8M578.7 234.8v1.5M578.7 236.5v.8M578.7 240.1v.8M578.7 242.8v.8M578.7 243.7v1.9M578.7 246.2v1.5M578.7 247.8v.8M578.7 248.8v1.9M585.6 230.3v.8M585.6 239.4v2.2M585.6 241.9v.8M585.6 244.7v1.5M585.6 246.9v.8M585.6 248v1.7M585.6 250.1v1.3M586.2 226.3v.8M586.2 234.5v.8M586.2 244.2v.8M586.2 246.9v1M586.2 248.9v1.7M586.2 250.8v.8M586.7 239.1v1M586.7 241.6v1.5M586.7 247v.8M586.7 249.7v1.6M587.2 228.2v.8M587.2 230.3v.8M587.2 240.8v.8M587.7 234.2v.8M587.7 237.7v1M587.7 240.8v2.1M587.7 243.5v.8M587.7 244.6v.8M587.7 247v.8M587.7 248.5v.8M587.7 250.7v.8M588.2 240.4v.8M588.2 247.8v1M588.7 238.6v.8M588.7 240.3v1.2M588.7 242.2v.8M588.7 243.8v.8M588.7 250.3v1.3M589.3 247.1v.8M589.3 249.3v.8M589.3 250.9v.8M589.8 243.3v1.5M589.8 249.2v1.2M590.3 224.8v.8M590.3 236.7v.8M590.3 243.4v.8M590.3 244.4v.8M590.3 245.7v.8M590.3 247.5v1.1M590.3 249.3v.8M590.3 250.5v.8M590.8 232.6v.8M590.8 233.6v.8M590.8 237.2v1.2M590.8 242.3v1.2M590.8 244.3v.8M590.8 248.6v2.7M591.3 241.4v.8M591.3 244.5v1.7M591.3 246.7v1M591.3 250.1v.8M598.9 244.5v.8M598.9 245.9v.8M598.9 248.9v1.7M599.4 245.2v.8M599.4 248.8v1.2M599.8 238.5v.8M599.8 243v1.7M599.8 247.2v.8M599.8 248.3v.8M599.8 250.2v1.5M600.3 237.5v.8M600.3 242.2v.8M600.3 245.7v.8M600.3 246.7v1.7M600.3 249.8v1.4M600.8 215.4v.8M600.8 231.5v.8M600.8 238v.8M600.8 240v1.2M600.8 241.7v.8M600.8 243.7v.8M600.8 248.1v.8M600.8 250.1v.8M601.3 248.6v.8M601.3 249.8v1.8M601.8 231.3v.8M601.8 233.6v.8M601.8 234.6v.8M601.8 240.8v1.6M601.8 244.7v.8M601.8 246.2v.8M601.8 248.2v.8M601.8 250.3v.8M602.3 230.8v.8M602.3 233.9v.8M602.3 234.9v.8M602.3 236.5v.8M602.3 240v.8M602.3 242.5v.8M602.3 246v1.7M602.3 249.1v2.5M602.8 249.2v1.2M602.8 250.5v.8M603.3 248v.8M603.7 249.2v.9M604.2 243.4v.8M604.2 247.4v1.5M604.2 249.5v.8M604.7 242.2v.8M604.7 246.2v1M604.7 250v.8M605.2 237.9v.8M605.2 241.6v.8M605.2 243.2v2.2M605.2 246.4v2.1M611.7 235.4v.8M611.7 237.7v.8M611.7 244.4v.8M611.7 246.3v.8M611.7 248v1.1M611.7 250.1v1.6M612.2 200.4v.8M612.2 237.2v.8M612.2 238.2v.8M612.2 240.5v1.7M612.2 244.9v1.4M612.2 248.1v1.4M612.7 230v.8M612.7 237.3v.8M612.7 239.7v.8M612.7 241.1v.8M612.7 245.4v.8M612.7 248.3v.9M612.7 249.3v2.2M613.2 242.6v.8M613.2 244.3v.8M613.2 248.5v.8M613.7 233.2v.8M613.7 246.5v1.5M613.7 250.6v.8M614.2 244.3v.8M614.2 247.3v.8M614.2 248.4v.8M614.7 226.1v.8M614.7 232.8v.8M614.7 236.1v.8M614.7 237.7v.8M614.7 246.8v4M615.3 229.8v.8M615.3 236.6v.8M615.3 240.9v.8M615.3 246v2.2M615.3 248.5v3.3M615.8 239v1M615.8 244.2v1.1M615.8 245.8v2.3M615.8 248.5v.8M615.8 250.3v.8M616.3 245.9v1.8M616.3 250.8v.8M623.4 243.4v.8M623.4 245.2v.8M623.4 247.1v.8M623.4 249.8v.8M623.4 250.7v.8M623.9 240v.8M623.9 243v.8M623.9 245.6v.8M623.9 246.6v1.6M623.9 249.9v.8M624.4 245.8v1.2M624.4 247.9v1.8M625 235.6v.8M625 236.8v.8M625 242.9v.8M625 245.4v.9M625 247.3v.8M625 248.2v1M625 249.5v2.2M625.5 198.3v.8M625.5 233.9v.8M625.5 238.1v.8M625.5 239.5v.8M625.5 241.6v.8M625.5 242.7v.8M625.5 244.2v.8M625.5 250.1v1M626 230.4v.8M626 232v.8M626 237.3v.8M626 242.9v.8M626 245v.8M626 246.7v1M626 248.8v.8M626.5 237.8v.8M626.5 244.5v1.7M626.5 246.8v.8M626.5 250.6v.9M632.1 243.5v.8M632.1 248v.8M632.6 245.3v.8M632.6 246.9v.8M632.6 249.1v1.4M632.6 250.7v.8M633.1 250v1.1M633.6 239.4v.8M633.6 247.4v1.8M633.6 249.3v2M634.1 244.2v.9M634.1 245.3v.8M634.1 247v1.7M634.1 249.3v.8M634.1 250.2v1.3M634.6 230.1v.8M634.6 241.7v.8M634.6 243.5v.9M634.6 244.9v.8M634.6 248.7v.8M634.6 250.4v.8M635.1 228.9v.8M635.1 234.7v.8M635.1 245.6v.8M635.1 249.8v.8M635.6 249.7v2M636.1 245v.8M636.1 247.2v.8M636.1 249.3v.8M641.1 248.8v.8M641.1 249.8v1.2M641.6 247.6v.8M642.1 248.3v.8M642.6 215.3v.8M642.6 237.6v.8M642.6 246.1v.8M642.6 247.3v1.1M642.6 249.2v1.6M643.1 235v.8M643.1 241.5v.8M643.1 244.3v.8M643.1 245.3v.8M643.1 249.2v.8M643.1 250.4v.8M643.6 236.6v.8M643.6 237.6v.8M643.6 242.8v.8M643.6 248.8v.8M643.6 250.2v1.5M644.1 195v.8M644.1 220.1v.8M644.1 231.8v.8M644.1 238.3v1.6M644.1 243.7v1.3M644.1 246.6v1.6M644.1 249.3v2.1M644.6 198.4v1.2M644.6 230.7v.8M644.6 231.8v.8M644.6 233.1v.8M644.6 237.9v.8M644.6 240.6v1.3M644.6 243.1v2.6M644.6 245.9v.8M644.6 247v2.6M644.6 249.6v.9M645.1 245.3v.8M645.1 247.6v.8M645.1 248.6v2M645.1 250.8v.8M645.6 246v.8" stroke="#1b2d5f" stroke-width="0.65" stroke-opacity="0.95" fill="none"/>
<path d="M418.1 239.2v.8M418.1 245.6v1.1M418.1 247.1v.8M418.1 249.7v.8M418.6 246v1.7M418.6 250.7v1M419.1 241.3v.8M419.1 244.3v.8M419.1 250.5v1.3M419.6 248v2.2M420.1 246.8v.8M420.6 248.5v.8M420.6 250.7v.8M421.1 250.6v.8M421.6 238.3v.8M421.6 246v.8M421.6 250v1M421.6 251.1v.8M422.1 238.2v.8M422.1 250v.8M422.6 230.8v.8M422.6 237.2v1.5M422.6 242.1v.8M422.6 249.6v.8M423.1 230.5v.8M423.1 232.3v.8M423.1 238.4v.8M423.1 241.7v1.3M423.1 245.7v.8M423.1 247.5v2M423.1 249.8v1.5M423.6 193.2v.8M423.6 205.8v.8M423.6 220.5v.8M423.6 230v.8M423.6 232.4v.8M423.6 234.5v.8M423.6 235.4v.8M423.6 240.3v.8M423.6 243.2v1.8M423.6 245.8v.8M423.6 247.3v.8M423.6 249v.8M424.1 190v.8M424.1 191.3v.8M424.1 211.8v.8M424.1 217.8v.8M424.1 237.1v.8M424.1 242.8v1.1M424.1 245.7v.8M424.1 247.3v1.4M424.1 249.4v2.4M424.6 226.9v.8M424.6 237.3v1.5M424.6 242.5v.8M424.6 244.8v1.8M424.6 247.3v.8M424.6 248.5v.8M424.6 250.8v.9M425 237v.8M425 243v.8M425 245v.9M425 247.1v1.2M425 249.3v2.4M425.5 237.7v.8M425.5 242.7v.8M425.5 245.2v.8M425.5 250.1v.8M426 222.5v.8M426 243.3v.8M426 245.2v.8M426 248.4v.8M426.5 236.3v.8M426.5 242.4v.8M426.5 243.8v2M426.5 247.9v.8M426.5 249.2v1.7M427 217.5v.8M427 218.4v.8M427 226.7v.8M427 232v.8M427 234v.8M427 235.9v.8M427 245.9v1.5M427.5 225.6v.8M427.5 232.3v.8M427.5 235v.8M427.5 243.1v.8M427.5 245.2v2.1M427.5 247.3v.8M427.5 249.7v1.7M428 235.7v.8M428 239.8v.8M428 243.1v.8M428 244.1v.8M428 247.4v2M428 249.7v.8M428.5 248.1v.8M428.5 249.4v.9M428.5 250.6v.8M429 234.8v.8M429 246v.8M429 249.2v.8M429.5 248.9v1.7M430 251.1v.8M430.5 250.3v.8M431 243.4v.8M431 247v.8M443.3 246v2.2M443.8 244.3v.8M443.8 245.3v.8M443.8 251v.8M444.8 239.1v.8M444.8 242.2v.8M444.8 247.1v.8M444.8 249.2v2.7M445.3 250.4v.8M445.9 247.5v.8M445.9 249v1.3M445.9 250.4v1.6M446.4 250.3v.8M446.9 238v.8M446.9 240.4v.8M446.9 244.9v1.3M446.9 248v2.1M447.4 230.8v.8M447.4 232.1v.8M447.4 237.6v2.1M447.4 243.9v1.6M447.4 246.2v.8M447.4 247.5v.8M447.4 250.1v.8M447.9 242.9v.8M447.9 246v.8M447.9 247.2v.8M447.9 250.3v1.2M448.4 241.3v.8M448.4 246v.8M448.4 248.1v.8M448.4 249v.8M448.4 250.5v.9M448.9 236.4v.8M448.9 249.6v.8M448.9 251v1M449.4 243.4v.8M449.4 246.1v.8M449.4 247.1v1.5M449.9 241.7v1.2M449.9 246.9v.8M449.9 249.4v.8M450.4 239.2v.8M450.4 244.2v.8M450.4 249.3v.8M450.4 250.3v1.2M451 217.6v.8M451 230.9v.8M451 246.6v.8M451 251.1v.8M451.5 235.6v.8M451.5 239v.8M451.5 240.1v1.4M451.5 241.7v.8M451.5 243.3v.9M451.5 248.3v.8M451.5 250.4v1.6M452 223.5v.8M452 225.2v.8M452 234.2v.8M452 237.1v.8M452 239.2v.9M452 241v.9M452 242v.8M452 243.2v.9M452 246.8v1M452 250.8v.8M452.5 212.2v.8M452.5 232.3v.8M452.5 236.3v.8M452.5 239.8v.8M452.5 243.6v.8M452.5 244.8v.8M452.5 246.1v.9M452.5 249.1v.8M452.5 250v.8M453 228.6v.8M453 236.5v1.5M453 248.3v1M453 249.5v.8M453.5 247.8v.8M453.5 248.8v1M453.5 250.2v1.6M454 247.4v.8M454 248.6v1.6M454.5 245.4v.8M454.5 248.5v.8M454.5 249.6v1.8M466.8 241v.8M466.8 246.8v.8M466.8 248.5v.8M466.8 249.5v.8M467.3 246.5v.8M467.3 248.2v1.5M467.3 250.9v.8M467.8 246.5v.8M467.8 248.1v.8M467.8 250.5v1.3M468.3 240.2v.8M468.3 242.5v.8M468.3 246.4v.8M468.3 249.2v.8M468.8 245.6v.8M468.8 250.9v.8M469.3 245.9v.8M469.3 247.7v.8M469.3 249.3v1.2M469.8 246.9v.8M469.8 249.3v.8M470.3 226.9v.8M470.3 240.5v.8M470.3 242.1v.8M470.3 244.4v.8M470.3 245.9v1.7M470.8 227.8v.8M470.8 250.5v.8M471.3 243.3v.8M471.3 245.8v.8M471.8 241.7v.8M471.8 244.5v.8M471.8 248.8v.8M472.3 231.5v1.3M472.3 239.4v.8M472.3 241.2v2.3M472.3 246.6v.8M472.3 250.8v.8M472.8 245v.8M472.8 247.3v3.3M472.8 250.8v.9M473.3 233.3v.8M473.3 241.3v.8M473.3 243.6v.8M473.3 247.6v1.7M473.3 249.6v1M473.8 245.9v.8M473.8 249.7v1.5M474.3 223.6v.8M474.3 231.2v.8M474.3 235.7v.8M474.3 239.2v.8M474.3 241.1v1.2M474.3 246.3v.8M474.3 248.1v1M474.3 250.3v.8M474.8 240.1v.8M474.8 247.3v.8M474.8 249v1.7M475.3 240.2v.8M475.3 242.4v.8M475.3 247.7v.8M475.8 248.8v1.5M476.3 248.6v1.2M476.8 229.4v.8M476.8 246.8v.8M476.8 250.1v.8M477.3 235.1v.8M477.3 247.5v.8M477.3 248.5v.8M477.3 249.7v.8M477.8 229.4v.8M477.8 244.4v.8M477.8 248.4v1.3M489.6 249v.8M489.6 251v.8M490.1 240.8v.8M490.1 247.8v1M490.1 249.5v1.7M490.6 245v.8M490.6 246.1v.8M490.6 248.6v.8M491.1 227.9v.8M491.1 247.1v1M491.1 248.9v2.6M491.6 243.3v.8M491.6 246.9v.8M491.6 249.2v1.1M492.1 248.1v.8M492.6 246.4v1.4M493.1 230.1v.8M493.1 233.9v.8M493.1 236.5v.8M493.1 240.8v1.5M493.1 243.5v.8M493.1 245.1v.8M493.1 246.7v.8M493.1 250.7v.8M493.6 214v.8M493.6 230.9v.8M493.6 238.7v1.7M493.6 244.9v.8M493.6 246.2v.8M493.6 247.5v1M494.1 236.3v.8M494.1 242.6v.8M494.1 247.5v.8M494.1 249.5v2.3M494.7 235.5v.8M494.7 242.1v.8M494.7 243v.8M494.7 247.1v.8M494.7 248.2v1.8M495.2 228.8v.8M495.2 236.7v.8M495.2 241.3v.8M495.2 243.9v1.3M495.2 247.9v.8M495.2 249.4v2.4M495.7 235.9v.8M495.7 237.8v1.2M495.7 239.2v.8M495.7 240.2v.8M495.7 246v.8M495.7 247.7v.8M495.7 249.5v1.7M496.2 245.1v.8M496.2 247.1v.8M496.2 249.1v.8M496.7 239.6v.8M496.7 243.9v1.3M497.2 244.7v.8M497.2 250.3v.8M497.7 247.8v.8M497.7 251v.8M498.2 240.2v.8M498.2 242.8v.8M498.2 245.1v.8M498.2 246.3v.8M498.2 250.3v1.4M498.7 236.3v.8M498.7 240.5v1.9M498.7 246.7v1.4M498.7 250.7v1.2M499.2 241.5v.8M499.2 248.3v1.4M499.2 251v.8M499.7 245.9v.8M499.7 248.6v.8M499.7 251.1v.8M510.5 247.8v.8M510.5 249.1v.8M510.5 250.3v.8M511 249.2v1.4M511.5 239.5v.8M511.5 249v.8M511.5 251v.8M512 237.2v.8M512 249.3v.8M512.5 244.7v.8M512.5 249.5v1.7M513 232.2v.8M513 239.2v.8M513 242.8v.8M513 246.3v1.2M513 248.2v.8M513 249.3v1.5M513.5 234.7v.8M513.5 241.2v1.3M513.5 245.9v.8M513.5 247.1v1.3M513.5 249.3v.8M514 243.1v.8M514 246.6v.8M514 248.6v1.6M514.5 245.9v.8M514.5 247.9v1.3M515.1 246.3v.8M515.1 248.3v.8M515.1 250.1v1.9M515.6 238v.8M515.6 239.6v.8M515.6 244.3v.8M515.6 246.6v1.6M515.6 248.8v.8M515.6 249.9v1.6M516.1 248.6v1.2M516.6 241.2v1.7M516.6 246.1v1.2M516.6 247.6v.8M516.6 250.3v1.5M517.1 227.8v.8M517.1 241.5v.8M517.1 245.1v1.3M517.1 247.5v.9M517.1 249.9v.8M517.1 250.8v1.1M517.6 212.5v.8M517.6 219.4v.8M517.6 221.4v.8M517.6 228.1v.8M517.6 230v.8M517.6 237.5v.8M517.6 243.1v.8M517.6 246.8v.8M517.6 247.9v1M517.6 249.8v1.8M518.1 238.4v.8M518.1 242.8v.8M518.1 247.3v.8M518.1 249.2v.8M518.1 250.9v1.1M518.6 244.9v.8M518.6 245.9v.8M519.1 241.1v.8M519.1 247.6v1.6M519.1 249.5v.8M519.1 250.9v.8M519.6 239.2v.8M519.6 241.4v1.5M519.6 248.9v.8M520.1 247.2v1.6M520.1 249.3v.8M520.1 250.6v.8M531.1 237.5v.8M531.1 246v1.7M531.6 247.3v.8M531.6 251.1v.8M532.1 249.4v.8M532.1 250.9v.8M532.6 250.8v.8M533.1 245.5v.8M533.1 249.5v.8M533.6 241.3v1.2M533.6 249.1v.8M533.6 251.1v.8M534.1 248.3v1M534.6 236v.8M534.6 241.2v.8M534.6 242.9v.8M534.6 246.2v.8M534.6 248v.8M535.1 244.4v.8M535.1 250.6v.8M535.6 245.8v.8M535.6 248.9v.8M535.6 250.8v.8M536.1 244.3v.8M536.1 250.6v.8M536.6 246.5v1M536.6 248.1v.8M536.6 250.5v1.1M537.1 245.3v.8M537.6 242.1v.8M537.6 248.2v1.1M537.6 250.6v.8M538.1 248.3v.8M538.6 249.2v1.4M539.1 230.6v.8M539.1 238.3v.8M539.1 242.1v.8M539.1 243.6v1.1M539.1 245.7v1.2M539.1 247.7v1.1M539.1 249.1v.8M539.1 250.3v.8M547.8 244.3v.8M547.8 245.5v.8M547.8 249.2v1.3M548.3 226.2v.8M548.3 241.4v1.6M548.3 243.6v.8M548.3 245.6v.8M548.3 248.7v.8M548.3 249.7v.8M548.8 214.7v.8M548.8 232.4v.8M548.8 241.8v.8M548.8 242.9v.8M548.8 248v4M549.3 241.6v.8M549.3 243.9v.8M549.3 244.9v1.2M549.3 248.1v1.7M549.3 250.9v.8M549.8 234v.8M549.8 235.4v.8M549.8 239.3v.8M549.8 240.9v.8M549.8 242.2v.8M549.8 243.9v.8M549.8 250.7v.8M550.3 228.9v.8M550.3 239.9v.8M550.3 243.3v.8M550.3 245.1v1.6M550.3 247.4v1.4M550.3 248.8v1.1M550.3 250v.8M550.8 239.5v.8M550.8 244.9v.8M550.8 245.9v.8M550.8 247.5v.8M550.8 248.6v1.3M551.3 238.3v.8M551.3 242.5v.8M551.3 247.3v.8M551.3 248.3v2.4M551.8 228.9v.8M551.8 237.8v.8M551.8 246.8v.8M551.8 247.8v.8M551.8 248.9v.8M551.8 250v.8M552.3 241.9v.8M552.8 224.6v.8M552.8 238v.8M552.8 241.6v.8M552.8 245.5v.8M552.8 247.9v.8M552.8 250.7v.9M553.3 233.5v.8M553.3 235.3v.8M553.3 239.6v.8M553.3 244.5v1.6M553.3 246.5v.8M553.3 248.1v2.6M553.3 250.8v.8M553.8 245.2v.8M553.8 249.2v.8M553.8 250.2v.8M554.3 238.2v.8M554.3 241.9v.8M554.3 245.9v.8M554.3 247.3v.8M554.8 232.8v.8M554.8 235.1v.8M554.8 239.8v.8M554.8 241.5v.8M554.8 243.5v1.5M554.8 245.1v2.3M554.8 247.9v.8M555.3 246.4v.8M555.3 248.2v1.3M564.1 236.6v.8M564.1 244.8v.8M564.1 248.6v.8M564.1 250.8v.8M564.6 232.6v.8M564.6 236.5v.8M564.6 243.9v.8M564.6 250.5v1.2M565.1 242.6v.8M565.1 248.1v1.7M565.1 250.3v1.1M565.6 241.6v1M565.6 243.9v.8M565.6 246.3v.9M565.6 249.8v1M566.1 237.6v.8M566.1 244v.8M566.1 245.8v.8M566.1 247.4v.8M566.6 246.9v.8M566.6 248.1v.8M566.6 249v2.4M567.1 243.7v.8M567.1 246v.8M567.6 246.8v.8M567.6 248.8v.8M568.1 245.5v.8M568.1 248.1v.8M568.6 237.2v.8M568.6 239.7v.8M568.6 247.8v.8M568.6 248.8v.8M569.1 244.9v.8M569.1 247.5v.8M569.1 249.5v.8M569.6 242.8v1.7M569.6 246.3v.8M569.6 247.8v.8M569.6 250.8v.8M570.1 248.6v.8M570.6 246.1v.8M570.6 247.4v.8M570.6 251v.8M571.1 246.4v.8M571.1 248v1.6M571.1 250.7v1.2M571.5 227.3v.8M571.5 229.7v.8M571.5 232.1v.8M571.5 234.9v.8M571.5 240.5v.8M571.5 246v.8M571.5 247.4v1.3M579.2 233.7v.8M579.2 237.5v1.6M579.2 239.4v.8M579.2 246.8v2.2M579.2 249.7v1.8M579.7 233v.8M579.7 237.2v.8M579.7 245.9v1.2M579.7 248.1v.8M579.7 250.6v1.1M580.2 233.4v.8M580.2 236.7v.8M580.2 241.8v1.5M580.2 244.2v.8M580.2 245.5v.8M580.2 247.9v.8M580.2 248.9v1.2M580.7 240.2v.8M580.7 248.7v1.3M580.7 250.4v.8M581.2 247.1v.8M581.2 248.8v1.7M581.7 249.7v.8M582.2 245.8v.8M582.2 248.8v.8M582.2 250.7v.8M582.7 248.7v.8M583.2 248.7v.8M583.2 251.1v.8M583.7 245.7v.8M583.7 247.1v.8M583.7 248.3v1.2M583.7 249.7v.8M584.1 245.3v.8M584.1 249.1v1.1M584.1 250.9v.8M584.6 246.2v.8M585.1 245.4v.8M585.1 248.9v1.7M585.1 251v.8M591.8 239.8v1.2M591.8 241.3v.8M591.8 245.7v.8M591.8 248.2v1.5M592.3 241.5v.8M592.3 248v1M592.3 249v1.1M592.3 250.2v1.2M592.8 246.3v.8M592.8 250.4v.8M593.3 246.9v.8M593.3 248v.8M593.3 250.5v.8M593.8 230.6v.8M593.8 243.8v.8M593.8 250.6v1.1M594.3 209.1v.8M594.3 215.7v.8M594.3 228.9v.8M594.3 229.9v.8M594.3 235.8v.8M594.3 238.7v.8M594.3 240.1v.8M594.3 244.6v1.6M594.3 246.8v1.6M594.3 248.7v1.6M594.3 250.5v.8M594.9 224v1.5M594.9 233.7v.8M594.9 240.3v.8M594.9 247.9v.8M594.9 249.5v.8M595.4 236.8v.8M595.4 247.6v.8M595.4 250.1v1.5M595.9 242.5v.8M595.9 249.7v.9M596.4 237.6v.8M596.4 244.2v.8M596.4 246.8v.8M596.4 248.5v1.3M596.4 250.1v.9M596.9 246.5v1.2M596.9 249.8v1.3M597.4 220.3v.8M597.4 244.2v.8M597.4 245.8v.8M597.4 248.8v1.4M597.9 234.4v.8M597.9 236.8v.8M597.9 238.3v1.5M597.9 239.9v.8M597.9 241.3v1M597.9 245.4v.8M597.9 247.3v1.2M597.9 251v1M598.4 239.9v.8M598.4 246v.8M598.4 248.7v2.8M605.7 249.2v.8M606.2 237.9v.8M606.2 239.3v.8M606.2 251v.9M606.7 244.1v.8M606.7 245.6v.8M606.7 247.8v.8M606.7 249.1v.8M606.7 250.5v.8M607.7 242.7v.8M607.7 245.9v.8M607.7 247.6v1.6M607.7 250.1v1.6M608.2 226.3v.8M608.2 237.3v.8M608.2 240.4v.8M608.2 250v1.5M608.7 216.5v.8M608.7 231.8v.8M608.7 233.7v.8M608.7 238.3v.8M608.7 240.6v.8M608.7 244.1v1.7M608.7 246.4v.8M608.7 248.4v1.6M609.2 224.5v.8M609.2 225.5v1.7M609.2 232.6v.8M609.2 238.4v.8M609.2 240v.8M609.2 242.9v.8M609.2 244v1.7M609.2 246.3v.8M609.2 249.4v2.1M609.7 224.8v.8M609.7 237.7v.8M609.7 240.3v.9M609.7 241.7v.8M609.7 247.6v1M609.7 248.7v1.2M610.7 240.3v.8M610.7 243.5v.8M610.7 244.7v.8M610.7 250.1v.8M611.2 237.5v.8M611.2 243.5v.8M611.2 244.8v.8M611.2 248v1.1M611.2 249.5v.8M616.8 246.4v.8M616.8 248.1v.8M616.8 249.5v.8M617.3 248.3v2.1M617.3 250.6v1.3M617.8 247v.8M617.8 248.5v.8M618.3 246.8v1.2M618.3 248.3v1.3M618.8 250.3v.8M619.3 247.1v.8M619.3 248.6v.8M619.8 232.4v.8M619.8 246.1v.8M619.8 249.2v1.8M620.3 230.3v.8M620.3 248.5v.8M620.3 249.7v1.7M620.9 245.5v.8M621.4 247.4v.8M621.9 245.2v.8M621.9 246.6v.8M621.9 247.6v.8M621.9 250v1.9M622.4 246.9v.8M622.4 250.9v.8M627 248.5v.8M627.5 245.9v.8M627.5 249.1v.8M628 242.1v.8M628 244.1v.8M628 246.4v.8M628 247.7v1.3M628 249.2v.8M628 250.5v1.3M628.6 238.8v.8M628.6 242.2v.8M628.6 244.5v.8M628.6 246.6v1.4M628.6 248.4v.8M628.6 249.7v1.6M629.1 237v.8M629.1 242.2v1.4M629.1 246.6v.8M629.1 250.2v1.6M629.6 230.6v.9M629.6 234.9v.8M629.6 241.4v.8M629.6 246.1v.8M629.6 247.7v.8M629.6 248.7v.8M630.1 230.2v.8M630.1 243.1v1.3M630.1 248.6v.8M630.6 245.2v.8M630.6 250.5v1M631.1 251v.8M631.6 245.3v.8M631.6 247.1v.8M636.6 247.6v.9M636.6 249v.8M636.6 250.9v.9M637.1 244.8v.8M637.1 248.4v.8M637.1 249.6v.8M637.6 223.9v.8M637.6 242.1v.8M637.6 246.1v.8M637.6 249.6v.8M638.1 226.7v.8M638.1 230.5v.8M638.1 243v.9M638.1 248.1v.8M638.1 249.5v.8M638.6 199.9v.8M638.6 227.7v.8M638.6 229.5v.8M638.6 232.8v.8M638.6 234.1v.8M638.6 235.3v.8M638.6 238.8v.8M638.6 241.3v1.7M638.6 246v.8M638.6 247.1v.8M638.6 248.1v.8M638.6 249.1v.8M638.6 250.6v.8M639.1 231.2v.8M639.1 235.8v.8M639.1 238.4v.8M639.1 244.9v.8M639.1 246.5v.8M639.1 248.7v.8M640.1 247v.8M640.1 250.2v1.7" stroke="#4696be" stroke-width="0.65" stroke-opacity="0.7" fill="none"/>
<path d="M402.7 283.1v.8M402.7 286.7v1M402.7 287.9v1.4M402.7 304.7v.9M402.7 305.7v2.5M403.2 282.3v.8M403.2 286v.8M403.2 307v.8M403.2 308.5v.8M403.7 283v2.5M403.7 286.1v1.3M403.7 305v1M403.7 306.5v1.1M403.7 307.7v1.4M404.2 277.9v.8M404.2 279.5v.8M404.2 281.1v.8M404.2 285v1.5M404.2 305.6v.8M404.7 275v.8M404.7 278.9v.8M404.7 281.9v.8M404.7 283.4v1.4M404.7 286.7v.8M404.7 303v1.1M404.7 304.8v.9M404.7 305.9v.8M405.2 282v.8M405.2 282.9v3.1M405.2 286.2v1.3M405.2 305.3v.8M405.2 311.2v.8M405.7 283.7v4.9M405.7 309.9v1.6M406.2 280.1v.8M406.2 281.4v.8M406.2 284v1.7M406.2 285.9v1.5M406.2 310v.8M406.7 284.8v1.5M406.7 286.5v2.4M406.7 310.2v.8M406.7 311.6v.8M407.2 284.4v2M407.2 287.8v.9M407.2 308.7v1.6M407.2 312.1v.8M407.7 278.5v.8M407.7 282.5v.8M407.7 285.4v.8M407.7 287.2v1.4M407.7 311.1v2M408.2 283.8v.8M408.2 288.6v.9M408.2 309.1v2M408.2 311.5v1.9M408.2 313.6v1.1M408.2 315v.8M408.2 317.1v.8M408.7 284.6v2M408.7 288.1v.9M408.7 289.5v2M408.7 314.5v.8M408.7 318.6v.8M408.7 324.1v.8M409.2 283.7v1M409.2 286.5v3.1M409.2 314v.8M409.2 316.1v1.1M409.2 318.3v.8M409.7 281.7v.8M409.7 284.9v1.2M409.7 287.8v.8M409.7 289.4v.8M409.7 311.6v.8M409.7 313.1v.8M410.2 311.4v.8M410.2 312.7v1.6M410.2 314.8v.8M410.7 289.2v.9M410.7 310.9v.9M410.7 317.5v.8M410.7 322v.8M410.7 323.4v.8M411.2 289.1v3.4M411.2 292.7v1.1M411.7 280.3v.8M411.7 285.5v.8M411.7 287.7v1.6M411.7 305.7v1.1M411.7 307v2.4M411.7 309.9v.8M411.7 314.4v.8M412.2 284.6v1.9M412.2 287.2v.8M412.2 309v.8M412.2 310.5v1.3M423.2 273.5v.8M423.2 283.9v.8M423.2 286.2v.8M423.2 287.4v1.1M423.2 289v.8M423.2 304.2v2.2M423.2 311.2v.8M423.2 312.8v.8M423.2 315.4v1.6M423.7 282v.8M423.7 285.4v.8M423.7 287.6v1.3M423.7 289.1v.8M423.7 304.4v3.7M423.7 308.2v.8M423.7 315.5v.8M424.2 283.4v.8M424.2 284.5v.8M424.2 286.4v1.9M424.2 309.7v1.1M424.2 311.2v.8M424.2 313.8v.8M424.7 287.3v.8M424.7 288.8v.9M425.2 288.2v1M425.2 290.5v.8M425.2 310v.8M425.7 287.8v.8M425.7 311v.8M425.7 312.3v.8M425.7 313.6v2.1M425.7 319.3v.8M426.2 286.8v.8M426.2 288.4v.8M426.2 289.4v1.5M426.2 291.7v2.2M426.2 311.3v1.1M426.2 313.5v2M426.2 315.6v.8M426.7 282.6v.8M426.7 288v4.5M426.7 309.8v.8M426.7 311v1.5M426.7 312.8v.8M427.2 286v1.8M427.2 288.5v.8M427.2 290.1v.9M427.2 308.3v2.2M427.2 314.1v.8M427.7 274v.8M427.7 285.3v.8M427.7 288.7v.8M427.7 310v.8M428.2 285.9v.8M428.2 308.2v1.5M428.2 309.9v1.2M428.2 311.6v.8M428.2 318.2v.8M428.7 278.3v.8M428.7 289v.8M428.7 290.6v.8M428.7 305.6v3.3M428.7 315.3v.8M429.2 289.1v.8M429.2 290v.8M429.2 305.7v1.6M429.2 308v1.4M429.7 287.8v1.9M429.7 310.6v2.4M429.7 315.3v1.5M430.2 288.6v.8M430.2 306.2v2.4M430.2 308.7v.8M430.7 287.4v.8M430.7 289.3v1.4M430.7 306.2v3.7M430.7 311.3v.8M431.2 284.7v.8M431.2 285.8v.8M431.2 288.3v.8M431.2 290v.8M431.2 291.2v2.2M431.2 308.6v1.3M439.9 304.1v1.9M439.9 307v.8M439.9 308.2v.8M439.9 309.2v.8M439.9 310.4v.8M439.9 315.8v.8M439.9 318.8v.8M440.4 283.7v1.2M440.4 287.8v.8M440.4 289.6v.8M440.4 306.5v1.2M440.4 309.1v1.1M440.9 286.4v.8M440.9 306.1v1.4M440.9 307.7v1.5M440.9 309.6v.8M440.9 311.7v.8M440.9 313v.8M441.4 290v.8M441.4 305.6v4M441.4 311.4v.8M441.4 321.6v.8M441.9 291.8v.8M441.9 309.8v2.1M442.4 306.9v1.6M442.4 308.6v1.1M443.4 287.1v.8M443.4 289.6v.8M443.4 291.2v.8M443.4 312.7v.8M443.4 316.6v.8M443.4 317.9v.8M443.9 288.1v.8M443.9 289.8v.8M443.9 290.9v2.6M443.9 311.3v.8M443.9 312.5v.8M444.4 287.7v.8M444.4 288.7v.8M444.4 312.6v.8M444.4 313.9v.8M444.4 317.3v.8M444.9 282v.8M444.9 286.8v1.7M444.9 311.7v1.8M444.9 314.1v1M444.9 318.4v.8M445.4 286.4v.8M445.4 287.3v.8M445.4 309.4v2.2M445.9 284v.8M445.9 288.3v1.4M445.9 311.9v.8M445.9 314.4v.9M445.9 317.7v.8M446.4 307.2v3M446.4 311.9v.8M446.4 312.9v.8M446.4 314.1v.8M447 279.4v.8M447 287.5v2.9M447 306.9v1.6M447.5 311v1.4M456.3 282v.9M456.3 283.4v.8M456.3 286.5v.8M456.3 289.9v1.2M456.8 282.3v.8M456.8 285v1.1M456.8 286.4v1.6M456.8 288.6v1M456.8 290.6v2.3M456.8 304.7v1.6M456.8 306.9v1.7M456.8 310v.8M457.3 288.8v2.5M457.3 304.9v1.7M457.3 306.9v1.7M457.3 308.8v.8M457.3 311.7v.8M457.8 284.5v.8M457.8 286.3v1.3M457.8 305.8v.8M457.8 308.1v.8M458.2 281.1v.8M458.2 288.9v1.4M458.2 306.3v1M458.7 305.9v3.7M459.2 287.6v1.2M459.2 309.6v1M459.7 287.2v.8M459.7 288.8v.8M459.7 290.3v.9M459.7 304.7v1.4M459.7 306.7v.8M459.7 307.6v1.2M460.2 288.4v.8M460.2 289.8v2.9M460.2 308.9v.8M460.2 313.6v.8M460.7 288.4v.8M460.7 290.8v.9M460.7 291.9v2.4M460.7 308.9v2.4M460.7 313.6v1.1M461.2 290.1v.8M461.2 308.8v.8M461.2 309.7v.8M461.2 311.6v.8M461.2 319.4v.8M461.7 274.6v.8M461.7 276.7v.8M461.7 278.5v.8M461.7 281.1v1.5M461.7 287.6v.8M461.7 288.8v1.9M461.7 291.9v.9M461.7 310v.8M462.2 288.1v.8M462.2 291v.8M462.2 305.8v2M462.2 308.2v.8M462.2 309.3v1.2M462.2 316.2v.8M462.7 284.6v.8M462.7 289.9v.8M462.7 306.2v1.7M462.7 308.2v.8M462.7 310.7v.8M462.7 312v1.2M463.2 288.9v.8M463.2 290.1v.8M463.2 291.9v2.2M463.2 306.1v3.7M463.7 306.9v4.2M471.3 287.5v.8M471.3 308v.8M471.8 285.7v.8M471.8 288.3v2M471.8 304.8v3M471.8 308.1v1.6M472.3 283.7v2.5M472.3 287.2v.8M472.3 304v5.5M472.3 309.9v.8M472.3 326v.8M472.8 283.5v.8M472.8 285.2v2.2M472.8 288.9v1.4M472.8 306.7v1.3M472.8 308.2v1M472.8 310.1v.8M472.8 313.7v.8M473.3 287.7v.8M473.3 308.8v1.9M473.8 281.2v.8M473.8 285.3v1.6M473.8 309.9v1.4M473.8 312.8v.8M473.8 316.2v.8M473.8 317.2v.8M474.3 283.2v.8M474.3 288.9v.8M474.3 306.5v.9M474.3 307.6v1.5M474.3 309.6v.8M474.8 285.7v.8M474.8 288.9v1.1M474.8 304.8v3.4M474.8 308.7v.8M474.8 310.3v.8M474.8 312.4v.8M475.3 285.8v1.1M475.3 288.9v.8M475.3 307.2v.8M475.8 285.9v.8M475.8 305.8v2.6M476.3 282.9v.8M476.3 286v.8M476.3 286.9v3.5M476.3 304v2.1M476.3 306.5v.8M476.3 307.4v.8M476.3 309.4v.8M476.8 285.7v.8M476.8 306.9v.8M476.8 308.8v.8M477.3 281.8v.8M477.3 286.1v.8M477.3 303.3v2.7M484 286.8v.8M484 290.9v.9M484.5 280.7v.8M484.5 286.5v.8M484.5 289.8v.8M484.5 291.4v1.8M484.5 308.4v.8M484.5 309.9v.8M484.5 313.4v.8M485.5 289v1.4M485.5 306.3v2M486 288.5v.8M486 307.4v1.8M486 311.6v.8M486.5 276.2v.8M486.5 280.7v.8M486.5 283.9v.8M486.5 286.8v1.1M486.5 289.8v.8M486.5 305.2v3.2M486.5 308.8v.8M487 269.9v.8M487 270.8v.8M487 275.3v.8M487 279v.8M487 283.6v.8M487 288.9v.8M487 290.3v.8M487.5 288.6v1.4M487.5 291.9v.8M487.5 306.3v2M487.5 308.6v1.6M487.5 311.1v.9M487.5 312.6v.8M487.5 315.8v.8M488 291.1v1.4M488 306.7v2M488 309.3v1.6M488 311.3v1.1M488 318.3v.8M488 323.5v.8M488.5 319.6v.8M489 289.8v1.3M489 305.8v4.6M489 313v.8M489.5 287.4v1.4M489.5 289.6v.9M489.5 314.8v.8M490 286.5v.8M490 288.9v1.4M490 307.5v1M490 309.4v.8M490 312.6v.8M490.5 284.2v.8M490.5 287.2v.8M490.5 305.3v4M490.5 312.5v.8M491 275.3v.8M491 284.5v.8M491 311.5v1.5M491.5 285.2v1.1M491.5 287.6v.8M491.5 309v1.1M491.5 310.5v1M491.5 312.3v.8M491.5 315.2v.8M492 276.2v.8M492 285.5v.8M492 287.8v.8M492 309.6v1.6M492.5 289v.8M492.5 290.1v1.4M492.5 310.3v.8M492.5 311.4v1M493 284.6v.8M493 285.9v.8M493 288.7v1.6M493 310.1v1.7M493.5 285.4v.8M493.5 290.1v1.4M493.5 312v.8M494 287.2v.9M494 288.9v1.1M494 290.1v1.6M494 308.2v2.2M494 312.6v.8M494 317.4v1M494.5 277.4v.8M494.5 279.1v1.5M494.5 282.8v1.9M494.5 287v1.6M494.5 288.8v.8M494.5 290.7v1.2M494.5 305.8v1.9M494.5 308.4v.9M494.5 309.4v.8M494.5 312.8v2M495 286.5v.8M495 287.8v.8M495 289.5v.8M495 304.7v3.1M495 308.3v.8M495 310.6v.8M495 311.7v1.2M495 317.3v.8M495.5 285v.8M495.5 287v1.2M495.5 288.5v.8M495.5 289.4v1.8M495.5 304.6v3.2M495.5 309.4v.8M495.5 312.6v.8M495.5 315.1v.8M496 285.9v.8M496 288.3v1.4M496 303.3v3.2M496 307.2v.8M496 314.6v.8M496.5 287.5v3.6M496.5 304.1v3.6M496.5 308.2v.8M497 277.2v1.7M497 280.3v.8M497 283.7v1.5M497 308.7v.8M497 310.9v.8M497.5 282.8v.8M497.5 287.8v.9M497.5 289.4v.8M497.5 303.6v.8M497.5 304.6v1.8M497.5 307.2v.9M497.5 308.7v.8M497.5 310.5v.9M497.5 313.1v.8M498 280v.8M498 283v.8M498 287.3v3.5M498 306v.8M498 307.2v1.3M498.5 285.4v.8M498.5 286.9v.8M498.5 288.9v.8M499 286.8v.8M499 287.9v.8M499 289.8v.8M499 304.8v1.8M499 307v1.7M506.5 285.8v1.5M506.5 309.4v1.2M506.5 310.9v1.6M506.5 314v.9M506.5 315.8v.8M507 281.1v.8M507 305.7v1.5M507 307.5v2.2M507 311.8v.9M507.5 280.5v.8M507.5 286v1.2M507.5 288v.8M507.5 319.1v.8M508 287.4v2M508 289.5v1.9M508 308.2v3M508 311.4v.8M508.5 286v.8M508.5 309.4v.8M508.5 310.3v1.1M508.5 312.2v.8M509 288.6v.8M509 289.5v.8M509 309.1v.8M509.4 278.4v.8M509.4 285.1v.8M509.4 287.3v.8M509.4 307.4v1M509.4 310.2v.8M509.4 311.7v.8M509.9 280.9v.8M509.9 285.1v.8M509.9 286.8v4M509.9 311.1v1.5M510.4 283.9v.8M510.4 310.9v1.6M510.4 312.9v.9M510.9 307.3v.8M511.4 302v1.7M511.4 304v3.2M511.4 307.5v1.2M511.9 281.7v.8M511.9 283.6v.8M511.9 285v.8M511.9 306v.8M511.9 308.6v.8M512.4 274.9v.8M512.4 283.8v2.4M512.4 306.7v.8M512.9 282.1v1.7M512.9 284.6v1.2M512.9 304.3v2.2M512.9 310.3v.8M519.3 280.8v.9M519.3 285.2v.8M519.3 288.2v.8M519.3 289.4v.8M519.3 290.7v1M519.3 306.1v.8M519.3 307.3v1.7M519.3 312v.8M519.8 287.8v.9M519.8 307.5v1.6M519.8 310.4v.8M519.8 313.7v.8M520.3 282.9v.8M520.8 285.3v1.4M520.8 308.9v1.4M520.8 310.5v.8M521.4 285.1v.8M521.4 286.1v1M521.4 303.8v2.2M521.4 306.2v.8M521.4 311.2v.8M521.9 283.5v.8M521.9 302.5v3.5M521.9 306.5v.8M521.9 308.4v.8M522.4 283.3v.8M522.4 284.9v1.5M522.4 286.8v1.9M522.4 305.3v3M522.4 308.7v.8M522.4 309.7v1.4M522.4 317.9v.8M522.9 282.3v.8M522.9 286.2v.8M522.9 307.3v.8M522.9 309.2v.8M523.4 282.9v.8M523.4 306.7v2.3M523.9 285.6v.8M523.9 288.1v3.3M523.9 303.1v2.2M523.9 305.3v1.6M523.9 316.7v.8M530.5 283.2v.8M530.5 286v.8M530.5 289.3v1.3M530.5 310.9v.8M531 284.3v.9M531 286.6v.8M531 288v1.8M531 290.1v1.7M531 310.5v1.2M531 312.3v1.2M531 313.7v.8M531.6 287v.8M531.6 289.5v.8M531.6 290.7v.8M531.6 305.8v3.3M531.6 309.3v2.5M531.6 312.7v.8M532.1 280.8v.8M532.1 286.1v.8M532.1 287.4v.8M532.1 306.1v2.6M532.1 310.1v1.4M532.1 313.6v.8M532.1 316.1v.8M532.6 309.3v2.5M533.1 287.1v.8M533.1 289.7v.8M533.1 290.8v.8M533.1 305.4v.8M533.1 306.5v2.4M533.1 309.3v.8M533.1 310.6v.8M533.1 312.7v.8M533.6 288.7v1M533.6 290.7v1.8M533.6 306.7v1.8M533.6 308.8v.9M533.6 310.4v.8M533.6 312.4v.8M534.2 289.2v.8M534.2 290.4v1.6M534.2 304.9v1.4M534.2 307v1.5M534.2 313.1v.8M534.2 314.2v.8M534.2 316.8v.8M539.7 285.7v.8M539.7 286.9v1M539.7 304.4v4M539.7 308.5v.8M539.7 309.4v1.3M539.7 311.1v1.1M539.7 315.2v.8M539.7 316.8v.8M539.7 320.4v.8M540.2 282.1v.8M540.2 283.7v.8M540.2 286.3v.8M540.2 303.7v3.2M540.2 307.1v2.1M540.2 309.4v.8M540.2 312.5v.8M540.7 287.9v.8M540.7 308.1v1.4M541.2 285.8v.8M541.7 306.1v1.6M541.7 309.1v.8M541.7 312.9v1.6M541.7 316.5v1.1M542.2 287.1v.8M542.2 288.5v1.8M542.2 308.1v1.1M542.7 284.7v1.5M542.7 305.8v4.2M543.2 287.3v2.3M543.2 307.8v1.7M543.2 310.1v.8M543.7 275.7v.8M543.7 283.8v.8M543.7 287.4v.8M543.7 308.8v.8M543.7 310.4v1.2M548.7 285.2v.8M548.7 288.1v.9M548.7 289.2v4.8M548.7 310.2v1.7M549.2 280.3v.8M549.2 281.6v.8M549.2 286.6v1.7M549.2 289.8v.8M549.2 311.9v1.2M549.7 286.9v.8M549.7 309v1.9M549.7 311.1v.8M549.7 320.2v.8M550.2 287.8v.8M550.2 309.3v1.9M550.2 313.4v.8M550.7 283.9v.8M550.7 287.7v.8M550.7 309.6v1.3M550.7 312v.8M551.2 288.4v3.7M551.2 309.5v.9M551.2 310.9v.8M551.2 315.1v.8M551.2 318.2v.8M551.2 323.4v.8M551.7 284.8v.8M551.7 286.8v1.3M551.7 289.6v.8M552.2 283.3v.8M552.2 287.9v.8M552.2 304.4v2.9M552.2 308.3v.8M552.7 277.9v.8M552.7 286v.8M552.7 288.4v.8M552.7 290.6v.8M553.2 280.8v.8M553.2 283.4v1.6M553.2 288.4v1.1M553.2 305.8v.8M553.2 306.9v2.6M553.2 310.6v.8M567 278.9v.8M567 284.9v1.6M567 286.8v.8M567 288.2v.8M567 305.8v1.3M567.5 285.8v2.4M567.5 303.4v2.6M567.5 306.7v.8M567.5 308.1v.8M568 306.6v3M568 310.6v.8M568 313.2v.8M568.5 280v.8M568.5 282v.8M568.5 284v1.6M568.5 286.3v1M568.5 287.8v1.2M568.5 307.8v.8M569 280.5v.8M569 282.8v.8M569 283.8v.8M569 285.3v1M569 286.7v.8M569 287.7v1.1M569 311.3v.8M569 313.5v.8M569 314.7v.8M569.5 285v.8M569.5 288.1v.9M569.5 307.4v2.3M569.5 310.4v.8M570 307.7v.8M570 309v.8M570.5 287.5v.8M570.5 304.6v1M570.5 305.8v2.3M570.9 285.8v.8M570.9 287.4v.8M570.9 307.3v2.2M570.9 309.6v2.1M570.9 313.9v.8M571.4 277v.8M571.4 286.4v1.2M571.4 306.9v1.8M571.4 309.6v.8M571.4 311.5v1.1M571.4 315.3v.8M571.4 317.2v.8M571.9 289.8v.8M571.9 290.8v.8M571.9 305.8v2.5M571.9 308.4v.8M571.9 310.7v.8M572.4 287.7v.8M572.4 289.2v.8M572.4 305.1v2.5M572.4 311v1M572.4 318.1v.8M572.9 304.1v1.3M572.9 305.5v1.6M573.4 283.6v.8M573.4 288.4v2.8M573.9 283.3v.8M573.9 284.5v.8M573.9 306.1v1.3M573.9 311.7v.8M574.4 278.7v.8M574.4 284v1.7M574.4 287.3v.8M574.4 306.9v.8M574.9 285.8v.8M574.9 302.4v3.4M574.9 307.1v.8M575.4 281.1v.8M575.4 283v.8M575.4 287.3v1.6M575.4 289.2v.8M575.4 306.2v1.1M575.4 309v.8M575.9 287v.8M575.9 288.7v.8M575.9 289.8v.8M575.9 290.7v1.4M575.9 305.6v2.6M575.9 308.7v.8M575.9 314.2v.8M576.4 282.4v.8M576.4 289.9v2.1M576.4 304.6v2.5M576.4 307.2v.8M576.4 308.2v.8M576.9 288.6v1.5M576.9 306v1.6M576.9 309.3v.8M576.9 310.7v.8M576.9 312v.8M576.9 313.7v.9M576.9 316.7v.8M576.9 322.9v.8M577.4 284.7v.9M577.4 288.4v.8M577.4 290.3v1.8M577.4 292.3v.8M577.4 309.6v1.8M577.9 287.7v.8M577.9 289v.8M577.9 309.1v1.4M577.9 312.8v.8M577.9 315.8v.8M577.9 319.4v.8M577.9 321.4v.8M578.3 279.4v.8M578.3 285.9v.8M578.3 288.3v.8M578.3 289.2v1.4M578.3 291.2v1.8M590.6 284.1v1.2M590.6 287.8v.8M590.6 289.7v1.4M590.6 310.9v2.6M591.1 290.7v1.9M591.1 313.2v.8M591.1 314.2v1.4M591.1 316.8v1.2M591.1 318.6v.8M591.1 327.3v.8M591.6 290.2v.8M591.6 293.1v1.5M591.6 313.2v1.2M591.6 316.5v1.7M592.1 288.3v.8M592.1 290.4v1.2M592.1 291.9v1.8M592.1 294.2v.8M592.1 315.1v1.2M592.1 317.6v.8M592.1 319.9v.8M592.6 287.9v.8M592.6 289.9v1.5M592.6 293.3v3.5M592.6 314.3v1.4M593.1 294.3v.8M593.1 314.7v.8M593.6 292.3v.8M593.6 293.7v.8M593.6 294.6v.8M593.6 312.4v2.4M594.2 281.1v.8M594.2 285v.8M594.2 288.1v.8M594.2 291.1v2.5M594.2 293.9v1.8M594.2 310v.8M594.2 311v1.7M594.2 318v.8M594.2 321.1v.8M594.7 310.1v1.5M594.7 312v.8M594.7 316.2v.8M594.7 317.5v.8M595.2 289.5v.8M595.2 290.4v1.6M595.2 310v1.2M595.2 312.7v.8M595.7 307.6v.8M595.7 309.1v1M595.7 311.8v.8M595.7 313v.8M595.7 315v.8M595.7 316.5v1.4M595.7 326.2v.8M596.2 288.4v1.5M596.2 290.1v.8M596.2 291.3v1.4M596.2 306.6v2.8M596.2 309.8v.8M596.2 314.1v.8M596.7 286.2v2.5M596.7 288.9v.8M596.7 290.1v.8M596.7 310.8v.9M597.2 279.3v.8M597.2 284.6v.8M597.2 285.6v.8M597.2 286.9v.8M597.2 288v.8M597.2 289v2.1M597.2 291.5v.8M597.2 292.8v1.5M597.2 307.1v1.1M597.2 308.7v1.4M597.2 312v1.7M597.7 285.7v.8M597.7 290v.9M597.7 291v.8M597.7 305.8v1.9M597.7 308.1v.9M597.7 319.3v.8M598.2 287.9v.8M598.2 290.8v.8M598.2 305.4v3M598.2 310v1.3M598.7 288.1v.8M598.7 290.3v.8M598.7 306.9v1.2M598.7 309.7v.9M598.7 310.7v1.2M598.7 313.1v.8M599.3 285.2v.8M599.3 286.4v.8M599.3 288.9v.8M599.3 305.4v3.9M599.8 284.4v.8M599.8 288.6v1.3M599.8 290.3v1M600.3 289.5v.8M600.3 310v1.4M600.3 313.2v.8M600.3 315.4v.8M600.3 317.2v.8M600.8 288.4v1.5M600.8 291.6v.8M600.8 311.7v2.2M600.8 323.5v.8M601.3 291.7v.8M601.3 293.7v3M601.3 308.5v1.9M601.3 311.1v.8M601.3 313.2v.8M601.8 291.6v.8M601.8 312.7v1.7M601.8 317.5v.8M613.8 285.2v.8M613.8 287v.8M613.8 290.9v1.5M613.8 308.6v2.2M613.8 313.9v.8M614.3 290.3v1.1M614.3 309.6v1.5M614.3 311.6v.8M614.3 314.9v1.2M614.8 285.7v.8M614.8 287.4v.8M614.8 288.5v.9M614.8 290.3v1.2M614.8 291.7v.9M614.8 292.7v2.2M615.3 284.9v.8M615.3 288v2.1M615.3 290.6v.8M615.3 291.9v.8M615.3 308.6v1.1M615.3 310.2v1.9M615.3 321.5v.8M616.3 288v4.2M616.3 309v1.5M616.8 284.9v.8M616.8 286.5v.8M616.8 288.8v.8M616.8 289.8v2.4M617.3 288.7v.8M617.3 289.9v.8M617.3 307.7v1.6M617.3 314.7v.8M617.8 289.6v.8M618.3 285.8v.8M618.3 311.1v.8M618.7 286.3v.8M618.7 287.7v.8M618.7 288.7v1.7M618.7 290.7v.8M618.7 309v2.6M618.7 313.4v.8M618.7 329.5v.8M619.2 273.8v.8M619.2 284.3v1.6M619.2 289.6v1.7M619.2 309.4v.9M619.2 312.3v.8M619.2 318.1v.8M619.7 286.7v2.3M619.7 309.8v.8M619.7 312v.8M619.7 326.2v.8M620.2 290v.8M620.2 308v1M620.2 309.5v1M620.7 289.8v.8M620.7 309.5v1.7M620.7 315.1v.8M621.2 283v.8M621.2 285.3v.8M621.2 286.3v.8M621.2 307.5v.8M621.2 308.7v.9M621.7 282.6v1M621.7 286.6v.9M621.7 308.4v.8M622.2 282.9v.8M622.2 287.1v.8M622.2 303.7v4.4M622.2 308.6v.9M622.2 310.3v1.4M622.2 313.6v.8M622.2 315.4v.8M622.7 280.3v.8M622.7 287.1v1.5M622.7 307.4v.8M623.2 284.8v1.4M623.2 310.9v.8M623.7 282v.8M623.7 283.1v.8M623.7 285.1v1.4M623.7 286.7v.8M623.7 305.2v2.9M623.7 308.6v.8M624.2 282.8v2.5M624.2 285.5v.9M624.2 306.7v.8M624.2 309.5v.8M635.7 307.1v1.7M635.7 308.9v1.6M635.7 311.4v.8M636.2 289.1v1.5M636.2 305.9v2M636.2 308.1v2.6M636.2 313.9v.8M636.7 286.3v.8M636.7 308.7v1.2M636.7 312.1v.8M637.2 288v1.6M637.2 308.6v.8M637.2 310.6v1.3M637.2 316.3v.8M637.7 280.5v.8M637.7 286.7v1.9M637.7 309.9v.8M638.2 282v.8M638.2 283.6v.8M638.2 288.2v.8M638.2 305.7v.8M638.2 308.2v1.1M638.2 318.5v.8M638.7 286v.8M638.7 306.4v1.9M638.7 309.4v1.2M638.7 311.6v.8M639.2 282.6v.8M639.2 286.4v.9M639.2 306.5v.9M639.2 308v1.5M639.2 309.8v.8M639.2 311.5v.8M639.2 314v.8M639.7 279.5v.8M639.7 286.1v.9M639.7 287.7v1.3M639.7 289.3v.8M639.7 307.1v1.7M639.7 310v.8M640.2 281.7v.8M640.2 285.1v1.3M640.2 287.2v2.4M640.2 307.4v.8M640.2 309.5v1.9M640.6 279v.8M640.6 282.3v.8M640.6 283.6v1M640.6 284.7v.8M640.6 286.5v.8M640.6 307.8v.9M640.6 308.8v.8M640.6 310.1v.8M640.6 311.3v.8M641.1 281.5v.8M641.1 283.6v.8M641.1 285.3v1.8M641.1 305.6v1.5M641.1 308.4v.8M641.1 310.7v1M641.1 312v.8M641.1 317.1v.8M641.6 281.8v.8M641.6 305.7v1.2M641.6 307.5v1M641.6 314.7v.8M642.1 282.4v.8M642.1 307.3v1.4M642.1 309.8v.8M642.6 279v.8M642.6 280.6v.8M642.6 282.5v2.6M642.6 285.3v1.3M642.6 303.5v2.6M643.1 282.7v.8M643.1 304.8v.8M643.1 307.4v.8M643.6 280.3v.8M643.6 284.4v3.3M643.6 304v2M643.6 307.1v.8M643.6 308.4v.8M644.1 273.2v.8M644.1 278.7v.8M644.1 285v.8M644.1 286.7v.8M644.1 306.8v2.1M644.1 309.2v.8M644.1 310.9v1.4M644.1 316.6v.8M644.6 277v.8M644.6 282v1.5M644.6 283.8v1.5M644.6 286.5v2.5M644.6 308.3v1.2M644.6 311.4v.8M644.6 316.5v.8M645.1 287.9v2M645.1 290.3v1.2M645.1 307.5v.8" stroke="#1b2d5f" stroke-width="0.8" fill="none"/>
<path d="M402.3 305.7V288.7H402.8V287.6H403.3V282.1H403.8V284.5H404.3V287.1H404.9V287.3H405.4V287.2H405.9V278.5H406.4V284.7H406.9V283.8H407.5V284.6H408V290.3H408.5V291.4H409V283.7H409.5V277.3H410V284.6H410.6V287.4H411.1V281.3H411.6V290.8H412.1V289.9H412.6V310.1H412.1V306.6H411.6V312.1H411.1V312H410.6V312.9H410V317H409.5V315.9H409V319.6H408.5V310.8H408V311.7H407.5V308.8H406.9V309.8H406.4V308H405.9V321H405.4V305.2H404.9V306H404.3V305.7H403.8V307.8H403.3V309.8H402.8V305.7H402.3ZM422.8 305.2V285.7H423.4V288.4H423.9V283.5H424.4V288.4H424.9V288.9H425.4V277.4H425.9V288H426.5V289.6H427V278H427.5V278.1H428V289.5H428.5V279.7H429V291.7H429.5V290.2H430.1V289.5H430.6V289.2H431.1V286.4H431.6V310.3H431.1V306.7H430.6V306.2H430.1V312.3H429.5V307.3H429V306.8H428.5V310.5H428V311.1H427.5V309.8H427V309.8H426.5V314.1H425.9V319.5H425.4V309.7H424.9V312.6H424.4V308.5H423.9V313.6H423.4V305.2H422.8ZM439.5 306.1V288.5H440.1V287.3H440.6V290.3H441.1V290.9H441.6V290.9H442.1V291.5H442.6V291.1H443.2V287.6H443.7V293.5H444.2V288.8H444.7V286.7H445.2V291.2H445.8V290.7H446.3V289H446.8V288.7H447.3V284.6H447.8V312H447.3V308.5H446.8V315.2H446.3V310.6H445.8V308.9H445.2V312.3H444.7V317H444.2V311.6H443.7V312.6H443.2V313.1H442.6V307H442.1V309.2H441.6V309.7H441.1V305.7H440.6V308.3H440.1V306.1H439.5ZM455.9 311.3V290.8H456.4V283.7H456.9V290H457.4V288.8H457.9V289H458.4V287.6H459V288.2H459.5V291.2H460V282.4H460.5V292.9H461V287.2H461.5V291.2H462V291.2H462.5V290.7H463V285.7H463.5V291.6H464.1V310.1H463.5V318.9H463V308.2H462.5V309.9H462V308.9H461.5V318.7H461V311.9H460.5V311.9H460V311.6H459.5V307.4H459V307H458.4V314.2H457.9V306H457.4V305.3H456.9V316.1H456.4V311.3H455.9ZM471 306.7V286.4H471.5V289.4H472V285H472.5V290.1H473V284.8H473.5V283.9H474.1V289.3H474.6V277.3H475.1V285.9H475.6V286.2H476.1V284H476.6V288.5H477.1V286.8H477.6V303.5H477.1V312.5H476.6V307.8H476.1V311.8H475.6V309.7H475.1V313.7H474.6V310.9H474.1V313H473.5V309.9H473V312.8H472.5V303.7H472V308.4H471.5V306.7H471ZM483.6 311.7V291.6H484.1V290H484.6V289.6H485.1V284.1H485.6V290.9H486.1V285.5H486.7V283.9H487.2V291.6H487.7V291.4H488.2V291.1H488.7V289.6H489.2V290.7H489.7V286.4H490.2V285.6H490.7V286.4H491.2V288.4H491.7V288.8H492.2V290.7H492.7V280.2H493.3V289.8H493.8V288.3H494.3V279.3H494.8V290.2H495.3V287.8H495.8V289.4H496.3V290.6H496.8V276.1H497.3V290H497.8V290.7H498.3V288.6H498.8V290.2H499.3V308H498.8V310.1H498.3V310.9H497.8V308.5H497.3V318.1H496.8V304.7H496.3V304.6H495.8V305H495.3V306.1H494.8V318.4H494.3V320.9H493.8V312.3H493.3V308.8H492.7V313.6H492.2V312.7H491.7V319.8H491.2V309.8H490.7V316.6H490.2V307.5H489.7V317.9H489.2V307.3H488.7V311.6H488.2V312.7H487.7V308.6H487.2V315H486.7V317.9H486.1V312.9H485.6V308.4H485.1V314.8H484.6V310.3H484.1V311.7H483.6ZM506.1 316.6V286.8H506.7V274.1H507.2V283.6H507.7V286.4H508.2V288.1H508.7V290.7H509.2V280.9H509.7V281.2H510.2V286.1H510.7V284.1H511.2V282.2H511.7V284.7H512.2V285.9H512.7V285.8H513.2V304.9H512.7V307.5H512.2V307H511.7V314.9H511.2V312H510.7V308.5H510.2V313H509.7V308.3H509.2V309H508.7V310.4H508.2V314.5H507.7V314.7H507.2V306.4H506.7V316.6H506.1ZM518.9 313.5V286.9H519.5V289.3H520V281.4H520.5V283.4H521.1V285.7H521.6V285.8H522.1V282.5H522.7V286.2H523.2V285.3H523.8V289.9H524.3V315.9H523.8V309.1H523.2V306.4H522.7V310.7H522.1V303.9H521.6V304.5H521.1V307.7H520.5V310.8H520V311.5H519.5V313.5H518.9ZM530.1 316.2V290.3H530.7V289.9H531.2V287.8H531.8V291.6H532.3V287.9H532.9V291.9H533.4V291.8H534V291.5H534.5V306.1H534V310.6H533.4V308.1H532.9V309.3H532.3V309.7H531.8V306.4H531.2V312.8H530.7V316.2H530.1ZM539.4 305.2V286H539.9V287.2H540.4V289.5H540.9V276.4H541.5V290H542V280.1H542.5V287.7H543V285.5H543.6V285.4H544.1V311H543.6V311.7H543V308.2H542.5V309.7H542V310.8H541.5V309.2H540.9V319.3H540.4V306.4H539.9V305.2H539.4ZM548.3 314.3V286.9H548.8V278.8H549.4V287.1H549.9V290.4H550.4V287.9H550.9V291.7H551.5V282.6H552V285.6H552.5V283.9H553V277H553.6V311.7H553V310.5H552.5V306.1H552V312.3H551.5V307.7H550.9V310.5H550.4V309.1H549.9V309.3H549.4V316.3H548.8V314.3H548.3ZM566.6 305.8V288.9H567.1V275.5H567.6V285.5H568.1V285.2H568.7V284.5H569.2V288.7H569.7V288.5H570.2V284.1H570.7V288H571.2V277.4H571.7V288.7H572.2V288.9H572.7V287.3H573.2V287.6H573.7V284.8H574.2V287.4H574.7V286.7H575.2V289.6H575.7V290.9H576.2V291.4H576.7V290.6H577.2V280.3H577.7V289H578.2V286.9H578.7V312.2H578.2V309.5H577.7V311.9H577.2V312.4H576.7V306.4H576.2V318.2H575.7V306.9H575.2V305.9H574.7V307.2H574.2V308.7H573.7V306.9H573.2V304H572.7V307.6H572.2V318.4H571.7V307.5H571.2V312.1H570.7V307H570.2V307.5H569.7V311H569.2V310.5H568.7V312.9H568.1V310.4H567.6V305.2H567.1V305.8H566.6ZM590.2 323.3V286.4H590.7V282.4H591.2V291H591.8V293.8H592.3V292.5H592.8V292.8H593.3V295.9H593.8V293.4H594.4V286.4H594.9V290H595.4V290.2H595.9V291.4H596.5V291.5H597V281.4H597.5V290.2H598V289.6H598.5V285H599.1V280H599.6V290.2H600.1V289.5H600.6V292H601.1V291.1H601.7V292.8H602.2V314.8H601.7V308.5H601.1V324.3H600.6V314.7H600.1V319H599.6V308.3H599.1V306.6H598.5V306.5H598V306.7H597.5V310.4H597V314.9H596.5V310.6H595.9V313.2H595.4V310.1H594.9V310.9H594.4V310.2H593.8V312.1H593.3V312.3H592.8V316.3H592.3V316.2H591.8V313.8H591.2V315.3H590.7V323.3H590.2ZM613.5 308.8V291H614V285.3H614.5V294.9H615V289.1H615.5V288.8H616V288.6H616.5V292.4H617V284.1H617.5V288.7H618V289.9H618.5V289.8H619V279.3H619.5V288.7H620V292.2H620.5V287.3H621V276H621.5V287.9H622V286.8H622.5V282.9H623V287.7H623.5V286H624V286H624.5V307.6H624V312.1H623.5V307.8H623V306H622.5V312.6H622V310.4H621.5V308.2H621V313.4H620.5V309.3H620V319.5H619.5V308.9H619V321.1H618.5V311.7H618V311.4H617.5V307.5H617V311.4H616.5V309.8H616V314H615.5V316.2H615V309.2H614.5V312.1H614V308.8H613.5ZM635.4 308.4V285.3H635.9V291H636.4V289.9H636.9V288.3H637.4V282.9H637.9V288.2H638.4V287.3H638.9V287.4H639.4V287.3H639.9V287H640.4V284.3H640.9V286.7H641.4V280.2H641.9V272.1H642.4V283.1H642.9V277.7H643.4V287H643.9V275.1H644.4V286.5H644.9V289.2H645.4V289.4H645.9V310.2H645.4V311.7H644.9V312.3H644.4V304.4H643.9V311.6H643.4V317.1H642.9V307.6H642.4V319.2H641.9V306.5H641.4V309.9H640.9V309.9H640.4V311H639.9V314.9H639.4V306.3H638.9V306.7H638.4V307.9H637.9V310.9H637.4V315H636.9V317.7H636.4V318.6H635.9V308.4H635.4Z" fill="#1b2d5f"/>
<path d="M412.7 284.6v.8M412.7 286.9v5.5M412.7 307.4v.8M412.7 308.4v.9M413.2 282.9v1.4M413.2 284.7v.8M413.2 286.5v1M413.2 288v1M413.2 308v2.5M413.2 312.1v2.2M413.7 284.3v.8M413.7 287.2v.8M413.7 288.4v1.8M413.7 306.6v.8M413.7 307.5v1.6M413.7 309.9v1.2M413.7 311.3v2.2M413.7 321.2v.8M414.2 285.2v.8M414.2 289.9v.8M414.2 308.4v1.4M414.2 310.3v2M414.7 284v.8M414.7 286.8v1.6M414.7 289.4v.9M415.2 273.1v.8M415.2 287.8v.8M415.2 289.1v.8M415.2 290.7v.8M415.2 310.6v1M415.2 312.7v.8M415.2 314.2v.8M415.7 291.1v1.6M415.7 307.6v2.9M415.7 310.7v1M415.7 317.2v.8M416.2 287.5v.9M416.2 313.6v.8M416.2 317v1.5M416.7 288.9v1M416.7 290.7v.8M416.7 310.5v2.9M416.7 313.5v.8M416.7 314.4v1.1M416.7 317.3v.8M416.7 319.6v.8M417.2 287.2v1.1M417.2 288.5v.8M417.2 289.9v3.8M417.2 294v1.3M417.2 311.8v.8M417.7 285.6v.8M417.7 290.1v1.4M417.7 292v.8M417.7 310.3v1M418.2 290.9v1.8M418.2 310.7v.8M418.2 312.3v1.7M418.2 316.6v.8M418.7 308v1.8M418.7 310.4v1.5M419.7 284.9v.8M419.7 289.9v1.3M419.7 313.2v.8M420.2 285.4v.8M420.2 290.6v.8M420.2 293.2v.8M420.2 311.1v1.4M420.2 321.8v.8M420.2 326v.8M420.7 289.9v1M420.7 291v.8M420.7 310v2.6M421.2 287.4v.8M421.2 306.2v2.6M421.2 311.8v1.1M421.7 290.4v1.4M421.7 309v2M422.2 274v.8M422.2 286.8v.8M422.2 289v1.8M422.2 310.2v.8M422.2 313.4v.8M422.2 314.7v1.1M422.2 317.3v.8M422.7 280.8v.8M422.7 284.1v.8M422.7 286.7v1M422.7 288.6v2.7M422.7 307.1v1.9M422.7 309.3v1.6M422.7 311.3v.8M431.7 288v.8M431.7 289.6v2.2M431.7 310.8v2.2M431.7 314.5v.8M432.3 284.6v.8M432.3 288.4v.8M432.3 289.9v.8M432.3 292v.8M432.3 308.8v2.1M432.8 308.9v.9M432.8 311.9v.9M432.8 315.7v.8M432.8 320.4v.8M433.3 290.6v1.2M433.8 309.8v1M434.3 287.8v1.5M434.3 308.9v1M434.8 282.9v.8M434.8 287.5v.8M434.8 304.2v1.7M434.8 306.3v.8M434.8 307.7v1.4M434.8 310.7v.8M435.3 289.1v1.1M435.3 304.1v3.8M435.8 287.1v.8M435.8 303.4v2.4M435.8 306.5v.8M436.3 284.8v.8M436.3 289v.8M436.3 305.8v1.4M436.3 309.5v1.9M436.3 316.7v.8M436.8 304.9v1M436.8 306v1.8M436.8 308.6v1.6M436.8 310.2v.8M436.8 313.2v.8M437.4 308.1v.8M437.4 309.7v.8M437.4 310.9v.8M437.4 311.8v.8M437.9 284.2v.8M437.9 285.9v.8M437.9 288.8v.8M437.9 307.6v1.7M438.4 288v.8M438.4 289.1v1.5M438.4 306.3v1.5M438.4 308.1v.8M438.4 310v.8M438.9 286v2.7M438.9 306.8v1.7M438.9 309.7v1M438.9 311.6v1.1M439.4 286.6v.8M439.4 288.7v2.5M439.4 304.9v.8M439.4 305.9v3M439.4 312.5v.8M448 283.8v.8M448 286.1v.8M448 306.5v.8M448 307.6v.8M448.4 287.7v.9M448.4 288.9v1.3M448.4 302.4v2.8M448.4 306.3v1.1M448.4 307.8v.8M448.4 308.7v.8M448.9 282.3v.8M448.9 283.8v.8M448.9 284.8v.8M448.9 302.1v1.3M448.9 303.5v2.2M449.4 284.3v1.7M449.4 286.2v.8M449.4 305.8v.8M449.9 286.4v.8M449.9 287.7v.8M449.9 303v4.3M450.4 285.1v.9M450.4 287.9v.8M450.4 288.8v2.9M450.4 304.3v2.8M450.4 307.1v.8M450.4 308.6v.8M450.9 286.3v1.6M450.9 288.5v1.7M450.9 290.3v1M450.9 304.1v3.1M451.4 287.1v.8M451.4 304.3v1.3M451.4 305.6v.8M451.4 308.3v.8M451.4 309.9v.8M451.4 313.9v.8M451.4 324.7v.8M451.9 286.1v2.7M451.9 307.1v.8M451.9 308.3v.8M451.9 309.4v.8M451.9 312.7v.8M451.9 314.3v.8M452.4 285.2v1M452.4 288v3.3M452.4 303.8v2.8M452.4 308.2v.8M452.4 313.4v.8M452.8 269v.8M452.8 278v.8M452.8 283.1v.8M452.8 284.9v.8M452.8 285.8v.8M452.8 287.3v.8M452.8 288.9v1.5M452.8 303.2v3.1M453.3 280.7v.8M453.3 306.1v2.4M453.3 311.2v.8M453.8 283.4v.8M453.8 284.3v.8M453.8 285.3v1.2M453.8 289.3v1.3M453.8 303.9v2.3M453.8 306.9v1.5M453.8 320.1v.8M454.3 306.7v1.1M454.3 308v.8M454.8 287.8v1.5M455.3 287.5v.8M455.3 290.2v.8M455.3 305.1v2.3M455.3 307.7v.8M455.3 308.7v1.6M455.3 310.5v1.5M455.8 304.3v5.5M464.2 305.5v1.1M464.2 306.9v.8M464.7 284.4v.8M464.7 285.4v.8M464.7 286.9v.8M464.7 309.4v1.3M464.7 310.9v1.6M465.2 281.2v1.1M465.2 285.2v2.4M465.2 288.1v.8M465.2 306.8v1M465.7 277.7v.8M465.7 284.5v1M465.7 285.8v.8M465.7 286.8v1.5M465.7 288.3v.8M465.7 315.7v.8M466.2 285.4v.8M466.2 307.7v.8M466.2 310.8v.8M466.8 282.5v.8M466.8 285.2v.8M466.8 286.2v.8M467.3 283.6v2.7M467.3 287.7v1M467.3 304.2v2.1M467.3 306.8v1.7M467.3 309.4v.8M467.8 268.6v.8M467.8 272.5v.8M467.8 283.7v.8M467.8 286v.8M467.8 288.6v1.5M468.3 284v.8M468.3 288v3.7M468.3 307.9v1.2M468.8 287.6v1.6M468.8 289.9v.9M468.8 309.3v.8M469.3 289.3v.8M469.3 290.7v1.5M469.3 310.8v2.5M469.8 277.4v.8M469.8 286.9v.8M469.8 289v.8M470.3 286.1v1M470.3 288.7v.8M470.3 289.7v2.2M470.3 309.3v1.1M470.3 311.2v.8M470.3 313.4v.8M470.8 284.9v.8M470.8 289.3v1.6M470.8 309v3.4M477.8 286.1v.8M477.8 287.1v.8M477.8 288v1.1M477.8 290.8v2.3M477.8 293.2v.8M477.8 306.3v3.3M477.8 318.5v.8M477.8 323v.8M478.3 287.7v.8M478.3 290.6v.8M478.3 292v1.3M478.3 306.5v2.4M478.8 285.6v.8M478.8 291.1v2M478.8 307v1.9M478.8 309.1v.8M478.8 310.8v1.5M478.8 312.8v.8M478.8 313.9v.8M478.8 321.8v.8M479.3 290.1v.8M479.3 310.2v.9M479.3 314.1v.8M479.9 287v.9M479.9 288.6v1.4M479.9 291.5v.8M479.9 311.2v.8M479.9 312.7v.8M479.9 314.2v1.5M479.9 319.6v2.1M479.9 327.6v.8M480.4 288.7v.8M480.4 307v2.8M480.4 311.7v1.1M480.4 312.9v.8M480.9 288.1v.8M480.9 289.1v.8M480.9 290.3v1.8M480.9 292.4v1.5M480.9 310.4v.8M480.9 311.6v.8M481.4 288.2v3.2M481.4 311.2v.8M481.4 317.7v.8M481.9 283.1v.8M481.9 286.2v.8M481.9 288.2v1.9M482.4 286.8v3.5M482.4 290.7v.8M482.4 309.2v.8M483 285.2v1.9M483 311.9v.8M483.5 283.3v.8M483.5 286.1v1.5M483.5 306.4v.8M499.5 308.9v1.5M499.5 315.7v.8M500 307.3v1.1M500 308.7v.8M500 310.4v.8M500 311.5v.8M500.5 277.4v.8M500.5 282v.8M500.5 288.1v.8M500.5 307.3v1.3M500.5 309.2v1.2M501 283.9v1.2M501 285.5v.8M501 287.2v2.8M501 304v2M501 306.6v1.9M501 311.5v.8M501.5 286.9v.8M501.5 287.9v.8M501.5 305.9v1M501.5 308v.8M502 281.5v1.5M502 283v.8M502 306v1.3M502 308.5v1.8M502 312.2v.8M502.5 284.6v1.3M502.5 286.8v.8M502.5 288.2v.8M502.5 307.2v.8M502.5 308.3v1.1M502.5 312.2v.8M503 284.1v.8M503 287.9v.8M503 289v1.4M503 308.8v1.8M503 311.6v.8M503.5 288.1v.8M503.5 289v.8M503.5 307.2v1M503.5 308.6v.8M504 285.2v.8M504 288.5v.8M504 309.3v1.8M504.5 286.7v.8M504.5 308.4v2M504.5 311.5v.8M504.5 312.7v.8M504.5 314.8v.8M505 290.3v.8M505 306.1v1.2M505 307.4v2.2M505 309.8v1.3M505 312.9v.8M505 315.3v.8M505 317.4v.8M505 321.2v1M505.5 291.2v.8M505.5 310.9v.8M505.5 315.6v.8M506 290.1v2M506 305.2v4.3M513.3 288.8v.8M513.3 290.2v.8M513.3 291.1v1M513.3 308.5v2.4M513.3 311.8v.8M513.3 312.8v.8M513.3 314.3v1M513.8 288.7v.8M513.8 290.8v2M513.8 313.2v.8M514.3 287.6v1.6M514.3 307.3v2.4M514.3 312.7v.8M514.8 285.2v.8M514.8 288.7v.8M514.8 304.4v4.1M514.8 310v.8M515.3 284.8v.8M515.3 288.6v.8M515.3 306.6v2.5M515.3 312.1v.8M515.8 286.5v.8M515.8 307.1v2.5M515.8 309.7v1.4M516.3 286.9v.8M516.3 288.1v3.3M516.3 305.7v1.5M516.3 307.8v1.4M516.8 285.9v.8M516.8 287.1v.8M516.8 288.4v.8M516.8 304.2v1.5M516.8 306.4v1.4M517.3 286.8v1.7M517.3 306.1v.9M517.3 307.9v.8M517.3 315.8v.8M517.8 288v2.9M517.8 308v.9M517.8 309.1v1.5M517.8 314.7v.8M517.8 321.2v.8M518.3 285.1v.8M518.3 304.2v3.3M518.3 307.7v.8M518.3 309.2v.8M518.8 284.9v.8M518.8 286.6v.8M518.8 303.2v3.5M518.8 309.3v.8M524.4 284.7v.8M524.4 311.1v.8M524.4 315.3v.8M524.9 283.9v.8M524.9 285.9v.8M524.9 287v.8M524.9 291v.8M524.9 307v2.3M524.9 309.8v.8M524.9 313.3v.8M525.4 286.6v1.5M525.4 290v1.6M525.4 291.7v1.1M525.4 305.4v2.8M525.4 309.8v.8M526 267.7v.8M526 285.1v.8M526 286.8v1.4M526 290.8v1.5M526 308v1.4M526 311v1.6M526.5 285.1v1.5M526.5 288.7v.8M526.5 289.7v1.6M526.5 305.6v2.4M526.5 308.2v.8M527 287.5v.8M527 305v1.7M527 307.1v.8M527 308.2v1.8M527 310.2v.8M527 313v.8M527.5 303.7v2.4M527.5 306.8v.8M527.5 308.9v.8M528 286.6v.8M528 303.4v2.8M528 306.7v1.1M528.5 287v.8M528.5 306.8v1.4M528.5 309.7v.8M528.5 311.1v.8M529 285.5v.8M529 287.4v3.5M529 309.3v.8M529.5 284v1.7M529.5 287v1.1M529.5 288.2v1.3M530 286.1v.8M530 287.3v1.7M530 307.1v.8M534.7 285.9v.8M534.7 305v1.6M535.2 278.2v.8M535.2 284.3v.8M535.2 285.2v.8M535.2 286.2v1.6M535.2 302.8v5.5M535.7 283.7v.8M535.7 284.8v.8M535.7 287.3v2.2M535.7 303.4v1.3M535.7 305v1.5M535.7 306.7v.8M535.7 307.8v1.4M536.2 283.5v.8M536.2 288.3v.8M536.2 303.8v3.1M536.2 308.1v.8M536.2 309.7v.8M536.7 285.2v.8M536.7 287.7v.8M536.7 289.3v.8M536.7 306v.8M536.7 308.1v2.1M536.7 310.6v.8M536.7 311.7v.8M537.2 286.1v1.3M537.2 289.1v.8M537.2 290.3v.8M537.2 304.9v1.9M537.2 306.9v.8M537.2 308v.8M537.2 310.2v.8M537.7 289.3v1.4M537.7 306.4v1M537.7 307.5v1.7M537.7 309.3v.8M537.7 312.1v.8M538.2 286.8v1.7M538.2 288.8v2.1M538.2 304v1.7M538.2 306.5v.8M538.2 307.4v.8M538.7 275.5v.8M538.7 283.5v.8M538.7 284.9v.8M538.7 305.5v1.7M538.7 308.5v.8M539.2 303.5v3.3M539.2 307.5v1.5M539.2 311.5v.8M544.2 271.7v.8M544.2 273.9v.8M544.2 279v.8M544.2 286.5v2.8M544.2 289.5v1.7M544.2 306.2v.8M544.2 307.8v.8M544.7 278.2v.8M544.7 280.8v.8M544.7 285.1v.8M544.7 304.1v3.9M545.2 283.2v.8M545.2 284.5v.8M545.2 286.1v1.2M545.2 287.6v1.4M545.7 287.5v.9M545.7 305.1v3M545.7 308.2v1.3M545.7 310.2v.8M546.2 284.9v.8M546.2 288.9v2.3M546.2 305.3v3.3M546.2 309v.8M546.7 283.3v.8M546.7 286.9v.8M546.7 287.9v.8M546.7 289.6v.8M546.7 291.1v2.2M546.7 306.8v1.4M546.7 308.5v1.3M547.2 287.7v1.6M547.2 308.5v.9M547.2 309.8v.8M547.7 289.8v.8M547.7 308.7v1M547.7 310.5v.8M547.7 312.7v.8M548.2 279.5v.8M548.2 285.2v1.5M548.2 287v.8M548.2 288v1.3M548.2 289.3v1.3M548.2 310.8v.8M548.2 314v.8M548.2 320.8v.8M553.7 283.6v.8M553.7 284.9v.8M553.7 287.5v.8M553.7 288.7v.8M553.7 304.9v2.6M553.7 309.6v1.9M554.2 282.8v.8M554.2 288.6v.8M554.2 307.1v.8M554.2 308.2v2.6M554.2 313.1v.8M554.2 314.2v1.7M554.7 306v3.3M554.7 309.8v.8M554.7 314.5v.8M554.7 318.6v.8M555.2 273.2v.8M555.2 287.7v.8M555.2 289.2v1.8M555.2 310.2v1.7M555.2 312v.8M555.2 314.2v1.8M555.2 320.1v.8M555.2 327.8v.8M555.7 310v.8M555.7 313.9v.8M555.7 317v.8M555.7 324.5v.8M556.2 286.7v.8M556.2 311.6v.8M556.2 315.3v.8M556.2 317.7v.8M556.6 280.8v.8M556.6 286.1v.8M556.6 290.5v.9M556.6 308v1.2M556.6 309.5v.8M556.6 311v.8M556.6 314.2v.8M556.6 315.2v.8M557.1 285v.8M557.1 286.6v.8M557.1 288.6v.8M557.1 305.4v1.8M557.1 307.4v2.9M557.1 310.6v.9M557.1 313.5v.8M557.1 318.9v.8M557.1 320.7v.8M557.6 281.8v.8M557.6 286.1v.8M557.6 287.3v.8M557.6 313.3v1.4M557.6 314.8v.8M558.1 308.3v1.4M558.6 273.2v.8M558.6 290.2v1.4M558.6 308.5v2.1M558.6 312.7v.8M559.1 291.6v2.3M559.1 307.9v2.7M559.1 311.1v.8M559.6 288.6v.8M559.6 292.1v.8M559.6 310.2v1.4M560.1 291.8v.8M560.1 292.7v2.6M560.1 311.6v1.2M560.1 313.9v.8M560.1 315v.8M560.6 280v.8M560.6 287.9v.8M560.6 288.9v.9M560.6 290.3v2.1M560.6 310.1v.8M561.1 287.1v.8M561.1 289.6v1.6M561.1 309.7v.8M561.6 288.9v2.9M561.6 304.8v3.6M561.6 309v.8M562.1 281.7v.9M562.1 283.8v.8M562.1 289.3v.8M562.1 290.3v2M562.1 307.9v1.4M562.1 310.7v.8M562.6 287v1.3M562.6 289.2v.8M562.6 305.7v1.2M562.6 307.5v.8M563.1 284.4v.8M563.1 287.1v2M563.1 310.5v.8M563.6 305.8v1.8M563.6 308.5v.9M564 284.8v1.5M564 287.8v.8M564 310.6v.8M564.5 289.2v1.4M564.5 308v.8M565 286.7v.8M565 304.7v2.8M565 308.6v.8M565 310.1v1.2M565 312.1v.8M565 313.3v.8M565.5 267.3v.8M565.5 281.6v.8M565.5 283.2v.8M565.5 312.1v.8M566 287.3v.8M566 288.3v2.3M566 308.6v.8M566 309.6v1.6M566.5 286v.8M566.5 306.3v3.3M578.8 285.1v.8M578.8 288.3v.9M578.8 289.5v.8M578.8 303.9v3.1M579.4 287.9v.9M579.4 289.3v.8M579.4 307v.8M579.4 310.9v.8M579.4 316.8v.8M579.9 285.2v.9M579.9 287.2v.9M579.9 288.3v.8M579.9 311v.8M580.4 268.7v.8M580.4 270.3v.8M580.4 273.8v.8M580.4 284.6v.8M580.4 286.9v.8M580.4 288.4v1.6M580.4 306.1v1.4M580.4 308.7v.8M580.9 283.6v.8M580.9 285.2v.8M580.9 286.9v1.5M580.9 306.7v.8M580.9 308v.8M581.4 285.4v.8M581.4 287v.9M581.4 305.9v.8M581.4 307.8v.8M581.9 283.3v.8M581.9 284.6v.8M581.9 303.2v3.9M581.9 307.5v.8M582.4 287.2v4.2M582.4 304v1.8M582.4 306.3v2.1M582.4 308.4v.8M582.4 309.4v.8M582.9 282.9v.8M582.9 285.4v2.5M582.9 289v.8M582.9 290.2v.8M582.9 306.4v2M582.9 309.8v.8M582.9 314.2v.9M582.9 323.6v.8M583.4 288.4v.8M583.4 304.1v2.8M583.4 307.8v.8M583.4 308.8v.8M583.9 287.3v.8M583.9 288.4v.8M583.9 307.6v1.6M584.5 289.7v2M584.5 308.5v.8M584.5 311.8v.8M585 282.6v.8M585 286.9v.8M585 290.1v.9M585 308.6v1M585 312.3v.8M585 319.5v.8M585.5 281.5v.8M585.5 289v1.9M585.5 307.5v1.2M585.5 308.9v.8M585.5 311.1v.8M586 281.8v.8M586 284.4v2.1M586 289.9v.8M586 306.7v2.3M586.5 287v.9M586.5 288.4v.8M586.5 289.9v.8M586.5 291.2v.8M586.5 312.7v.8M587 305v.8M587 305.9v2.2M587 308.9v.8M587 310.7v.8M587.5 288.6v1.4M587.5 304.5v1.1M587.5 306.1v1.8M587.5 310.5v.8M588 288.3v1M588 304v2.4M588 307.4v.8M588.5 280.6v.8M588.5 285v.8M588.5 286.2v2.7M588.5 303.9v1.2M588.5 305.3v.8M588.5 308.5v1.4M588.5 311.9v1M589 286.3v1M589 306.4v1.1M589.6 282.4v.8M589.6 286.1v1.4M589.6 288.8v1.3M589.6 306.4v3.1M589.6 311.1v.8M590.1 285.8v.8M590.1 287.2v2.4M590.1 309.1v.8M590.1 311.9v.8M590.1 314.1v.8M602.3 284.8v.8M602.3 285.9v1.7M602.3 302.6v3.6M602.3 306.8v1.1M602.3 308v.8M602.3 309.8v.8M602.3 315.1v.8M602.8 279.7v.8M602.8 286.1v.9M602.8 306.4v1M603.3 281.3v.8M603.8 288.7v1.9M603.8 306.6v.8M604.3 285.9v.8M604.3 302.9v2.4M604.3 307.4v.8M604.3 308.3v.8M604.8 285.4v.8M604.8 286.8v.8M604.8 309.8v.8M605.3 309.8v.8M605.8 282.7v.8M605.8 285.7v.8M605.8 304.8v2.7M605.8 308v.9M605.8 309v1.7M605.8 319.3v.8M606.3 285v1.7M606.3 288.9v1.4M606.3 310.1v.8M606.3 312.7v.8M606.8 287.5v.8M606.8 291.1v.8M606.8 307v2.7M606.8 310.3v.8M606.8 314v.8M606.8 315.7v.8M607.3 289.1v.8M607.3 290.4v.8M607.3 311.5v.8M607.8 283.3v.8M607.8 286.2v.8M607.8 287.3v.8M607.8 288.4v1.4M607.8 290.2v.8M607.8 309.8v.8M607.8 310.9v1.5M607.8 313.3v.8M608.3 285.8v.8M608.3 287v.9M608.3 288.8v1.6M608.3 290.5v1.4M608.3 309.3v1.3M608.3 313.3v1M608.8 290v2.6M608.8 308.7v1.7M608.8 312.9v.8M608.8 316.9v.8M609.3 288.8v1.6M609.3 311.2v1.1M609.8 274.7v.8M609.8 287.4v.8M609.8 288.6v.8M609.8 290.2v.8M609.8 309.5v1.5M609.8 311.8v.8M609.8 316.3v.8M610.3 287.5v1.6M610.3 306.9v2M610.3 310.2v.8M610.3 312v.8M610.8 282.1v.8M610.8 288v.8M610.8 289.3v1.6M610.8 291.5v1.6M610.8 313.8v.8M611.3 278v.8M611.3 284.4v.8M611.3 287.5v2.4M611.3 290.2v.8M611.3 304.9v1.8M611.3 309.5v.9M611.3 312.2v.8M611.3 313.1v.8M611.3 316v.8M611.8 288.4v.8M611.8 289.7v2M611.8 307.7v1.1M611.8 310.3v.8M612.3 282.2v.8M612.3 289.5v.8M612.3 304.6v4M612.8 288v.8M612.8 290v1.4M612.8 304.8v2.5M612.8 308v1.3M612.8 309.5v.8M613.3 286.5v.8M613.3 309.4v1.2M613.3 313.7v.8M613.3 317.4v.8M624.7 288.4v1.5M624.7 290v.8M624.7 306.8v1.5M624.7 308.4v.9M624.7 309.4v.8M624.7 310.9v.8M624.7 312.2v.8M625.2 288.1v.8M625.2 289.1v2.3M625.2 308.8v.8M625.7 281.7v.8M625.7 282.7v.8M625.7 287.5v.8M625.7 288.5v1.9M625.7 310.2v.8M626.2 282.3v.8M626.2 283.8v.8M626.2 285.3v.8M626.2 286.7v1.5M626.2 289.6v1.3M626.2 305.3v1.5M626.2 311v.8M626.2 315v.8M626.2 317.7v.8M626.2 320.1v1.1M626.7 305.5v2.4M626.7 309.5v.8M627.2 282.8v.8M627.2 283.9v2.1M627.2 287.2v.8M627.2 289.3v1.4M627.2 305v1.9M627.7 303.3v2.1M627.7 305.5v1.7M627.7 308.7v.8M628.2 284.7v.8M628.2 305v1M628.2 306.3v1.7M628.2 308.1v.8M628.2 309.1v.8M628.2 310.1v.9M628.2 315.7v.8M628.2 318.1v.8M628.7 281.6v.8M628.7 283.7v.8M628.7 285.8v1.9M628.7 306.5v2.3M628.7 309.6v1.4M629.2 278.3v.8M629.2 281.6v.8M629.2 284.9v3.3M629.2 309.3v.8M629.2 320.9v.8M629.7 284.4v.8M629.7 307.7v.8M629.7 309.7v1M629.7 316.2v.8M629.7 319.9v.8M630.2 282.4v.8M630.2 283.8v1.3M630.2 306.1v2.9M630.2 309.8v.8M630.7 285.8v2.6M630.7 307.9v.8M630.7 310.5v1.8M630.7 313.7v.8M630.7 326v.8M631.2 304.8v1.5M631.2 306.6v.8M631.2 308.7v1.5M631.2 316.1v.8M631.7 279v.8M631.7 285.7v.8M631.7 287.6v.9M631.7 288.9v.8M631.7 303.9v2.1M631.7 306.1v1.5M631.7 308.7v.8M631.7 311.2v.8M632.2 288.8v.8M632.2 304.4v.8M632.2 305.4v1.7M632.2 307.6v2.2M632.7 283.5v.8M632.7 286.9v.8M632.7 288v.8M632.7 305.4v3.8M632.7 316.1v.8M632.7 317.7v.8M633.2 283.8v.8M633.2 285v1.5M633.2 287.3v2.1M633.2 306.3v1.7M633.2 308.1v.8M633.2 310.3v1.7M633.7 286.2v.8M633.7 305.9v1.6M633.7 307.9v.8M633.7 309.3v1.3M633.7 314.9v.8M634.2 283.2v.8M634.2 284.3v.8M634.2 287v1.6M634.2 306.1v.8M634.2 307.5v.8M634.7 287.1v.8M634.7 288.1v.8M634.7 307v.8M634.7 311v.8M635.2 303.9v1.6M635.2 305.7v1.2M635.2 307v1.5" stroke="#4696be" stroke-width="0.8" fill="none"/>
<path d="M412.4 307.8V291.4H412.9V288.4H413.4V289.3H413.9V290.5H414.4V290H414.9V290.7H415.4V290.6H415.9V285.6H416.5V287.2H417V292.9H417.5V292.6H418V286.8H418.5V293.5H419V293.2H419.5V290.8H420V290.3H420.5V288.8H421V291H421.6V291.6H422.1V285.2H422.6V285H423.1V311.8H422.6V314.5H422.1V309.5H421.6V307H421V310.3H420.5V321.9H420V318.8H419.5V319.9H419V311.2H418.5V312.4H418V312.9H417.5V310.7H417V320.7H416.5V316.6H415.9V308.2H415.4V313.6H414.9V315.8H414.4V320.2H413.9V312.7H413.4V310.8H412.9V307.8H412.4ZM431.4 312.6V291.7H431.9V285.5H432.4V291H432.9V290H433.5V288.8H434V286.2H434.5V280.9H435V288.1H435.6V288.2H436.1V287.8H436.6V287.7H437.1V287.3H437.7V291.5H438.2V291.7H438.7V288.5H439.2V288.2H439.8V304.4H439.2V307.9H438.7V309.7H438.2V309H437.7V309.9H437.1V305.9H436.6V310.6H436.1V306.1H435.6V303.8H435V303.9H434.5V309.8H434V310.8H433.5V309.7H432.9V320.4H432.4V312.3H431.9V312.6H431.4ZM447.6 316.8V286.6H448.1V284.9H448.6V285.2H449.1V286.3H449.6V288.9H450.1V285.3H450.6V290.5H451.1V287.1H451.6V290.3H452.1V290.4H452.6V283.2H453.1V274.7H453.6V289.6H454.1V287.6H454.6V278.1H455.1V289H455.6V290.4H456.1V306.1H455.6V308.9H455.1V308.4H454.6V307.7H454.1V316.6H453.6V317.9H453.1V303.4H452.6V313.7H452.1V306.9H451.6V305.7H451.1V306H450.6V312.8H450.1V303H449.6V306.6H449.1V314.8H448.6V302H448.1V316.8H447.6ZM463.8 314.6V286.2H464.3V282.2H464.9V286.4H465.4V288.1H465.9V285.6H466.5V286.2H467V282.7H467.5V277.3H468V284.1H468.6V286.5H469.1V287.5H469.6V289.6H470.2V290.5H470.7V288.6H471.2V311H470.7V312H470.2V310.3H469.6V310.9H469.1V310H468.6V310.2H468V309.1H467.5V304.1H467V310.8H466.5V309.8H465.9V312.7H465.4V307.8H464.9V311.8H464.3V314.6H463.8ZM477.4 307.8V293.5H477.9V289.9H478.5V289.6H479V291.1H479.6V291.6H480.1V289.1H480.6V292.5H481.2V285.9H481.7V290H482.2V288.2H482.8V285.1H483.3V284.5H483.8V312.3H483.3V306.9H482.8V319.2H482.2V311.7H481.7V319.3H481.2V309.9H480.6V309.6H480.1V315.7H479.6V310.2H479V309.7H478.5V307.1H477.9V307.8H477.4ZM499.1 312.3V290.6H499.6V290.7H500.1V288.7H500.7V289.1H501.2V288.6H501.7V273.6H502.2V279.8H502.7V284.2H503.3V286.6H503.8V281.2H504.3V278.8H504.8V286.1H505.3V291.8H505.9V291.9H506.4V306.5H505.9V311.2H505.3V311.6H504.8V311.7H504.3V309.7H503.8V307.1H503.3V315.8H502.7V309.4H502.2V306.1H501.7V308.1H501.2V307.3H500.7V308.1H500.1V308.7H499.6V312.3H499.1ZM513 308.2V287.3H513.5V289.3H514V290.2H514.5V282.5H515V288H515.6V288.7H516.1V291.7H516.6V287.9H517.1V282.4H517.6V284.8H518.1V288.5H518.6V288.4H519.2V305H518.6V306.5H518.1V307.4H517.6V316.3H517.1V304.3H516.6V314.9H516.1V308.8H515.6V306.9H515V304.5H514.5V309H514V311.8H513.5V308.2H513ZM524.1 318.6V283.7H524.6V291.2H525.1V287.8H525.6V286.4H526.2V285.4H526.7V287.3H527.2V289.1H527.8V284.3H528.3V286.9H528.8V286.8H529.3V283H529.9V288.6H530.4V309H529.9V309H529.3V307.9H528.8V310.5H528.3V307H527.8V304.3H527.2V317.9H526.7V306H526.2V308.1H525.6V306.6H525.1V309.8H524.6V318.6H524.1ZM534.3 306.3V282.8H534.8V285.7H535.4V289.9H535.9V282.8H536.4V289.6H537V290H537.5V283.4H538V288.5H538.6V285.9H539.1V288.1H539.6V304.4H539.1V310.7H538.6V305.4H538V313.4H537.5V305.2H537V305.8H536.4V305.6H535.9V307.4H535.4V303H534.8V306.3H534.3ZM543.8 307V287.9H544.4V286.6H544.9V289.1H545.4V289.5H545.9V290.9H546.5V292.7H547V289H547.5V288.6H548V290.2H548.6V313.9H548V309H547.5V312H547V311.3H546.5V314.5H545.9V316.1H545.4V318.1H544.9V308.6H544.4V307H543.8ZM553.3 311.2V276.7H553.8V277.9H554.3V290.8H554.8V289H555.3V288.8H555.8V289.3H556.3V290.6H556.8V288.1H557.3V285.7H557.8V291H558.3V285.7H558.8V293.8H559.3V283.5H559.8V289.6H560.4V291.9H560.9V288.9H561.4V291.6H561.9V281.4H562.4V287.5H562.9V285.8H563.4V287.5H563.9V283.7H564.4V290.1H564.9V284.4H565.4V285.8H565.9V290.7H566.4V286.8H566.9V308.1H566.4V311.8H565.9V312.5H565.4V312.6H564.9V308.1H564.4V307.8H563.9V308.6H563.4V308.8H562.9V305.8H562.4V308.4H561.9V305H561.4V310.4H560.9V312.2H560.4V312.4H559.8V311.6H559.3V308.7H558.8V308.9H558.3V310.9H557.8V310.7H557.3V309.1H556.8V310.1H556.3V311.1H555.8V313.3H555.3V313.4H554.8V308.8H554.3V310.2H553.8V311.2H553.3ZM578.5 305.6V285.1H579V289.3H579.5V287.9H580V287.7H580.6V283.4H581.1V287.9H581.6V285.5H582.1V290.9H582.6V283.2H583.2V289.6H583.7V289.4H584.2V290.4H584.7V289.7H585.2V291.6H585.8V280.9H586.3V288.7H586.8V287.3H587.3V288H587.8V285H588.4V289H588.9V278.6H589.4V289.1H589.9V288.9H590.4V321.1H589.9V308.4H589.4V308.9H588.9V316.5H588.4V316.8H587.8V308.6H587.3V307.4H586.8V308.8H586.3V306.8H585.8V309.8H585.2V320.7H584.7V309.1H584.2V308.1H583.7V304.6H583.2V307.8H582.6V304.6H582.1V303.1H581.6V309.3H581.1V307H580.6V305.7H580V319.5H579.5V310.1H579V305.6H578.5ZM601.9 304.3V288H602.5V284.7H603V286.9H603.5V287H604V286.2H604.5V287.6H605V286.1H605.5V285.6H606V291.4H606.5V288.4H607.1V290.9H607.6V281H608.1V283.9H608.6V292.4H609.1V282.8H609.6V290H610.1V287.8H610.6V280.3H611.1V285.4H611.7V288.7H612.2V289.8H612.7V289H613.2V287H613.7V310.6H613.2V306.2H612.7V310.5H612.2V308.9H611.7V306.6H611.1V317.2H610.6V313.5H610.1V310.3H609.6V316.8H609.1V314.5H608.6V311.3H608.1V311.4H607.6V314H607.1V314.9H606.5V317.4H606V306.4H605.5V314.7H605V315.7H604.5V304.9H604V307.9H603.5V312.6H603V305.1H602.5V304.3H601.9ZM624.3 309.3V290.7H624.8V290.2H625.3V290.3H625.8V290.3H626.3V287.5H626.9V290.5H627.4V288.4H627.9V288.9H628.4V287.4H628.9V285.8H629.4V279.1H629.9V284.9H630.5V283.7H631V286.6H631.5V289.1H632V286.4H632.5V287.5H633V289.3H633.5V285.8H634.1V290.4H634.6V284.4H635.1V286.7H635.6V306.7H635.1V307.3H634.6V306.3H634.1V305.6H633.5V309H633V318H632.5V305.4H632V304.3H631.5V310.7H631V308.7H630.5V308.2H629.9V306.4H629.4V321.3H628.9V306.8H628.4V315.8H627.9V303.1H627.4V314.4H626.9V308.2H626.3V306.5H625.8V312.2H625.3V310.4H624.8V309.3H624.3Z" fill="#4696be"/>
<path d="M402 27.9V94.3H645.8M402 105.2V171.6H645.8M402 189.7V256.3H645.8M402 266.0V333.0H645.8" stroke="#808080" stroke-width="0.45" fill="none"/>
<g font-size="2.6" fill="#4a4a4a"><text x="399.3" y="90.25" text-anchor="end">0.0</text><text x="399.3" y="76.35" text-anchor="end">0.2</text><text x="399.3" y="62.45" text-anchor="end">0.4</text><text x="399.3" y="48.55" text-anchor="end">0.6</text><text x="399.3" y="34.65" text-anchor="end">0.8</text><text x="410.1" y="100.0" text-anchor="middle">1</text><text x="424.6" y="100.0" text-anchor="middle">2</text><text x="437.1" y="100.0" text-anchor="middle">3</text><text x="448.9" y="100.0" text-anchor="middle">4</text><text x="460.6" y="100.0" text-anchor="middle">5</text><text x="472.3" y="100.0" text-anchor="middle">6</text><text x="483.5" y="100.0" text-anchor="middle">7</text><text x="494.4" y="100.0" text-anchor="middle">8</text><text x="505.1" y="100.0" text-anchor="middle">9</text><text x="515.3" y="100.0" text-anchor="middle">10</text><text x="525.6" y="100.0" text-anchor="middle">11</text><text x="535.1" y="100.0" text-anchor="middle">12</text><text x="543.4" y="100.0" text-anchor="middle">13</text><text x="551.5" y="100.0" text-anchor="middle">14</text><text x="559.7" y="100.0" text-anchor="middle">15</text><text x="567.8" y="100.0" text-anchor="middle">16</text><text x="575.4" y="100.0" text-anchor="middle">17</text><text x="582.2" y="100.0" text-anchor="middle">18</text><text x="588.5" y="100.0" text-anchor="middle">19</text><text x="595.1" y="100.0" text-anchor="middle">20</text><text x="602.0" y="100.0" text-anchor="middle">21</text><text x="608.4" y="100.0" text-anchor="middle">22</text><text x="614.0" y="100.0" text-anchor="middle">23</text><text x="619.6" y="100.0" text-anchor="middle">24</text><text x="624.7" y="100.0" text-anchor="middle">25</text><text x="629.3" y="100.0" text-anchor="middle">26</text><text x="634.1" y="100.0" text-anchor="middle">27</text><text x="638.6" y="100.0" text-anchor="middle">28</text><text x="643.3" y="100.0" text-anchor="middle">29</text><text x="399.3" y="117.75" text-anchor="end">4</text><text x="399.3" y="131.15" text-anchor="end">2</text><text x="399.3" y="144.55" text-anchor="end">0</text><text x="399.3" y="157.95" text-anchor="end">-2</text><text x="399.3" y="171.35" text-anchor="end">-4</text><text x="410.1" y="177.3" text-anchor="middle">1</text><text x="424.6" y="177.3" text-anchor="middle">2</text><text x="437.1" y="177.3" text-anchor="middle">3</text><text x="448.9" y="177.3" text-anchor="middle">4</text><text x="460.6" y="177.3" text-anchor="middle">5</text><text x="472.3" y="177.3" text-anchor="middle">6</text><text x="483.5" y="177.3" text-anchor="middle">7</text><text x="494.4" y="177.3" text-anchor="middle">8</text><text x="505.1" y="177.3" text-anchor="middle">9</text><text x="515.3" y="177.3" text-anchor="middle">10</text><text x="525.6" y="177.3" text-anchor="middle">11</text><text x="535.1" y="177.3" text-anchor="middle">12</text><text x="543.4" y="177.3" text-anchor="middle">13</text><text x="551.5" y="177.3" text-anchor="middle">14</text><text x="559.7" y="177.3" text-anchor="middle">15</text><text x="567.8" y="177.3" text-anchor="middle">16</text><text x="575.4" y="177.3" text-anchor="middle">17</text><text x="582.2" y="177.3" text-anchor="middle">18</text><text x="588.5" y="177.3" text-anchor="middle">19</text><text x="595.1" y="177.3" text-anchor="middle">20</text><text x="602.0" y="177.3" text-anchor="middle">21</text><text x="608.4" y="177.3" text-anchor="middle">22</text><text x="614.0" y="177.3" text-anchor="middle">23</text><text x="619.6" y="177.3" text-anchor="middle">24</text><text x="624.7" y="177.3" text-anchor="middle">25</text><text x="629.3" y="177.3" text-anchor="middle">26</text><text x="634.1" y="177.3" text-anchor="middle">27</text><text x="638.6" y="177.3" text-anchor="middle">28</text><text x="643.3" y="177.3" text-anchor="middle">29</text><text x="399.3" y="191.85" text-anchor="end">500</text><text x="399.3" y="204.45" text-anchor="end">400</text><text x="399.3" y="216.95" text-anchor="end">300</text><text x="399.3" y="229.55" text-anchor="end">200</text><text x="399.3" y="242.05" text-anchor="end">100</text><text x="399.3" y="254.65" text-anchor="end">0</text><text x="410.1" y="262.0" text-anchor="middle">1</text><text x="424.6" y="262.0" text-anchor="middle">2</text><text x="437.1" y="262.0" text-anchor="middle">3</text><text x="448.9" y="262.0" text-anchor="middle">4</text><text x="460.6" y="262.0" text-anchor="middle">5</text><text x="472.3" y="262.0" text-anchor="middle">6</text><text x="483.5" y="262.0" text-anchor="middle">7</text><text x="494.4" y="262.0" text-anchor="middle">8</text><text x="505.1" y="262.0" text-anchor="middle">9</text><text x="515.3" y="262.0" text-anchor="middle">10</text><text x="525.6" y="262.0" text-anchor="middle">11</text><text x="535.1" y="262.0" text-anchor="middle">12</text><text x="543.4" y="262.0" text-anchor="middle">13</text><text x="551.5" y="262.0" text-anchor="middle">14</text><text x="559.7" y="262.0" text-anchor="middle">15</text><text x="567.8" y="262.0" text-anchor="middle">16</text><text x="575.4" y="262.0" text-anchor="middle">17</text><text x="582.2" y="262.0" text-anchor="middle">18</text><text x="588.5" y="262.0" text-anchor="middle">19</text><text x="595.1" y="262.0" text-anchor="middle">20</text><text x="602.0" y="262.0" text-anchor="middle">21</text><text x="608.4" y="262.0" text-anchor="middle">22</text><text x="614.0" y="262.0" text-anchor="middle">23</text><text x="619.6" y="262.0" text-anchor="middle">24</text><text x="624.7" y="262.0" text-anchor="middle">25</text><text x="629.3" y="262.0" text-anchor="middle">26</text><text x="634.1" y="262.0" text-anchor="middle">27</text><text x="638.6" y="262.0" text-anchor="middle">28</text><text x="643.3" y="262.0" text-anchor="middle">29</text><text x="399.3" y="274.85" text-anchor="end">4</text><text x="399.3" y="287.55" text-anchor="end">2</text><text x="399.3" y="300.25" text-anchor="end">0</text><text x="399.3" y="312.95" text-anchor="end">-2</text><text x="399.3" y="325.65" text-anchor="end">-4</text><text x="407.5" y="338.0" text-anchor="middle">10</text><text x="417.7" y="338.0" text-anchor="middle">11</text><text x="427.2" y="338.0" text-anchor="middle">12</text><text x="435.6" y="338.0" text-anchor="middle">13</text><text x="443.7" y="338.0" text-anchor="middle">14</text><text x="451.9" y="338.0" text-anchor="middle">15</text><text x="460.0" y="338.0" text-anchor="middle">16</text><text x="467.5" y="338.0" text-anchor="middle">17</text><text x="474.3" y="338.0" text-anchor="middle">18</text><text x="480.6" y="338.0" text-anchor="middle">19</text><text x="491.5" y="338.0" text-anchor="middle">1</text><text x="502.7" y="338.0" text-anchor="middle">20</text><text x="509.7" y="338.0" text-anchor="middle">21</text><text x="516.1" y="338.0" text-anchor="middle">22</text><text x="521.6" y="338.0" text-anchor="middle">23</text><text x="527.2" y="338.0" text-anchor="middle">24</text><text x="532.3" y="338.0" text-anchor="middle">25</text><text x="537.0" y="338.0" text-anchor="middle">26</text><text x="541.7" y="338.0" text-anchor="middle">27</text><text x="546.2" y="338.0" text-anchor="middle">28</text><text x="550.9" y="338.0" text-anchor="middle">29</text><text x="560.1" y="338.0" text-anchor="middle">2</text><text x="572.7" y="338.0" text-anchor="middle">3</text><text x="584.5" y="338.0" text-anchor="middle">4</text><text x="596.2" y="338.0" text-anchor="middle">5</text><text x="607.8" y="338.0" text-anchor="middle">6</text><text x="619.0" y="338.0" text-anchor="middle">7</text><text x="629.9" y="338.0" text-anchor="middle">8</text><text x="640.6" y="338.0" text-anchor="middle">9</text></g>
<g font-size="4.1" font-weight="bold" fill="#222" text-anchor="middle">
<text transform="translate(393.2 57.0) rotate(-90)">Fst</text>
<text transform="translate(393.2 139.0) rotate(-90)">π-ratio</text>
<text transform="translate(393.2 219.0) rotate(-90)">XP-CLR</text>
<text transform="translate(393.2 303.6) rotate(-90)">XP-EHH</text>
</g>
<text x="518.3" y="342.0" font-size="4.2" fill="#222" text-anchor="middle">CHROM</text>
<path d="M388.5 342.6H650" stroke="#e4e4e4" stroke-width="0.5" fill="none"/>
<g font-size="4.75" fill="#111" stroke="#111" stroke-width="0.12">
<text x="399.9" y="16.2">ATP5PO</text>
<text x="416.7" y="24.6">SPAG16</text>
<text x="477" y="24.6">CD14</text>
<text x="477" y="30.2">DND1</text>
<text x="519" y="26.2">KDM3A</text>
<text x="519" y="32.1">IL36A</text>
<text x="565" y="15.7">CCDC157</text>
<text x="565" y="21.2">MTFP1</text>
<text x="565" y="26.6">ZNRF3</text>
<text x="574.7" y="36.3">KIAA0753</text>
<text x="624.1" y="16.2">SFXN3</text>
</g>
<path d="M409.2 18.7L410.6 37.4M423.5 27.3L425.8 41.6M482.1 35.5L483.3 43.2M525.3 33.9L525.6 41.6M570.9 29.3L573.5 43.6M586.1 38.5L587.5 43.4M630.2 19.2L628 33.5" stroke="#111" stroke-width="0.75" fill="none"/>
</g>
</svg>
</body></html>
